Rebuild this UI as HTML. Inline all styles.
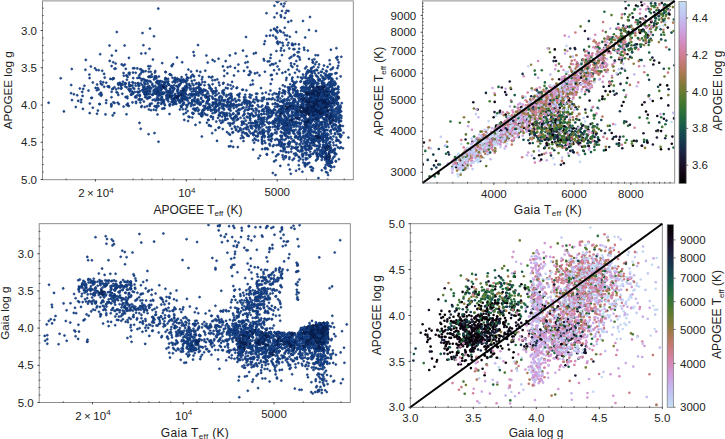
<!DOCTYPE html><html><head><meta charset="utf-8"><style>html,body{margin:0;padding:0;background:#fff;}svg{display:block;}text{font-family:"Liberation Sans", sans-serif;fill:#222;}</style></head><body>
<svg width="725" height="439" viewBox="0 0 725 439">
<defs>
<linearGradient id="cbTR" x1="0" y1="0" x2="0" y2="1"><stop offset="0.000" stop-color="#c5dff2"/><stop offset="0.025" stop-color="#c2d7f3"/><stop offset="0.050" stop-color="#c1cdf3"/><stop offset="0.075" stop-color="#c2c5f3"/><stop offset="0.100" stop-color="#c5baf0"/><stop offset="0.125" stop-color="#c8b1ec"/><stop offset="0.150" stop-color="#cca6e4"/><stop offset="0.175" stop-color="#cf9ddb"/><stop offset="0.200" stop-color="#d295d0"/><stop offset="0.225" stop-color="#d48dc1"/><stop offset="0.250" stop-color="#d487b2"/><stop offset="0.275" stop-color="#d381a0"/><stop offset="0.300" stop-color="#cf7e8f"/><stop offset="0.325" stop-color="#c87b7c"/><stop offset="0.350" stop-color="#bf796d"/><stop offset="0.375" stop-color="#b5795e"/><stop offset="0.400" stop-color="#a7794f"/><stop offset="0.425" stop-color="#997944"/><stop offset="0.450" stop-color="#877a3a"/><stop offset="0.475" stop-color="#787b34"/><stop offset="0.500" stop-color="#667a30"/><stop offset="0.525" stop-color="#577a2f"/><stop offset="0.550" stop-color="#467830"/><stop offset="0.575" stop-color="#3a7533"/><stop offset="0.600" stop-color="#2f7137"/><stop offset="0.625" stop-color="#256b3d"/><stop offset="0.650" stop-color="#1e6542"/><stop offset="0.675" stop-color="#195d48"/><stop offset="0.700" stop-color="#16554b"/><stop offset="0.725" stop-color="#154b4e"/><stop offset="0.750" stop-color="#15424e"/><stop offset="0.775" stop-color="#17374d"/><stop offset="0.800" stop-color="#182f49"/><stop offset="0.825" stop-color="#1a2744"/><stop offset="0.850" stop-color="#1b1e3b"/><stop offset="0.875" stop-color="#1a1733"/><stop offset="0.900" stop-color="#181027"/><stop offset="0.925" stop-color="#150b1d"/><stop offset="0.950" stop-color="#0f0611"/><stop offset="0.975" stop-color="#080308"/><stop offset="1.000" stop-color="#000000"/></linearGradient>
<linearGradient id="cbBR" x1="0" y1="0" x2="0" y2="1"><stop offset="0.000" stop-color="#000000"/><stop offset="0.025" stop-color="#080308"/><stop offset="0.050" stop-color="#0f0611"/><stop offset="0.075" stop-color="#150b1d"/><stop offset="0.100" stop-color="#181027"/><stop offset="0.125" stop-color="#1a1733"/><stop offset="0.150" stop-color="#1b1e3b"/><stop offset="0.175" stop-color="#1a2744"/><stop offset="0.200" stop-color="#182f49"/><stop offset="0.225" stop-color="#17374d"/><stop offset="0.250" stop-color="#15424e"/><stop offset="0.275" stop-color="#154b4e"/><stop offset="0.300" stop-color="#16554b"/><stop offset="0.325" stop-color="#195d48"/><stop offset="0.350" stop-color="#1e6542"/><stop offset="0.375" stop-color="#256b3d"/><stop offset="0.400" stop-color="#2f7137"/><stop offset="0.425" stop-color="#3a7533"/><stop offset="0.450" stop-color="#467830"/><stop offset="0.475" stop-color="#577a2f"/><stop offset="0.500" stop-color="#667a30"/><stop offset="0.525" stop-color="#787b34"/><stop offset="0.550" stop-color="#877a3a"/><stop offset="0.575" stop-color="#997944"/><stop offset="0.600" stop-color="#a7794f"/><stop offset="0.625" stop-color="#b5795e"/><stop offset="0.650" stop-color="#bf796d"/><stop offset="0.675" stop-color="#c87b7c"/><stop offset="0.700" stop-color="#cf7e8f"/><stop offset="0.725" stop-color="#d381a0"/><stop offset="0.750" stop-color="#d487b2"/><stop offset="0.775" stop-color="#d48dc1"/><stop offset="0.800" stop-color="#d295d0"/><stop offset="0.825" stop-color="#cf9ddb"/><stop offset="0.850" stop-color="#cca6e4"/><stop offset="0.875" stop-color="#c8b1ec"/><stop offset="0.900" stop-color="#c5baf0"/><stop offset="0.925" stop-color="#c2c5f3"/><stop offset="0.950" stop-color="#c1cdf3"/><stop offset="0.975" stop-color="#c2d7f3"/><stop offset="1.000" stop-color="#c5dff2"/></linearGradient>
<clipPath id="cTL"><rect x="42.5" y="0.9" width="310.8" height="178.79999999999998"/></clipPath>
<clipPath id="cBL"><rect x="39.2" y="223.7" width="311.1" height="178.8"/></clipPath>
<clipPath id="cTR"><rect x="422.5" y="0.9" width="252.20000000000005" height="182.1"/></clipPath>
<clipPath id="cBR"><rect x="410.3" y="223.7" width="251.99999999999994" height="183.60000000000002"/></clipPath>
<marker id="mB" markerWidth="4" markerHeight="4" refX="2" refY="2" markerUnits="userSpaceOnUse" overflow="visible"><circle cx="2" cy="2" r="1.05" fill="#1b4f98" stroke="#0d2c68" stroke-width="0.5"/></marker>
<marker id="mD" markerWidth="4" markerHeight="4" refX="2" refY="2" markerUnits="userSpaceOnUse" overflow="visible"><circle cx="2" cy="2" r="1.05" fill="#0d2f6e" stroke="#06163a" stroke-width="0.6"/></marker>
<marker id="k0" markerWidth="4" markerHeight="4" refX="2" refY="2" markerUnits="userSpaceOnUse" overflow="visible"><circle cx="2" cy="2" r="1.3" fill="#070206"/></marker><marker id="k1" markerWidth="4" markerHeight="4" refX="2" refY="2" markerUnits="userSpaceOnUse" overflow="visible"><circle cx="2" cy="2" r="1.3" fill="#120817"/></marker><marker id="k2" markerWidth="4" markerHeight="4" refX="2" refY="2" markerUnits="userSpaceOnUse" overflow="visible"><circle cx="2" cy="2" r="1.3" fill="#191129"/></marker><marker id="k3" markerWidth="4" markerHeight="4" refX="2" refY="2" markerUnits="userSpaceOnUse" overflow="visible"><circle cx="2" cy="2" r="1.3" fill="#1b1c3a"/></marker><marker id="k4" markerWidth="4" markerHeight="4" refX="2" refY="2" markerUnits="userSpaceOnUse" overflow="visible"><circle cx="2" cy="2" r="1.3" fill="#192a46"/></marker><marker id="k5" markerWidth="4" markerHeight="4" refX="2" refY="2" markerUnits="userSpaceOnUse" overflow="visible"><circle cx="2" cy="2" r="1.3" fill="#16394d"/></marker><marker id="k6" markerWidth="4" markerHeight="4" refX="2" refY="2" markerUnits="userSpaceOnUse" overflow="visible"><circle cx="2" cy="2" r="1.3" fill="#15494e"/></marker><marker id="k7" markerWidth="4" markerHeight="4" refX="2" refY="2" markerUnits="userSpaceOnUse" overflow="visible"><circle cx="2" cy="2" r="1.3" fill="#175a49"/></marker><marker id="k8" markerWidth="4" markerHeight="4" refX="2" refY="2" markerUnits="userSpaceOnUse" overflow="visible"><circle cx="2" cy="2" r="1.3" fill="#1f6741"/></marker><marker id="k9" markerWidth="4" markerHeight="4" refX="2" refY="2" markerUnits="userSpaceOnUse" overflow="visible"><circle cx="2" cy="2" r="1.3" fill="#2d7038"/></marker><marker id="k10" markerWidth="4" markerHeight="4" refX="2" refY="2" markerUnits="userSpaceOnUse" overflow="visible"><circle cx="2" cy="2" r="1.3" fill="#417731"/></marker><marker id="k11" markerWidth="4" markerHeight="4" refX="2" refY="2" markerUnits="userSpaceOnUse" overflow="visible"><circle cx="2" cy="2" r="1.3" fill="#5a7a2f"/></marker><marker id="k12" markerWidth="4" markerHeight="4" refX="2" refY="2" markerUnits="userSpaceOnUse" overflow="visible"><circle cx="2" cy="2" r="1.3" fill="#757b33"/></marker><marker id="k13" markerWidth="4" markerHeight="4" refX="2" refY="2" markerUnits="userSpaceOnUse" overflow="visible"><circle cx="2" cy="2" r="1.3" fill="#907a3e"/></marker><marker id="k14" markerWidth="4" markerHeight="4" refX="2" refY="2" markerUnits="userSpaceOnUse" overflow="visible"><circle cx="2" cy="2" r="1.3" fill="#a97951"/></marker><marker id="k15" markerWidth="4" markerHeight="4" refX="2" refY="2" markerUnits="userSpaceOnUse" overflow="visible"><circle cx="2" cy="2" r="1.3" fill="#be796a"/></marker><marker id="k16" markerWidth="4" markerHeight="4" refX="2" refY="2" markerUnits="userSpaceOnUse" overflow="visible"><circle cx="2" cy="2" r="1.3" fill="#cc7c86"/></marker><marker id="k17" markerWidth="4" markerHeight="4" refX="2" refY="2" markerUnits="userSpaceOnUse" overflow="visible"><circle cx="2" cy="2" r="1.3" fill="#d382a3"/></marker><marker id="k18" markerWidth="4" markerHeight="4" refX="2" refY="2" markerUnits="userSpaceOnUse" overflow="visible"><circle cx="2" cy="2" r="1.3" fill="#d48cbe"/></marker><marker id="k19" markerWidth="4" markerHeight="4" refX="2" refY="2" markerUnits="userSpaceOnUse" overflow="visible"><circle cx="2" cy="2" r="1.3" fill="#d198d4"/></marker><marker id="k20" markerWidth="4" markerHeight="4" refX="2" refY="2" markerUnits="userSpaceOnUse" overflow="visible"><circle cx="2" cy="2" r="1.3" fill="#cba8e5"/></marker><marker id="k21" markerWidth="4" markerHeight="4" refX="2" refY="2" markerUnits="userSpaceOnUse" overflow="visible"><circle cx="2" cy="2" r="1.3" fill="#c5b8ef"/></marker><marker id="k22" markerWidth="4" markerHeight="4" refX="2" refY="2" markerUnits="userSpaceOnUse" overflow="visible"><circle cx="2" cy="2" r="1.3" fill="#c1caf3"/></marker><marker id="k23" markerWidth="4" markerHeight="4" refX="2" refY="2" markerUnits="userSpaceOnUse" overflow="visible"><circle cx="2" cy="2" r="1.3" fill="#c3d9f3"/></marker>
</defs>
<g clip-path="url(#cTL)" fill="none" stroke-linecap="round">
<path stroke="none" marker-start="url(#mB)" marker-mid="url(#mB)" marker-end="url(#mB)" d="M223.9 104.6 331.0 147.6 204.4 109.6 312.2 92.4 301.0 90.9 156.2 82.2 275.1 129.7 266.8 110.9 249.9 118.6 230.7 110.6 156.2 94.1 230.0 116.1 282.6 109.0 169.2 85.1 157.8 89.1 329.5 158.4 313.2 109.6 185.1 80.9 320.0 94.6 216.4 91.3 301.1 146.4 340.6 137.2 298.2 139.0 185.9 87.3 296.5 148.0 215.5 130.1 328.6 158.2 309.6 132.5 241.8 104.6 343.5 132.8 138.9 77.6 185.9 94.4 328.0 100.8 172.3 95.8 331.5 115.5 326.7 71.5 234.6 105.5 138.5 84.1 226.8 113.1 308.8 98.6 316.8 100.4 130.8 89.1 129.5 74.5 304.2 83.5 333.2 102.3 193.4 105.3 278.4 94.1 301.2 139.1 177.5 81.7 144.7 83.8 181.6 77.1 264.0 113.9 333.1 67.6 177.0 57.5 258.3 117.0 156.7 105.8 298.8 160.8 296.7 116.2 268.0 137.0 276.2 115.4 287.1 35.6 232.3 123.5 319.7 103.1 259.0 125.7 302.0 104.9 330.5 96.4 262.2 98.1 236.8 116.6 288.4 97.5 283.6 6.3 198.6 93.0 278.3 126.0 192.1 100.7 329.0 152.8 298.7 112.3 179.2 85.7 277.5 66.5 288.3 117.9 306.0 85.7 300.4 158.9 269.6 109.7 239.3 97.0 318.3 106.1 227.4 105.1 289.5 157.3 321.8 156.3 192.3 100.1 289.1 90.1 232.5 132.6 298.7 101.4 289.8 102.8 322.2 89.4 125.5 83.4 333.3 98.3 200.0 90.2 250.7 133.4 261.0 88.1 330.5 170.4 220.3 102.6 340.8 126.0 297.8 104.0 137.8 83.4 309.1 77.9 245.2 94.7 281.8 123.8 277.3 112.3 277.0 119.8 215.9 102.9 295.2 113.0 284.9 94.0 278.5 128.8 323.9 119.5 296.5 125.2 78.2 100.9 313.9 92.9 194.2 101.4 119.4 84.2 262.4 110.8 215.8 99.6 292.1 122.2 253.4 133.0 305.6 83.1 320.2 116.8 326.6 145.6 179.6 101.1 317.9 145.7 212.3 105.3 284.6 130.7 287.0 131.2 191.6 102.8 167.1 94.7 284.5 3.5 310.1 130.2 312.4 99.3 197.5 102.9 316.2 104.8 179.6 94.9 311.9 86.1 258.9 115.8 194.3 108.8 279.3 109.7 323.6 142.1 234.7 116.9 100.2 54.2 113.4 102.3 275.0 125.7 275.7 37.0 161.7 89.3 325.8 150.4 295.6 95.3 193.7 89.8 287.3 119.8 118.9 104.1 250.3 115.4 334.7 153.5 305.3 98.6 231.3 103.6 269.0 136.6 288.0 108.0 286.3 152.3 302.3 120.5 247.7 117.4 300.4 128.8 332.7 85.2 77.2 95.3 162.3 102.8 336.5 118.9 158.9 76.5 271.8 111.7 296.4 110.2 327.9 103.4 89.4 74.6 230.3 66.5 266.6 121.6 174.0 103.5 242.9 89.7 316.7 128.2 133.0 72.6 301.0 81.3 174.6 98.2 282.1 93.1 331.8 122.5 268.7 107.8 279.1 120.5 322.6 147.6 307.7 98.7 170.4 93.1 318.6 102.0 302.2 94.4 276.3 30.2 306.8 135.1 338.7 106.7 337.5 68.1 290.8 173.8 317.5 107.7 294.1 99.8 330.3 110.1 325.0 147.1 132.0 91.6 292.3 118.2 315.8 125.9 333.9 93.2 295.0 72.8 144.2 82.4 314.2 71.3 303.0 99.7 244.4 113.7 230.4 101.8 171.8 65.5 262.4 105.6 291.8 146.8 278.5 154.2 306.2 119.8 270.6 139.8 274.3 109.3 329.3 142.9 282.5 128.6 322.0 92.1 293.2 131.0 298.8 156.9 283.3 100.4 332.2 68.8 290.7 136.8 314.8 102.6 264.0 132.4 263.7 59.0 256.5 115.0 254.7 131.7 243.8 121.7 332.1 162.4 287.7 104.6 301.9 150.1 156.4 89.9 271.3 99.3 253.0 140.3 250.4 125.7 274.8 99.7 164.5 93.1 164.5 82.6 323.9 105.3 253.0 101.6 106.1 103.0 242.2 132.8 85.8 59.9 318.9 116.4 280.5 135.8 314.8 91.2 258.2 119.5 279.5 111.2 301.2 142.1 336.2 121.4 209.8 106.3 313.7 131.6 277.7 104.4 319.7 91.8 325.1 152.3 116.8 32.0 208.4 107.2 145.1 92.3 194.9 104.5 267.6 117.6 285.6 120.8 284.2 122.0 297.1 69.6 321.8 170.3 256.4 110.5 255.9 52.9 310.7 95.5 296.4 112.3 156.5 77.6 309.6 88.6 228.7 102.3 157.9 80.9 300.6 129.1 302.1 89.4 175.0 77.8 301.1 116.8 111.5 105.0 335.2 111.7 274.1 70.2 139.3 75.4 282.8 124.2 138.7 88.8 171.7 96.1 212.7 102.5 274.4 5.7 267.0 154.7 329.3 74.2 211.0 110.1 340.2 115.1 232.7 119.1 156.7 107.7 248.0 113.5 334.8 109.6 293.7 55.5 312.7 93.8 261.7 117.7 293.7 140.2 315.1 127.2 318.6 73.1 224.1 90.0 124.6 45.5 295.9 109.6 126.5 114.3 336.8 94.8 309.2 95.3 114.3 113.1 220.6 96.1 198.0 45.1 273.3 110.6 277.7 105.2 338.1 134.1 225.0 116.6 303.0 74.6 174.5 103.2 208.9 76.9 341.0 147.4 296.3 144.5 302.9 115.1 334.7 156.2 322.3 97.7 219.8 120.6 111.5 97.3 304.6 130.4 302.4 115.0 293.2 101.4 133.2 93.6 226.4 96.4 314.5 145.8 231.2 117.9 331.5 107.2 248.8 123.0 293.1 45.1 278.9 120.9 180.3 83.8 180.5 102.4 292.6 160.0 328.1 125.5 253.8 99.6 331.2 133.5 214.7 107.6 205.0 90.4 234.0 75.5 141.6 80.6 339.5 130.7 263.7 99.2 311.5 96.9 252.5 109.2 103.2 82.2 319.5 116.4 165.0 105.2 246.7 124.7 325.0 124.0 209.0 99.4 318.3 104.5 233.2 146.9 298.0 147.1 217.7 105.5 135.4 83.4 287.9 112.5 310.5 111.6 321.9 88.7 214.7 112.8 297.3 132.5 253.6 111.0 310.9 138.1 338.8 128.4 298.8 165.3 150.7 81.9 166.1 89.7 177.4 78.9 297.2 93.5 303.9 98.6 201.8 136.5 309.7 138.4 328.4 89.6 230.5 107.8 269.3 116.0 307.2 106.0 302.7 127.2 222.7 91.8 299.9 132.5 271.6 111.0 272.0 138.7 270.0 145.4 322.5 82.5 323.3 107.8 185.0 96.4 280.7 146.2 212.7 105.8 149.1 91.1 245.4 97.4 170.4 90.5 242.8 107.8 313.7 115.6 261.4 100.6 224.3 70.6 243.6 107.6 204.5 85.2 320.6 114.0 328.3 159.8 233.4 105.2 183.6 94.0 327.7 179.7 294.7 109.7 171.8 66.2 242.9 137.4 312.8 95.3 296.1 170.7 287.8 87.4 118.4 84.7 308.3 142.0 149.8 81.0 276.6 1.2 271.3 136.8 330.5 131.2"/><path stroke="none" marker-start="url(#mD)" marker-mid="url(#mD)" marker-end="url(#mD)" d="M328.0 95.1 305.4 83.6 305.8 91.6 326.1 159.0 329.8 149.4 312.7 102.8 315.3 110.1 317.5 105.0 316.9 104.4 317.0 114.5 310.7 100.5 313.6 103.8 327.6 145.4 328.8 159.2 313.7 99.6 327.2 92.3 313.8 80.4 286.0 109.6 302.6 107.7 312.6 85.6 318.0 107.6 315.9 109.9 311.6 93.2 314.2 93.9 327.7 111.9 311.9 84.9 322.7 137.4 322.4 88.8 302.0 99.2 317.7 138.0 162.0 85.8 323.4 96.4 305.9 123.0 311.7 83.3 301.1 111.9 311.4 108.0 326.1 94.6 323.3 89.2 316.0 135.9 293.3 105.8 318.4 106.5 169.7 95.0 328.6 96.5 323.0 110.4 308.8 127.4 316.0 139.9 307.1 124.0 325.5 109.0 181.3 92.6 332.3 100.7 300.2 107.8"/><path stroke="none" marker-start="url(#mB)" marker-mid="url(#mB)" marker-end="url(#mB)" d="M314.1 80.5 280.0 42.3 236.4 105.1 215.0 80.1 114.5 87.3 303.2 115.0 199.8 122.5 330.5 78.4 306.2 143.2 275.2 103.2 326.1 142.6 276.5 145.2 302.8 143.8 284.2 145.1 178.5 100.4 221.0 112.9 267.7 61.5 224.0 93.0 143.7 92.5 333.4 98.8 302.5 154.2 218.6 58.7 258.5 158.3 123.4 65.6 152.9 59.5 301.8 151.5 296.3 107.3 325.4 78.7 265.9 92.6 310.7 121.0 258.0 136.1 160.3 86.2 206.3 103.3 168.0 83.9 324.2 130.4 301.1 123.1 90.8 66.5 330.3 141.9 193.4 113.3 270.7 83.9 310.9 106.8 321.5 87.4 275.0 106.8 216.3 90.4 222.9 103.8 158.9 93.0 326.8 114.7 274.9 132.9 306.9 136.4 323.2 114.7 297.4 92.5 297.9 115.3 172.0 86.9 304.3 121.8 332.6 90.0 324.3 132.1 144.3 88.2 138.0 92.4 193.7 94.1 82.6 95.9 310.4 129.5 323.8 146.1 335.0 148.8 200.5 88.6 293.3 102.6 212.4 76.7 101.1 95.8 309.0 58.9 277.8 128.5 196.4 102.0 288.1 143.6 329.9 156.0 281.7 142.2 262.2 149.1 332.9 112.6 315.6 88.1 322.2 95.8 287.4 120.0 223.6 112.9 298.7 96.7 288.3 109.4 209.2 107.9 309.3 98.8 311.3 143.0 242.3 89.8 227.2 105.7 323.9 145.6 236.6 120.0 295.4 155.6 263.3 122.3 316.3 113.0 336.2 115.5 237.5 94.9 244.3 102.0 339.4 112.3 209.6 104.4 338.3 87.2 328.4 112.7 249.7 114.4 155.2 85.9 272.9 146.2 314.4 88.9 306.5 143.0 198.8 86.8 158.5 106.1 314.7 139.3 158.2 98.5 336.3 118.6 152.8 94.6 321.7 72.0 285.0 116.5 296.9 106.7 327.9 161.1 315.2 125.3 335.1 128.0 303.1 106.8 291.3 103.5 303.9 117.9 218.2 105.3 232.7 105.4 147.3 98.8 291.9 106.1 178.7 96.2 321.4 90.8 299.5 97.4 313.1 112.9 306.4 108.2 340.7 120.9 268.4 129.3 231.9 100.4 320.5 106.7 299.9 133.6 328.0 75.8 238.2 131.5 158.4 99.7 311.4 130.4 255.0 122.7 162.0 92.8 285.3 91.7 149.8 76.7 238.2 71.2 318.3 67.2 289.3 141.6 336.6 130.2 145.9 93.2 281.5 144.4 313.9 93.7 293.1 89.9 277.4 123.5 181.0 105.8 287.0 109.1 189.5 97.9 279.4 109.5 244.3 99.5 292.0 112.0 195.2 93.9 145.6 80.3 292.7 115.8 258.6 100.6 205.9 97.1 301.9 101.2 200.4 93.7 92.8 82.5 319.1 64.4 179.7 84.7 335.9 98.0 128.8 89.5 266.4 114.1 322.6 154.3 246.8 116.7 318.5 80.7 231.4 141.2 296.8 108.3 315.7 112.4 228.7 133.6 321.4 116.5 178.3 99.5 252.6 105.7 197.2 99.7 330.9 81.5 284.4 148.3 311.2 129.6 323.0 151.3 73.9 94.2 281.6 121.5 319.3 88.4 276.2 93.9 308.1 72.4 242.5 102.7 159.7 94.1 318.3 107.6 319.7 89.8 157.1 87.5 308.1 146.1 275.5 175.0 256.6 123.4 322.2 81.3 328.2 103.9 309.5 132.9 145.2 97.3 320.7 105.4 337.5 93.2 340.2 129.0 261.9 139.8 270.1 130.0 300.5 94.0 209.6 86.1 289.4 100.3 207.5 102.6 303.7 101.8 269.9 35.6 254.6 138.6 295.2 136.9 318.1 110.4 325.4 112.4 294.4 49.2 178.0 89.7 276.4 38.5 201.2 97.8 296.2 121.8 294.4 64.1 318.1 136.4 322.6 96.4 132.5 102.4 332.4 79.6 322.1 126.9 312.2 106.2 289.5 131.9 305.8 149.8 305.2 163.1 144.9 92.2 146.6 97.3 123.6 106.6 203.2 109.8 319.8 92.5 311.0 122.4 279.1 119.3 177.8 93.5 243.0 50.6 314.6 116.9 147.0 94.1 269.0 123.6 186.5 99.7 231.3 93.9 290.6 126.3 297.5 106.7 337.4 103.4 150.4 76.8 311.4 148.5 276.9 13.3 155.0 90.3 307.9 70.4 298.3 118.9 131.2 94.6 294.6 86.4 324.5 129.7 265.3 142.9 139.7 98.7 284.5 140.1 337.4 113.7 334.0 89.9 292.6 121.5 207.0 101.2 209.0 125.2 302.1 148.3 161.5 87.0 231.5 88.7 211.7 89.3 231.6 98.5 277.7 41.6 222.1 112.4 303.4 77.3 305.6 92.1 158.7 84.8 172.5 101.4 322.8 152.4 303.5 128.0 144.6 91.4 321.2 88.2 343.0 148.3 208.1 119.9 229.9 105.3 192.6 94.8 315.0 89.3 298.0 94.5 286.2 129.4 82.9 108.9 289.3 130.5 279.5 0.1 309.9 145.1 286.5 77.9 157.9 103.4 304.2 128.8 319.7 153.3 334.4 115.5 206.0 95.7 323.0 136.9 272.7 152.3 276.3 114.8 319.9 124.0 109.1 87.3 312.7 79.1 229.4 113.5 303.2 87.6 206.4 55.5 260.1 155.7 271.7 135.1 208.7 84.8 292.3 106.1 126.6 75.6 244.3 111.6 279.4 141.5 321.5 111.9 310.7 134.5 233.0 114.1 321.8 83.2 330.6 137.0 323.2 84.1 319.7 100.9 333.3 115.7 292.5 119.2 319.2 129.2 138.5 86.0 286.3 109.8 326.9 120.6 156.1 110.2 235.9 115.2 327.9 84.1 321.0 75.4 228.7 108.9 309.9 99.7 327.0 145.2 282.8 102.5 191.7 104.0 181.7 107.0 191.5 76.1 315.5 108.9 268.1 110.1 299.8 136.1 321.8 149.9 194.7 97.4 48.6 102.7 300.4 81.7 305.6 128.4 308.5 89.9 212.5 80.3 316.6 104.2 334.8 102.4 332.2 84.1 302.5 96.6 318.5 83.5 320.1 117.4 260.8 119.1 322.4 97.2 289.4 116.0 289.1 88.4 331.7 167.3 292.0 124.9 318.3 133.2 194.8 98.7 112.7 115.4 219.3 97.0 198.9 109.8 324.0 65.6 196.1 88.5 205.6 114.6 312.4 108.0 327.4 138.1 268.0 117.9 257.7 122.1 277.2 27.4 306.9 94.7 322.5 86.6 222.6 90.9 324.7 150.6 191.4 103.5 199.5 104.6 266.9 109.2 222.4 120.6 225.4 118.7 326.7 136.9 324.8 92.7 327.1 99.7 131.8 94.4 216.3 121.6 199.0 82.8 216.1 106.9 225.9 87.9 271.9 64.1 283.0 147.8 161.2 99.9 326.5 135.9 332.1 127.1 299.3 134.0 321.4 88.2 187.0 107.0 158.8 83.3 333.5 136.4 291.5 138.7 284.7 129.9 235.8 101.5 245.4 128.0 283.0 101.5 208.5 104.3 333.9 103.6 330.3 161.5 182.9 104.5 311.4 170.1"/><path stroke="none" marker-start="url(#mD)" marker-mid="url(#mD)" marker-end="url(#mD)" d="M285.0 116.4 309.0 131.0 319.3 90.0 312.7 98.3 315.1 118.6 327.3 149.4 315.1 95.5 175.2 96.0 312.2 119.7 176.7 97.6 184.3 99.3 324.3 105.1 289.9 123.5 312.6 98.4 324.0 112.3 316.4 105.9 332.5 103.1 313.0 107.2 307.3 101.4 313.7 102.8 326.4 105.2 306.1 101.3 326.0 104.7 176.0 96.4 328.1 100.5 320.7 88.1 317.6 96.6 282.2 111.9 301.9 113.0 305.3 111.6 324.5 152.0 323.1 91.3 332.0 110.4 319.2 101.6 314.2 107.8 318.4 118.4 316.1 98.9 313.2 93.8 302.5 104.5 308.0 102.5 306.7 93.8 304.7 109.6 315.9 99.8 318.6 107.5 306.6 94.5 322.9 111.9 315.8 91.1 182.9 95.5 303.2 111.4 309.9 81.0 318.9 111.5 286.8 108.7 168.7 92.0 163.1 85.4 311.9 108.4 325.5 113.4 340.0 125.3 313.4 89.5 321.4 87.3"/><path stroke="none" marker-start="url(#mB)" marker-mid="url(#mB)" marker-end="url(#mB)" d="M160.9 85.7 320.3 80.5 214.3 108.7 220.0 115.8 222.1 116.8 327.1 148.5 286.1 0.6 140.3 102.5 290.2 84.2 171.7 93.7 147.1 91.4 193.2 113.9 185.8 109.1 239.0 109.2 278.5 96.0 165.0 88.4 315.4 91.2 284.9 128.8 336.9 139.6 317.9 156.9 271.8 74.9 150.0 28.6 296.6 122.9 199.4 88.8 185.1 92.7 190.0 94.0 212.9 119.1 288.1 103.4 295.9 87.6 313.9 142.6 185.9 112.9 236.4 111.2 303.4 86.7 305.0 116.4 282.6 124.3 207.5 107.9 199.8 91.8 315.5 106.3 308.4 122.1 316.7 86.8 245.4 100.8 292.8 115.1 337.0 109.2 199.8 84.9 155.3 71.0 165.8 78.9 296.2 96.4 326.6 117.5 190.2 89.6 250.9 102.7 218.5 127.8 176.3 86.0 260.0 131.8 159.4 95.6 310.3 119.6 273.1 123.9 254.9 73.4 310.0 106.7 163.0 94.0 333.3 117.0 324.5 101.9 316.0 95.8 254.6 102.5 319.7 141.0 307.2 135.4 154.6 106.2 311.7 102.0 140.0 91.2 288.4 126.1 331.7 74.3 312.3 106.3 281.5 110.0 187.2 87.5 143.9 101.5 182.5 98.4 326.0 87.9 265.1 149.1 297.6 52.3 306.9 127.3 198.5 101.0 302.2 104.1 319.1 95.5 158.1 90.5 277.4 154.8 312.5 100.3 201.6 112.7 302.1 78.7 183.6 103.9 316.3 98.6 318.4 178.1 250.7 122.6 296.7 118.7 177.3 78.6 132.5 82.2 330.6 166.4 191.4 94.3 102.2 70.8 303.1 91.1 283.6 120.6 292.0 44.9 289.0 110.6 147.8 92.4 233.1 132.2 323.8 137.3 304.0 117.0 158.6 94.0 309.1 148.4 114.5 103.0 310.6 75.6 169.5 114.0 319.5 110.6 323.0 108.2 188.4 95.0 127.8 103.6 328.7 105.3 274.1 161.4 312.6 153.8 285.9 156.4 215.2 95.7 328.6 153.9 248.0 135.6 317.9 109.8 306.5 66.7 281.4 121.2 247.4 103.2 313.5 124.6 326.5 106.9 310.3 95.9 212.6 84.2 287.7 136.9 198.4 92.2 317.5 98.7 272.2 113.7 322.4 99.3 329.8 75.6 322.5 83.7 323.7 86.6 238.9 105.3 150.2 90.0 309.7 118.1 300.2 140.0 322.2 124.3 119.9 82.7 325.3 111.3 318.5 95.4 290.1 107.1 306.5 152.9 335.8 161.0 284.5 99.3 323.1 142.1 195.4 94.4 330.7 138.3 339.0 109.4 234.7 126.5 283.1 106.0 320.1 103.5 275.7 126.8 145.6 71.1 305.3 115.3 174.0 88.5 217.0 140.9 336.7 98.8 299.9 144.2 340.3 105.5 287.0 119.0 256.4 127.9 309.2 102.2 233.2 86.6 240.5 117.8 324.6 106.3 294.4 115.5 328.5 77.9 313.8 96.4 295.2 100.4 312.8 99.7 308.7 114.1 330.3 165.5 333.7 145.2 187.1 77.2 238.6 95.3 175.0 102.0 329.2 142.7 202.7 95.1 325.4 102.9 89.6 78.1 326.8 92.9 303.3 133.3 255.7 125.6 325.4 140.3 324.6 118.8 255.8 126.7 265.6 107.9 264.7 135.9 175.3 82.6 311.2 140.3 304.6 153.0 169.9 88.9 150.7 71.8 91.9 97.8 253.8 53.6 297.9 123.1 112.2 89.1 118.5 88.2 141.9 99.4 163.1 93.9 250.5 97.7 325.4 110.9 285.0 122.4 289.3 48.4 331.1 85.0 272.8 98.2 313.0 113.0 262.3 126.2 290.1 116.2 189.1 85.3 315.3 128.2 322.8 76.9 318.4 131.1 195.9 91.3 307.0 149.2 256.0 139.9 312.9 111.4 269.3 136.0 205.3 70.7 220.3 103.6 238.5 114.1 281.2 4.1 313.2 153.8 318.8 109.7 200.0 102.6 329.3 104.9 284.4 127.9 121.1 85.9 319.7 94.4 287.6 45.2 290.0 96.2 284.4 147.3 308.8 99.9 152.3 83.7 337.6 59.8 339.9 134.1 307.1 99.9 173.2 100.4 281.3 48.1 335.9 125.1 106.3 100.3 289.5 109.4 292.3 43.6 338.0 103.0 180.3 92.9 332.3 139.5 308.7 131.0 216.7 94.7 306.9 87.6 313.0 119.9 215.9 105.5 320.1 124.3 310.9 115.9 186.6 85.6 316.2 146.0 169.8 105.8 313.5 93.2 291.3 56.9 177.9 98.0 279.8 101.7 330.3 145.0 206.9 108.2 192.2 100.9 316.0 99.8 227.0 132.1 314.8 110.7 302.6 115.4 164.1 102.0 268.3 111.3 157.3 99.1 158.3 8.6 333.3 142.6 282.5 42.9 309.7 131.0 301.2 138.7 222.1 106.2 263.3 135.5 323.1 134.6 315.5 109.3 334.6 83.4 329.9 64.2 334.3 85.3 320.7 156.3 189.6 117.1 326.0 137.7 89.7 113.1 275.7 63.3 210.0 87.9 339.7 148.2 302.2 96.4 140.7 128.8 270.2 65.2 232.1 81.9 271.1 116.3 240.2 128.7 330.0 109.3 270.3 113.2 156.1 76.3 299.1 95.5 209.5 95.9 325.1 107.8 308.0 94.0 284.9 144.1 270.4 90.6 276.0 156.2 327.3 161.0 242.5 121.9 341.2 111.4 282.8 85.3 213.0 117.1 329.5 161.0 331.8 101.9 79.8 88.5 312.2 75.6 296.2 32.1 155.9 91.5 219.6 113.0 207.1 93.5 326.5 146.3 227.8 99.5 283.7 159.3 224.2 114.7 338.4 112.5 155.6 93.3 314.3 99.6 340.1 107.9 326.1 143.9 320.8 128.4 182.4 101.3 277.7 111.5 313.7 139.1 156.6 90.3 155.6 106.5 326.1 126.5 294.5 112.5 320.8 97.8 194.2 55.6 325.1 123.8 126.6 75.5 205.9 97.7 310.6 76.5 174.7 103.9 324.6 167.8 300.8 94.8 201.0 84.5 161.9 96.7 280.3 165.9 264.9 71.7 259.1 111.6 202.1 113.0 337.5 102.8 262.8 123.5 153.8 109.7 201.5 116.3 322.6 77.9 148.7 98.0 318.7 102.9 246.1 133.2 133.1 87.7 309.5 83.0 135.6 96.3 299.3 100.0 249.8 94.6 277.5 100.8 280.7 15.3 316.3 96.6 284.8 134.9 283.1 90.4 275.7 121.1 330.2 86.6 238.4 64.6 227.3 73.4 327.2 101.5 264.2 60.5 167.6 96.2 330.5 97.4 312.4 60.0 288.4 90.2 284.7 17.9 212.6 113.3 309.2 88.2 293.9 119.0 331.6 98.7 325.4 75.7 330.7 82.1 278.3 124.3 132.8 92.2 309.3 102.1 325.9 97.4 135.1 97.3 289.4 87.2 218.6 104.9 97.1 84.5 258.8 111.2 180.2 80.9 274.4 17.3 302.4 171.7 192.9 95.2 258.7 133.3 316.5 62.0 204.2 109.8 261.6 120.6 253.7 134.9 276.6 131.7 159.1 92.5 288.0 133.1 297.3 90.7 171.3 75.2 276.9 97.2 316.0 123.3 320.7 140.6 329.7 85.3 209.2 125.4 229.4 107.0 263.2 134.0 230.3 123.6 322.7 153.2 255.6 121.3 244.4 123.8 195.4 110.7 337.7 104.2 294.9 90.4 277.0 42.6"/><path stroke="none" marker-start="url(#mD)" marker-mid="url(#mD)" marker-end="url(#mD)" d="M312.8 113.6 311.0 107.7 182.5 91.0 183.5 90.5 312.4 98.8 317.5 114.2 327.8 110.2 325.3 109.4 321.1 103.2 207.6 97.0 325.1 93.5 306.2 123.6 319.4 103.7 319.7 100.6 327.0 146.8 313.3 119.0 320.0 92.4 308.5 109.6 306.2 93.6 307.6 113.7 305.1 109.8 327.3 115.8 315.1 104.4 169.4 91.3 318.0 102.0 321.8 105.3 307.3 122.4 313.5 101.6 329.1 154.3 316.7 107.4 302.3 105.3 309.7 86.9 311.1 111.3 317.4 107.2 318.8 126.6 295.7 117.8 316.6 108.0 308.9 107.8 314.2 107.8"/><path stroke="none" marker-start="url(#mB)" marker-mid="url(#mB)" marker-end="url(#mB)" d="M222.1 97.2 159.9 99.6 227.9 84.6 314.7 113.6 289.6 58.2 97.9 110.6 266.8 119.4 291.5 98.7 221.6 99.1 147.9 93.8 97.8 88.0 324.3 83.0 282.6 127.3 296.2 113.0 329.7 86.6 96.8 90.3 133.2 78.1 283.4 124.3 188.4 78.1 166.4 79.0 233.8 108.1 196.9 94.0 243.9 97.2 334.4 102.7 318.5 120.4 280.6 121.1 283.1 45.5 258.2 140.6 306.7 89.4 258.0 125.6 322.4 89.6 228.8 98.8 304.6 124.2 252.6 80.5 201.1 114.7 229.6 110.0 233.5 123.3 214.1 91.3 311.5 90.7 189.2 84.0 304.1 128.8 336.3 57.9 320.1 113.7 277.6 127.6 320.4 101.2 300.1 129.0 284.4 91.6 179.9 109.5 144.5 88.9 183.4 79.4 252.6 115.1 88.5 90.6 296.6 107.1 249.9 114.5 163.8 84.5 256.6 109.3 305.2 128.2 318.0 119.1 214.9 99.2 278.3 145.0 316.1 75.3 168.9 96.2 249.3 101.4 271.7 133.7 147.7 83.7 322.5 122.1 252.6 123.0 207.6 91.6 323.0 93.8 143.3 87.5 303.3 116.5 317.8 99.2 252.9 84.3 264.4 141.0 283.6 32.7 318.1 112.1 258.8 129.4 327.6 139.7 297.5 95.9 118.2 83.4 318.3 149.2 293.3 85.4 319.2 134.5 163.4 92.2 325.3 130.5 271.6 122.8 155.9 78.0 264.9 41.2 291.4 148.9 292.0 130.7 327.5 88.9 268.7 139.7 285.7 119.9 319.9 95.2 348.4 137.5 143.1 89.7 276.9 73.7 305.2 37.5 154.6 77.7 338.9 159.2 249.6 74.6 169.7 74.4 317.8 158.7 269.4 143.9 326.6 129.9 327.9 124.4 312.2 139.3 224.2 76.0 315.9 89.2 255.7 112.8 215.1 107.7 295.9 136.2 338.8 126.8 128.7 89.4 187.5 98.3 156.8 98.3 175.4 101.1 218.8 103.1 187.6 105.1 308.2 119.9 330.5 121.3 330.7 98.9 251.7 113.4 333.5 123.9 313.4 141.0 153.6 90.4 304.7 109.7 297.9 94.3 256.1 127.1 323.6 132.8 268.6 131.7 302.5 150.7 279.2 93.5 205.7 90.3 313.6 114.8 267.3 104.0 299.9 59.6 326.7 161.8 292.1 97.0 244.3 118.3 250.0 104.9 315.6 115.8 249.4 102.7 331.0 130.1 149.7 87.8 222.5 93.1 258.1 133.7 141.2 69.5 163.9 100.4 248.8 103.1 312.1 116.6 174.2 81.1 276.4 30.9 321.2 109.9 310.5 70.7 272.9 112.1 324.2 129.3 316.4 69.7 259.9 124.0 286.0 130.2 149.8 105.9 164.3 103.9 207.3 101.6 299.4 136.9 174.4 88.5 321.2 111.0 202.7 110.9 194.5 80.2 217.2 104.3 281.8 132.5 301.5 104.5 313.1 84.1 316.9 156.0 284.8 27.8 297.8 150.5 311.8 96.5 160.2 81.0 289.4 107.6 182.1 100.3 321.2 137.9 282.0 11.0 293.6 130.2 285.6 157.6 264.4 137.3 285.8 120.2 130.9 85.8 306.7 123.1 283.7 144.3 321.5 151.9 168.7 84.6 294.4 133.9 283.7 108.6 213.8 103.7 139.8 95.7 304.0 47.7 339.3 127.2 277.6 32.4 294.7 115.3 322.0 124.4 218.8 93.3 178.2 99.7 330.3 162.8 332.9 150.1 307.5 83.0 330.0 103.3 312.5 145.2 275.4 103.8 264.0 111.6 272.6 134.4 116.1 89.3 193.5 52.1 260.5 127.8 279.5 141.9 300.3 126.6 305.0 146.8 317.7 156.5 295.2 137.4 321.7 98.1 250.3 118.5 326.4 112.7 264.5 124.9 293.4 49.2 305.2 68.4 311.1 97.6 174.2 97.8 246.1 101.9 310.6 124.2 116.0 50.7 262.4 93.4 202.9 101.0 149.6 97.3 332.1 78.7 312.5 107.3 300.8 94.9 262.1 110.4 296.3 147.6 295.3 147.8 91.3 98.0 231.4 96.4 259.5 75.4 195.8 108.7 229.8 97.9 284.0 92.7 322.3 102.0 326.5 140.9 243.5 137.8 329.7 121.0 245.3 109.7 336.9 97.1 160.3 86.7 307.8 50.6 288.4 143.6 298.4 134.1 335.8 94.0 318.0 120.9 198.7 95.6 171.3 86.0 166.1 79.2 126.6 104.8 100.8 92.7 312.2 104.5 305.1 104.8 318.8 130.0 310.2 151.7 176.8 79.7 270.8 75.2 266.5 13.2 324.9 86.2 305.7 147.0 297.4 91.0 290.0 89.2 259.0 127.4 172.3 98.9 306.7 133.9 312.0 121.4 334.1 89.4 147.8 94.4 238.5 112.6 144.5 94.3 335.1 153.5 314.9 109.3 181.5 95.1 179.7 79.8 228.1 102.4 296.2 148.7 270.8 30.3 135.7 85.7 334.9 124.6 312.9 139.1 147.0 90.5 210.5 110.1 281.1 16.9 323.7 89.7 109.0 86.3 315.6 55.2 336.5 73.1 211.4 110.8 336.3 154.1 310.5 154.5 319.6 113.7 292.5 77.5 301.5 139.8 216.2 111.7 319.5 87.3 289.9 120.9 277.9 139.8 275.8 160.3 316.0 31.0 257.7 105.1 285.4 71.9 192.3 83.5 317.0 148.7 181.6 93.9 329.0 138.2 226.4 115.0 319.5 124.9 282.6 155.2 286.7 111.2 192.3 112.9 175.1 80.5 299.5 96.2 306.1 87.4 141.3 53.5 330.3 106.3 308.1 108.2 140.5 73.8 294.8 123.5 216.6 110.2 223.1 83.7 222.9 66.4 197.7 87.8 315.5 145.5 321.0 109.8 160.6 89.6 310.4 156.2 336.3 145.3 233.5 100.0 223.3 114.5 271.2 141.3 323.0 109.6 326.8 135.0 328.7 165.6 329.3 95.4 336.4 96.8 311.5 140.4 238.8 94.9 186.5 97.2 321.1 136.5 298.5 110.0 313.9 141.4 297.8 56.3 179.3 93.9 85.4 69.7 219.1 100.5 164.4 108.4 292.0 79.0 309.8 134.8 307.9 104.3 243.5 141.1 333.4 92.9 273.9 113.1 320.8 98.6 309.7 102.1 285.1 133.4 262.0 141.3 148.8 76.8 270.5 58.0 310.3 167.0 288.5 152.4 319.7 123.8 220.5 101.0 325.5 153.4 297.0 155.0 277.8 129.2 330.7 121.0 307.1 122.9 330.3 77.6 122.8 84.6 284.3 90.9 247.5 109.9 316.7 96.5 307.5 80.2 303.2 103.2 289.9 95.1 299.4 57.4 200.5 103.9 332.6 106.4 304.5 142.5 178.9 94.2 212.9 109.9 310.4 131.1 75.8 107.0 282.7 119.2 282.9 108.0 202.5 114.9 291.5 119.1 294.3 104.5 300.9 77.5 137.3 95.3 149.4 86.4 249.5 97.0 286.8 99.5 199.2 75.7 296.2 114.4 331.4 120.7 324.6 112.5 313.7 132.4 323.0 134.5 310.5 85.5 148.5 76.8 164.2 84.0 289.4 144.9 293.8 125.1 316.4 153.1 331.7 89.9 340.0 136.3 338.7 92.3 205.8 95.5 295.8 94.9 319.0 133.0 129.6 72.7 309.8 71.5 292.2 81.0"/><path stroke="none" marker-start="url(#mD)" marker-mid="url(#mD)" marker-end="url(#mD)" d="M311.5 107.5 321.7 103.8 320.1 100.2 309.1 94.1 285.5 106.1 329.6 151.2 316.9 102.4 313.6 106.9 327.6 96.9 331.4 103.6 310.6 102.0 307.3 109.3 301.9 114.6 327.6 91.4 318.4 114.2 302.0 99.0 309.3 115.0 315.3 97.8 181.8 99.6 326.2 156.8 301.8 95.2 284.6 126.2 325.5 158.7 332.5 100.2 317.9 86.9 329.5 91.9 317.8 111.3 317.6 136.1 321.8 96.6 307.9 109.7 309.6 100.3 325.3 157.4 325.7 119.4 325.4 99.9 324.2 119.2 290.8 105.8 321.9 100.9 319.1 86.8 306.2 93.6 280.4 113.4 307.9 110.2 307.1 101.9 327.4 116.2 305.4 115.0"/><path stroke="none" marker-start="url(#mB)" marker-mid="url(#mB)" marker-end="url(#mB)" d="M279.8 88.7 303.1 137.0 326.6 105.6 335.6 125.4 310.8 114.4 228.7 94.8 279.1 69.5 289.8 36.7 81.2 99.7 305.8 130.5 305.8 109.2 144.4 86.6 230.9 114.9 246.9 133.9 316.8 102.0 161.2 104.0 236.4 101.1 309.5 104.3 282.3 96.2 311.1 134.7 128.0 105.5 305.2 117.3 262.2 130.2 225.4 113.8 285.6 13.0 143.4 45.2 291.2 151.8 187.0 99.4 339.2 117.7 336.5 94.6 310.2 94.4 295.3 83.1 298.5 126.4 99.4 94.3 210.4 107.7 288.0 122.7 298.8 114.4 325.0 152.6 251.8 126.0 162.0 93.1 215.4 111.2 151.0 110.2 128.7 73.1 320.5 101.1 310.4 75.7 147.6 86.7 324.2 103.5 204.7 106.9 281.1 117.0 110.3 78.9 313.4 86.9 231.8 128.8 288.8 137.9 123.0 81.7 199.3 84.9 121.6 88.1 320.0 151.1 312.9 81.9 313.5 86.6 328.4 76.0 324.2 79.0 159.0 87.2 111.3 106.4 327.2 85.4 295.7 101.9 252.6 133.4 157.5 82.8 137.4 78.0 305.0 145.3 293.2 102.1 336.4 108.0 285.2 119.4 148.3 66.2 322.5 156.8 283.2 110.8 298.2 108.0 138.9 92.1 328.1 101.7 302.5 120.9 306.5 97.0 312.6 85.8 334.5 149.5 243.3 132.0 261.3 106.8 273.3 121.5 275.1 121.5 299.3 106.7 221.1 104.5 313.9 115.0 236.1 130.1 330.7 69.6 111.6 91.8 111.6 66.1 305.2 166.4 288.2 143.6 326.1 117.8 309.1 129.7 303.3 162.6 166.9 92.0 169.5 104.6 342.9 126.0 328.3 105.6 269.0 99.1 178.8 79.6 279.9 30.6 278.0 99.8 184.3 88.6 202.7 91.9 317.6 117.2 322.0 117.4 337.3 104.3 312.8 101.7 263.4 109.4 330.2 113.5 218.8 109.1 104.2 86.8 272.0 79.4 136.4 97.5 267.0 148.4 325.6 104.7 199.5 90.0 230.0 134.7 259.6 117.4 316.7 107.2 159.9 81.5 309.3 106.7 198.3 99.5 143.6 86.6 186.7 78.9 248.5 129.5 297.1 137.8 218.7 110.7 183.2 92.2 283.7 128.4 233.8 103.8 295.7 93.8 303.1 106.4 216.2 101.4 113.0 88.6 329.2 90.9 334.1 116.1 173.4 90.3 208.6 98.0 266.0 108.0 309.1 89.3 306.8 87.9 222.8 129.0 191.8 80.9 146.2 81.4 308.6 183.0 318.4 105.5 172.8 104.7 294.7 122.9 224.7 120.1 248.8 136.0 325.3 91.7 273.4 64.4 278.0 126.3 299.6 144.3 337.9 106.6 332.6 81.3 262.3 123.4 258.5 126.0 321.9 96.9 307.1 71.8 271.8 115.4 310.9 110.4 246.4 90.4 223.2 100.2 230.2 105.8 288.5 164.8 315.1 115.6 113.7 78.5 314.4 128.5 311.9 101.5 334.7 152.9 297.6 104.0 317.0 83.0 304.3 49.8 83.2 88.9 150.3 66.2 325.3 107.7 292.8 85.5 307.2 140.5 314.0 144.5 335.1 102.3 118.3 94.9 95.0 68.3 209.5 88.2 247.9 126.9 340.2 111.1 308.0 128.0 182.6 88.6 324.4 105.6 309.6 88.2 152.2 94.6 96.4 70.0 315.1 101.1 180.6 91.1 315.2 64.3 166.5 97.9 164.4 81.7 278.9 122.0 171.5 102.0 310.9 147.3 272.8 173.0 316.3 107.9 308.9 136.7 248.6 109.5 327.6 66.9 211.2 77.5 283.1 122.7 312.5 118.8 188.4 69.6 168.3 81.4 285.5 134.5 334.2 166.8 322.1 157.4 233.6 118.7 263.0 118.1 239.7 110.1 335.7 83.5 326.9 94.8 332.9 110.2 161.6 102.3 226.9 106.7 321.3 156.0 149.5 48.8 140.9 83.5 330.0 106.1 324.3 73.3 308.0 126.3 139.5 122.9 330.7 149.3 304.1 91.6 261.5 114.4 321.2 107.4 150.2 97.3 250.9 127.7 279.0 116.6 192.7 74.7 240.9 104.7 330.2 124.0 309.5 155.7 157.2 81.0 254.2 142.7 287.9 113.2 267.9 104.2 294.9 121.7 275.3 110.3 207.9 109.7 327.3 133.6 289.6 74.6 312.0 126.8 309.1 80.2 255.9 135.9 312.4 110.2 313.7 106.0 330.0 110.2 291.0 63.3 212.6 59.9 287.9 129.6 340.7 107.0 282.4 72.9 99.8 104.2 276.6 133.5 332.3 151.9 285.6 117.3 308.2 82.7 336.8 99.0 162.2 63.1 294.0 122.5 285.5 104.3 277.5 118.1 233.8 118.1 321.3 128.3 244.0 70.9 263.7 132.9 316.5 127.6 134.9 92.0 89.8 103.5 284.2 104.0 331.4 81.0 214.6 61.3 329.1 94.0 71.1 93.2 327.5 130.1 129.2 82.6 325.4 122.6 244.7 103.6 262.5 119.8 312.7 62.4 338.7 119.0 326.7 75.5 307.5 125.9 315.3 117.5 335.3 84.6 329.1 163.2 286.0 138.8 333.0 91.1 168.3 98.6 269.5 127.3 293.0 108.9 319.6 108.8 299.0 130.3 316.0 125.0 306.5 107.6 299.2 122.9 213.0 103.6 154.9 72.5 135.7 72.8 200.3 103.9 302.8 136.4 262.6 132.1 167.5 82.3 235.5 53.4 319.7 146.4 192.3 117.5 227.5 118.9 112.4 79.1 156.0 90.3 186.1 86.8 336.0 88.8 115.6 68.6 138.3 83.0 310.7 122.6 120.9 84.6 331.7 151.9 104.7 77.6 305.9 107.6 265.2 148.4 303.4 102.5 183.0 104.5 321.5 103.9 277.7 119.1 317.2 70.3 219.7 107.8 237.8 118.9 309.7 111.4 298.5 117.9 144.2 88.3 328.1 158.5 229.8 55.4 322.0 154.2 303.0 21.0 313.3 84.3 168.1 78.9 316.4 154.0 283.6 107.7 286.9 103.0 166.4 81.6 182.1 95.5 240.8 138.3 317.5 109.8 279.4 91.9 151.3 88.1 309.7 126.4 274.1 122.4 319.3 80.0 327.8 163.8 181.6 99.2 227.1 102.6 212.2 133.2 305.2 114.2 202.3 90.7 289.1 107.9 224.2 113.3 256.3 97.1 137.3 68.4 84.4 85.7 296.5 81.8 160.6 94.6 145.4 84.2 321.2 122.5 272.6 94.6 263.4 129.5 338.0 103.4 205.1 95.4 314.4 136.9 107.7 86.4 308.5 139.6 224.1 105.1 269.5 122.7 223.8 108.6 267.4 103.0 306.1 122.2 321.7 103.1 146.6 88.0 320.9 131.8 334.0 82.8 241.8 135.5 298.9 44.4 319.3 101.2 188.1 121.0 134.2 88.9 190.5 85.9 292.5 111.8 227.2 115.4 212.7 92.3 294.6 99.3 183.9 102.6 288.3 21.9 287.7 124.4 121.7 64.4 326.4 148.9 183.2 96.7 175.5 98.2"/><path stroke="none" marker-start="url(#mD)" marker-mid="url(#mD)" marker-end="url(#mD)" d="M281.2 108.5 333.1 118.0 312.5 112.1 301.5 106.2 282.1 112.4 145.4 94.3 311.5 98.1 315.1 104.8 308.3 112.1 316.9 88.0 326.4 90.0 315.8 111.6 304.1 98.6 317.3 99.1 328.5 95.2 333.8 100.2 325.9 115.4 287.0 107.2 320.9 107.2 328.8 101.3 310.7 109.4 305.9 121.7 326.4 98.0 282.5 113.0 319.7 105.5 319.5 90.2 325.1 108.2 314.5 107.0 328.4 147.1 313.7 90.6 317.1 104.0 318.0 136.5 312.5 87.2 313.3 106.4 302.5 95.9 280.7 112.5 309.1 146.3 326.7 107.5 307.2 110.7 323.3 87.4 301.2 112.6 326.5 90.1 310.2 112.5 313.9 92.5 285.6 123.0 316.1 101.2 281.7 106.2 317.3 92.1 330.6 102.1 306.7 100.2 315.6 139.6 311.4 91.7 314.5 112.0 293.5 107.6 158.0 92.3 305.5 111.8 317.4 117.9 311.0 111.8 312.6 107.2 317.8 93.6"/><path stroke="none" marker-start="url(#mB)" marker-mid="url(#mB)" marker-end="url(#mB)" d="M246.3 100.2 172.6 86.7 322.9 147.6 152.6 94.8 314.0 143.2 267.1 131.3 338.9 122.8 302.2 147.3 296.6 111.9 235.0 67.9 167.6 91.8 261.4 114.1 287.0 127.1 247.1 135.4 337.2 131.8 169.7 93.9 298.8 52.1 315.2 109.8 181.3 81.6 331.9 118.4 336.8 78.5 311.6 91.8 303.0 154.7 338.8 140.6 309.0 30.0 328.3 97.9 264.0 97.5 237.8 147.1 97.0 113.7 308.1 140.2 311.1 68.3 162.5 81.8 262.4 143.7 324.8 121.9 149.7 104.8 339.2 121.3 285.2 156.4 141.8 106.1 330.6 166.6 289.0 92.0 335.5 114.4 281.9 111.4 327.4 172.7 172.5 88.0 203.3 101.2 196.9 70.9 158.1 95.0 326.4 101.6 249.5 131.6 323.3 146.8 269.3 139.8 293.2 123.9 228.4 123.3 157.6 96.3 324.8 78.5 162.2 108.7 299.9 134.4 250.8 72.5 316.7 95.9 301.0 88.0 324.4 113.4 223.9 94.7 250.2 120.2 307.9 122.2 336.1 140.9 218.7 115.4 313.8 99.6 320.1 90.5 315.1 118.3 339.0 109.6 280.3 98.5 257.3 72.8 155.5 100.8 299.3 123.2 304.1 82.0 318.9 147.8 302.7 126.9 246.5 56.2 264.5 117.5 188.5 116.6 257.2 136.5 283.9 133.6 207.7 62.6 341.8 103.1 328.5 134.7 316.1 107.1 337.8 126.7 133.1 68.3 283.1 107.0 287.1 113.5 304.8 90.1 336.9 111.9 63.9 111.4 298.3 104.7 312.6 170.8 215.3 111.5 298.0 137.2 336.1 128.7 167.6 100.0 181.4 97.4 268.9 98.8 212.7 97.9 315.0 150.6 338.2 86.5 301.2 112.5 155.8 78.4 284.1 126.6 315.1 108.1 227.7 88.4 120.9 88.7 177.8 92.1 302.3 112.0 60.7 78.3 324.0 99.5 327.2 76.9 324.0 153.1 323.8 94.9 281.5 128.1 331.3 116.7 326.2 109.9 306.7 136.6 290.0 104.2 169.9 93.1 184.1 80.5 251.6 95.3 331.9 111.6 185.5 81.5 338.0 147.4 241.7 121.7 111.3 104.1 283.8 149.6 324.0 145.5 138.6 99.7 215.4 110.1 297.8 150.5 128.9 57.9 255.8 122.6 333.3 94.5 154.0 36.3 293.6 81.9 268.4 131.8 316.9 92.0 268.5 113.0 295.9 135.8 313.3 97.5 207.3 115.0 182.9 109.3 176.3 103.9 289.7 142.7 284.2 125.2 329.2 93.0 283.1 101.7 296.8 143.4 165.4 71.8 253.5 135.1 306.3 154.8 289.9 115.5 318.1 114.0 262.3 101.0 195.3 95.5 329.9 151.6 125.8 68.9 304.8 87.9 71.8 69.0 329.4 116.8 272.2 112.6 274.4 93.2 124.7 64.6 285.6 123.5 294.4 107.1 180.3 99.9 305.4 124.6 332.9 125.8 186.2 74.8 149.7 76.8 311.8 136.1 331.0 113.6 125.5 83.6 297.1 115.1 202.4 110.6 270.9 135.5 214.3 103.2 340.1 109.0 323.8 84.7 194.0 76.4 279.2 112.4 177.2 91.1 266.7 154.1 127.4 98.3 305.9 81.3 154.8 76.4 177.8 86.9 280.8 150.9 109.5 45.5 304.8 131.9 154.5 133.1 325.3 98.5 326.4 99.1 195.5 124.9 208.2 93.5 333.9 150.7 282.4 144.1 311.5 167.0 279.8 122.9 331.0 101.9 330.9 98.1 334.1 129.8 247.7 62.0 111.8 55.5 170.1 90.3 267.9 107.2 302.4 106.3 226.6 95.0 294.3 95.5 156.8 83.0 329.6 60.3 331.0 106.7 326.1 97.6 322.0 134.1 210.9 116.7 276.3 113.3 302.7 96.1 163.0 100.9 309.6 90.2 231.2 95.2 281.5 137.4 332.0 151.8 208.7 107.2 279.8 141.6 298.3 96.1 318.3 108.4 308.4 133.3 293.2 132.9 228.0 100.4 284.3 115.1 307.1 78.3 279.7 140.2 312.1 132.0 333.2 89.9 284.8 101.1 145.6 89.3 256.4 99.8 283.2 108.8 147.4 80.6 161.5 81.6 307.2 94.0 306.7 118.7 309.4 100.0 334.9 124.8 263.4 109.4 268.7 127.5 330.0 77.2 186.1 90.6 335.9 161.5 321.7 97.4 317.6 154.2 306.5 73.4 304.1 146.8 316.7 111.9 139.6 95.9 326.1 126.8 305.1 82.4 193.2 108.8 318.1 134.6 317.0 83.4 310.1 110.3 195.6 93.8 227.2 102.1 236.2 129.3 310.5 85.9 314.4 59.2 333.4 111.5 322.8 69.2 281.3 106.5 247.4 67.3 122.3 93.8 203.7 89.5 165.4 78.0 321.0 87.7 312.8 101.4 145.4 93.5 315.1 89.5 318.1 93.2 313.0 135.9 338.7 120.8 234.3 121.5 306.2 128.3 173.0 102.4 305.3 135.4 170.3 93.3 237.6 105.3 282.0 55.1 324.3 103.6 148.7 71.8 339.0 113.4 285.6 151.8 196.0 101.3 130.1 90.6 116.5 92.2 203.5 106.0 264.6 131.0 286.9 131.8 216.1 104.7 289.1 146.4 322.2 139.6 323.1 97.1 317.3 97.1 340.4 142.3 336.5 100.6 274.8 126.3 295.1 95.7 314.5 97.1 181.0 107.0 293.2 124.2 274.1 109.7 215.7 88.0 101.7 94.7 175.7 101.5 281.2 106.6 175.2 94.1 314.8 121.3 279.6 115.2 170.1 104.2 253.4 116.4 312.8 138.1 334.4 150.8 325.8 98.7 289.8 94.2 307.0 144.3 211.1 116.4 295.9 105.9 314.8 73.2 340.3 142.7 165.7 72.3 309.5 124.1 127.7 77.0 251.7 108.9 261.7 124.1 273.0 121.4 304.5 117.7 162.0 98.1 328.5 118.9 114.5 68.7 284.8 149.3 258.8 114.5 264.2 119.5 149.7 88.2 289.8 169.5 193.5 85.2 323.5 127.5 183.4 82.0 332.7 90.6 321.3 122.5 331.6 160.5 132.4 85.4 256.1 93.7 106.2 82.7 291.2 20.8 319.0 142.7 318.6 105.7 158.5 102.7 298.3 123.2 144.6 80.0 270.9 54.7 334.5 105.1 268.9 113.3 245.8 120.6 318.0 103.4 208.5 100.2 246.0 37.0 200.3 71.9 305.3 78.1 225.2 100.0 292.7 103.6 102.2 84.7 339.1 128.0 262.0 136.9 202.5 82.1 187.7 100.5 324.9 159.7 318.5 142.1 335.2 134.1 295.5 90.8 258.7 106.8 295.8 153.4 327.0 103.2 323.7 152.0 303.8 136.3 153.3 86.8 325.8 137.4 296.5 108.0 293.6 102.6 275.4 118.5 316.7 76.3 237.9 110.3 286.2 80.0 309.4 77.7 340.8 130.4 304.9 120.1 336.1 99.9 288.2 128.3 245.4 62.7 320.5 150.2 255.3 130.3 140.2 78.2 308.6 130.2 251.3 123.3 328.4 146.7 320.6 98.9 173.1 64.1 329.1 82.5 338.3 65.7 313.6 126.2 161.4 87.8 310.6 148.6 246.5 107.3 268.2 115.5"/><path stroke="none" marker-start="url(#mD)" marker-mid="url(#mD)" marker-end="url(#mD)" d="M285.8 124.3 313.1 140.7 316.2 93.3 317.1 104.9 320.3 93.0 176.2 98.1 310.4 105.6 328.2 115.2 309.4 121.4 292.1 120.4 338.8 98.3 319.2 111.9 334.4 120.6 301.0 111.3 322.8 105.6 306.0 101.8 312.6 142.2 325.8 107.8 312.5 93.7 320.1 114.3 316.4 110.6 319.2 111.0 316.1 110.7 289.7 106.3 163.4 87.5 321.6 113.2 314.9 92.2 316.7 113.4 301.2 99.1 318.9 90.5 311.5 119.3 327.6 100.0 313.2 113.0 309.1 103.3 304.6 112.0 318.1 105.7 323.3 95.1 304.1 111.8 315.1 92.9 289.8 120.3 331.1 114.3 317.2 111.7 320.7 101.1 318.6 100.7 327.7 105.0 322.9 139.3 317.4 89.2 324.3 91.8 312.4 107.3 303.8 109.4"/><path stroke="none" marker-start="url(#mB)" marker-mid="url(#mB)" marker-end="url(#mB)" d="M323.6 140.9 290.6 128.3 323.2 129.2 326.4 124.0 144.8 107.0 125.2 86.4 319.6 122.2 314.4 125.9 316.1 132.7 298.5 131.6 101.1 93.3 208.6 99.4 192.0 96.3 193.7 99.9 330.7 74.4 299.2 169.1 313.1 110.1 177.4 89.6 186.6 88.9 332.0 121.6 305.0 148.4 260.6 133.7 290.1 122.8 330.1 83.1 329.3 98.0 317.4 118.5 329.0 96.4 208.3 99.3 225.9 105.9 168.4 101.4 165.2 79.2 275.5 121.5 230.5 85.2 133.2 82.8 285.6 124.6 317.3 150.6 321.3 86.2 338.1 131.2 337.4 56.9 334.4 92.9 206.9 122.7 204.8 90.2 309.8 110.0 299.0 157.1 244.2 114.6 247.0 105.1 326.1 135.1 175.5 96.9 299.7 119.8 141.3 107.0 321.7 137.6 307.9 135.8 332.1 101.5 239.6 100.5 284.5 126.4 238.4 113.5 150.3 91.8 288.5 92.6 154.0 79.4 288.4 69.7 239.0 104.5 331.3 106.5 311.3 111.6 168.7 84.2 341.3 118.1 225.9 119.6 310.2 123.1 310.0 17.0 337.3 89.0 333.1 128.9 321.0 90.7 279.2 143.8 212.9 98.7 332.7 158.6 179.4 102.5 154.5 92.6 277.2 106.9 325.7 152.8 197.7 95.1 319.8 154.9 222.3 108.3 127.3 96.6 142.5 33.0 175.0 79.9 112.6 79.1 316.2 136.6 293.8 141.3 317.2 139.3 148.6 134.2 341.4 116.0 317.2 125.2 287.5 100.0 300.7 115.6 211.3 90.8 306.8 140.5 330.8 162.9 149.1 68.8 299.7 151.6 72.0 100.1 321.5 90.9 279.8 61.0 143.9 89.0 324.7 125.5 153.7 93.8 315.4 107.6 191.5 88.6 294.6 88.6 330.0 105.5 197.4 107.9 223.1 106.7 329.2 87.8 269.1 94.2 205.3 105.7 321.0 108.7 319.4 116.9 330.1 131.4 308.6 155.0 312.0 67.9 305.0 164.7 241.5 108.7 92.8 107.7 300.9 150.0 166.6 95.6 171.5 96.9 160.4 90.9 328.3 87.9 315.8 140.9 113.2 62.2 261.1 132.2 292.5 67.0 218.2 104.8 341.3 56.8 168.6 96.5 291.0 95.5 289.0 133.4 294.0 153.7 205.0 82.1 306.5 104.0 304.5 138.5 241.3 130.2 182.0 80.3 191.0 94.6 340.6 76.4 336.3 137.5 228.9 146.4 174.7 79.1 341.5 135.5 242.4 123.4 334.6 81.6 319.3 146.5 200.3 90.4 332.8 94.8 236.5 107.2 292.9 88.8 281.0 136.1 336.4 48.2 332.5 88.1 243.5 129.0 297.3 66.0 160.5 94.6 242.8 123.5 305.5 164.1 332.0 97.7 151.7 103.5 334.6 114.4 182.9 91.8 167.8 91.2 281.3 139.2 294.5 54.7 194.2 109.6 296.6 93.7 325.9 107.5 223.5 82.8 169.8 91.7 142.1 79.2 166.4 86.4 282.5 139.4 283.3 110.0 310.1 147.5 162.6 93.6 98.6 89.6 236.4 105.8 315.1 139.2 275.1 139.8 166.4 91.9 269.4 61.2 204.2 113.3 324.6 135.9 219.4 114.8 253.0 123.3 310.4 95.2 293.6 104.2 330.3 152.3 313.1 168.4 311.4 71.0 303.7 102.3 250.6 84.9 160.8 89.3 288.8 110.6 297.8 113.5 136.1 103.1 304.3 95.3 303.1 131.4 321.8 106.0 284.1 50.6 293.5 123.8 172.9 92.1 287.3 102.6 143.5 79.0 95.6 87.9 340.3 135.0 191.8 91.7 271.3 134.2 286.6 39.5 230.6 146.2 183.6 114.1 303.1 195.5 331.8 97.2 336.9 99.8 311.6 73.0 143.5 91.8 126.7 87.4 331.9 125.9 314.4 152.0 244.9 133.4 323.2 95.6 261.5 123.0 305.5 107.4 308.8 137.9 238.4 99.7 291.5 127.4 322.7 129.9 317.2 115.0 198.8 84.7 323.8 110.9 161.5 92.7 304.0 141.1 216.9 100.0 281.0 31.7 295.3 44.1 221.1 122.9 291.1 107.8 326.4 136.9 335.6 117.1 309.7 118.1 196.4 91.8 317.1 124.9 335.5 120.9 291.6 116.7 235.6 116.9 316.6 89.2 104.1 73.9 218.0 118.0 279.6 106.1 188.9 103.5 174.4 95.2 278.2 120.8 268.3 134.0 196.7 83.3 311.0 148.2 281.6 119.4 232.9 119.7 198.9 113.8 294.0 158.6 285.5 135.7 202.4 77.1 305.0 138.6 246.6 129.2 81.1 102.2 182.2 62.3 335.1 120.9 321.7 138.4 318.2 79.2 312.4 103.8 165.0 83.5 155.4 88.5 224.3 101.3 140.2 69.3 302.6 105.2 140.4 100.0 178.1 87.8 189.4 87.7 335.3 73.4 213.2 91.4 322.9 157.3 71.2 85.0 289.3 159.0 332.4 93.1 282.2 135.9 325.3 101.6 328.8 127.3 339.2 116.0 305.6 82.7 317.9 77.0 267.9 149.3 327.7 106.0 311.0 71.3 331.5 99.7 307.9 146.1 296.3 126.6 311.6 77.2 158.3 82.3 150.4 76.7 287.2 124.9 280.8 131.7 213.0 93.7 163.6 108.3 227.7 67.2 139.3 85.6 230.1 125.7 310.1 108.8 129.1 84.4 291.6 86.8 337.1 117.1 316.7 120.8 159.4 86.1 252.1 106.0 205.1 96.4 317.8 93.5 302.2 114.6 137.3 91.8 181.2 79.5 307.9 163.4 306.2 150.3 304.8 108.2 325.3 133.4 180.8 94.1 321.2 135.9 184.4 98.5 228.1 105.1 302.6 156.8 323.3 118.3 324.3 134.5 312.3 72.7 296.5 115.9 231.6 97.0 325.5 168.6 201.1 92.1 328.4 115.7 311.3 121.0 339.4 129.4 153.6 92.1 210.9 126.1 315.4 91.3 284.0 126.7 297.7 102.6 259.3 119.1 321.4 101.6 145.5 53.3 129.9 91.5 239.3 130.8 197.8 103.5 249.4 108.9 303.2 155.2 272.7 104.0 314.5 70.7 315.2 81.5 294.0 131.3 308.0 100.0 98.7 70.2 184.3 119.9 236.6 88.1 309.8 156.9 303.8 111.3 329.6 118.7 311.7 126.9 328.8 79.0 293.4 147.6 276.4 51.0 338.7 62.4 190.7 77.6 290.9 129.8 281.2 101.4 313.1 99.1 313.7 66.7 293.0 92.6 309.3 162.8 200.5 104.5 305.7 158.0 219.3 127.4 289.6 133.6 282.3 100.7 327.9 161.3 264.2 44.1 290.0 142.9 330.0 161.2 190.7 94.7 287.8 136.7 323.1 144.8 175.0 81.0 222.4 100.5 257.9 101.3 269.9 109.7 234.7 118.1 202.8 91.5 186.1 105.0 323.6 79.9 315.4 114.8 118.5 83.9 256.5 99.1 255.6 108.6 301.3 101.7 284.9 86.4 247.6 101.2 261.9 142.9 303.6 98.8 283.8 112.1 304.6 110.7 293.3 89.8 230.8 104.0 202.2 116.1 274.7 122.7"/><path stroke="none" marker-start="url(#mD)" marker-mid="url(#mD)" marker-end="url(#mD)" d="M316.1 136.4 318.8 112.0 308.7 120.1 311.9 94.0 286.6 124.9 317.9 92.8 325.7 108.9 308.0 108.8 307.2 93.8 301.9 100.0 318.9 138.5 170.1 96.7 313.1 114.9 319.8 90.7 325.8 109.7 307.3 92.3 315.1 114.1 288.7 107.1 324.6 101.8 304.8 110.9 319.5 137.5 315.2 91.1 319.6 137.9 157.3 93.4 309.3 113.3 331.1 91.9 324.9 106.8 338.4 96.8 315.4 95.7 318.0 97.2 325.3 148.4 308.9 102.2 319.1 93.7 326.5 155.6 329.2 146.6 318.4 94.5 178.3 96.3 322.9 88.9 309.1 92.2 164.3 87.1 177.1 97.5 318.1 104.6 308.4 107.4 326.6 101.9 315.4 110.3 304.0 109.8 322.2 103.8 307.6 92.8 307.4 105.2 164.7 87.6 314.4 105.4 314.9 108.9 302.7 108.2 173.8 99.6 320.1 107.8"/><path stroke="none" marker-start="url(#mB)" marker-mid="url(#mB)" marker-end="url(#mB)" d="M252.2 128.4 249.8 71.3 163.3 99.9 286.1 110.9 239.7 93.6 292.3 141.5 331.8 94.0 321.9 126.1 148.9 109.5 186.8 83.9 202.3 101.9 181.2 82.7 204.8 108.2 310.4 117.1 225.4 116.0 316.7 106.3 325.9 154.4 327.8 100.5 320.0 108.1 307.9 131.9 171.6 98.9 316.0 116.2 288.5 42.8 319.0 91.2 238.7 113.5 336.9 99.8 100.6 81.6 195.9 83.9 160.7 84.3 286.7 10.7 255.4 120.9 170.2 74.3 267.9 122.7 196.0 109.6 306.7 136.5 304.5 89.1 134.4 68.2 157.5 114.5 285.5 124.5 284.8 129.3 326.2 70.7 305.8 142.7 214.6 102.5 130.2 85.5 249.8 116.4 318.6 108.4 149.0 86.4 278.5 126.6 311.4 70.4 302.2 148.9 331.8 86.8 320.5 95.3 338.4 89.4 312.1 76.6 142.3 85.1 172.1 91.6 302.0 154.7 266.8 99.3 244.3 100.4 230.2 93.9 237.2 87.6 232.2 106.1 166.6 99.2 315.7 93.1 113.4 78.2 185.4 90.2 301.5 100.4 288.5 11.0 254.8 116.0 198.0 111.1 293.9 99.1 321.7 159.9 178.6 85.0 300.3 94.2 126.9 79.7 248.6 74.9 200.6 114.4 326.7 144.0 316.0 160.5 251.2 126.1 285.0 35.2 139.7 94.7 238.1 119.3 321.0 71.7 337.4 140.1 306.3 125.7 321.7 154.6 173.5 88.9 311.0 135.2 319.7 79.0 310.0 70.9 280.4 118.8 263.0 134.2 288.3 115.3 216.8 105.5 224.0 109.6 310.6 127.6 282.8 157.2 142.8 70.8 322.7 149.7 330.2 150.1 305.7 76.4 174.1 85.2 336.1 118.1 185.6 93.9 225.7 61.1 283.6 114.6 325.9 74.4 241.7 125.0 269.8 127.3 278.0 43.9 291.4 109.5 325.9 93.6 235.1 127.5 237.9 113.6 295.4 147.9 246.9 127.2 314.4 83.5 279.5 125.3 301.3 94.8 299.5 96.3 327.6 139.5 230.0 123.8 155.4 92.7 319.9 104.9 100.8 83.8 274.9 126.3 306.0 159.5 222.8 122.1 334.4 95.6 319.2 131.1 105.5 114.4 322.1 115.2 306.3 96.8 298.5 98.4 219.5 85.2 316.9 85.0 174.3 100.6 286.0 117.8 288.7 116.4 312.9 140.7 318.0 55.3 183.5 97.4 279.8 117.6 270.0 117.2 296.3 61.0 326.9 101.5 256.7 131.5 129.2 86.4 327.0 162.9 186.0 82.1 249.2 106.9 303.1 159.8 325.6 155.9 328.3 165.2 117.7 102.7 326.0 172.0 310.3 86.4 335.1 102.4 185.2 91.9 296.0 92.0 274.5 29.1 272.2 113.6 123.8 75.7 338.1 110.7 147.8 89.1 310.9 82.3 319.2 98.1 142.0 90.3 321.6 115.4 165.8 88.7 147.1 89.5 260.2 121.6 315.9 139.3 331.7 92.5 124.9 83.5 269.6 122.7 308.7 149.9 269.0 117.2 322.6 122.3 335.6 120.3 338.7 120.2 196.8 101.3 141.7 72.1 266.8 111.7 307.6 84.1 151.8 74.4 265.9 106.5 333.9 116.9 186.1 99.4 302.0 87.1 325.7 165.0 334.9 133.3 274.1 28.9 160.1 89.2 309.8 121.3 183.0 92.1 325.0 114.8 284.6 121.3 123.6 73.0 292.1 113.7 323.0 105.4 331.8 84.2 188.8 102.6 151.9 76.7 322.4 87.3 332.5 89.8 331.9 162.2 294.0 126.6 300.2 128.6 309.6 111.7 337.5 92.4 312.2 141.9 191.1 71.6 325.4 126.8 158.3 89.0 329.5 96.5 266.6 127.4 332.5 108.5 266.7 107.7 297.8 77.0 315.8 132.9 333.2 93.5 302.1 94.9 152.7 100.0 272.2 98.9 287.6 99.5 152.4 85.1 273.1 35.5 270.3 110.7 212.0 96.6 294.0 83.9 307.2 145.5 158.0 93.4 131.0 94.5 289.8 125.1 172.5 77.8 278.1 116.6 311.7 79.9 136.0 101.8 242.9 115.7 325.3 167.3 201.3 99.0 280.8 50.6 237.7 126.8 109.7 60.9 171.2 87.5 312.6 126.0 276.7 139.0 224.6 105.0 218.9 82.6 208.7 120.0 196.7 87.8 284.3 133.0 211.2 88.7 199.7 88.4 282.0 146.2 306.2 142.3 275.7 104.0 215.3 92.9 280.1 144.6 191.0 106.1 278.4 106.0 282.7 109.5 147.8 81.5 246.0 102.4 277.5 2.0 336.1 98.0 274.3 123.5 304.7 165.1 149.9 94.1 187.6 111.1 158.5 141.7 257.3 93.7 337.9 140.5 318.5 129.0 331.7 115.1 172.6 82.2 318.3 141.1 161.2 97.8 320.0 102.8 299.2 71.2 240.2 128.2 333.6 157.2 283.0 151.3 311.0 99.4 261.9 138.1 157.5 100.1 335.2 88.7 319.3 98.8 319.9 144.5 317.0 123.0 193.7 88.3 166.3 95.7 193.6 91.2 327.6 89.4 99.4 104.0 194.3 89.8 325.8 85.2 317.5 156.4 314.9 131.5 295.7 129.7 289.0 129.5 315.3 113.2 299.2 48.7 287.5 121.6 254.3 125.9 147.1 106.2 287.3 146.7 272.6 127.1 311.0 77.5 330.4 149.3 321.4 94.0 309.9 143.2 327.1 155.9 158.4 82.8 170.3 90.2 154.6 90.4 273.8 145.1 286.0 134.0 317.6 153.6 306.7 81.3 295.1 124.6 115.6 63.5 325.4 109.0 274.8 119.7 219.2 98.5 117.6 92.7 322.3 82.3 299.5 118.3 201.9 79.4 278.0 127.2 171.9 86.4 169.8 94.2 307.5 158.5 289.0 128.4 316.1 97.6 330.6 104.8 323.6 112.8 277.9 1.2 251.0 105.8 143.4 71.8 185.2 86.4 315.8 124.5 166.1 85.9 330.1 120.8 328.1 175.0 336.4 109.2 154.4 99.5 304.8 118.8 82.2 91.9 255.7 123.4 318.6 103.0 190.0 97.6 167.8 92.8 150.1 103.8 291.1 65.6 121.4 84.0 128.7 105.9 183.2 95.0 202.7 94.2 330.9 49.7 306.3 136.8 341.0 121.0 325.7 109.7 327.3 121.8 313.1 62.4 181.9 91.6 306.2 74.6 283.1 100.6 327.9 106.2 172.0 99.2 256.7 123.8 307.2 164.6 325.5 119.0 315.8 129.3 290.0 94.4 233.4 113.4 217.3 79.4 300.3 124.2 184.4 87.7 328.6 83.5 300.7 137.4 320.4 115.2 286.4 136.2 149.1 97.1 311.7 119.1 263.8 121.5 310.4 80.4 313.4 112.9 284.6 112.5 125.6 97.1 185.6 98.3 321.8 102.9 201.3 89.7 315.5 128.3 316.7 159.6 332.4 114.2 187.3 80.5 235.0 98.7 278.2 97.5 295.0 142.3 266.4 35.9 284.9 117.3 145.5 95.8 314.9 82.7 253.1 149.6"/><path stroke="none" marker-start="url(#mD)" marker-mid="url(#mD)" marker-end="url(#mD)" d="M181.4 95.1 307.9 121.7 327.6 103.8 315.9 102.4 318.4 101.2 310.4 98.1 324.8 100.2 312.8 111.9 321.8 99.8 309.6 94.2 322.5 102.5 317.7 104.8 300.6 106.9 313.0 108.3 327.9 110.8 183.4 90.1 332.9 120.0 329.6 118.1 318.3 136.1 325.6 103.2 306.0 108.8 318.8 94.9 280.6 114.8 323.0 101.5 329.5 157.0 316.5 91.0 324.1 100.8 310.6 110.6 305.4 125.9 325.0 107.0 298.4 117.9 321.6 109.0 316.3 119.1 312.6 92.0 327.7 156.5 321.9 87.2 325.4 103.1 308.9 100.6 176.7 96.4 330.7 116.0 330.3 122.8 304.1 99.6 307.9 112.5 305.4 122.7 321.1 114.0 308.0 121.0 327.4 107.5 316.2 100.5 297.4 111.4 325.1 95.5 308.0 110.0 306.6 113.0 303.3 112.2 300.1 110.2 317.9 92.6 322.9 112.4 324.1 86.6 314.8 104.9 312.7 102.4"/>
</g>
<g clip-path="url(#cBL)" fill="none" stroke-linecap="round">
<path stroke="none" marker-start="url(#mB)" marker-mid="url(#mB)" marker-end="url(#mB)" d="M209.9 340.8 305.8 339.6 163.2 302.0 304.9 346.9 249.9 297.7 265.7 283.3 257.9 330.4 247.7 250.3 289.4 351.9 258.6 321.4 92.8 289.6 130.3 308.4 292.4 360.4 273.1 335.4 294.3 353.3 256.0 293.2 126.7 285.7 314.4 364.3 211.1 341.3 311.2 330.2 235.3 241.3 206.3 349.3 130.6 285.4 299.0 336.8 287.5 350.2 192.5 341.4 228.2 350.8 275.0 345.4 326.1 328.9 143.5 307.5 291.8 334.9 258.1 335.3 316.3 348.4 305.3 333.7 248.2 341.4 258.8 290.1 270.3 342.4 320.0 327.6 314.1 330.4 252.3 336.7 264.9 343.8 246.1 308.3 259.1 363.2 265.9 350.9 277.6 356.1 283.9 344.8 265.3 348.9 250.5 301.5 322.0 335.6 286.1 350.6 272.7 359.2 164.9 325.4 321.4 329.3 320.5 353.8 232.4 323.7 174.2 317.8 125.0 264.3 296.8 341.4 275.0 344.0 231.8 355.2 102.6 287.6 159.8 321.1 293.0 334.2 249.1 303.3 257.1 281.2 308.7 331.3 263.4 272.0 292.6 336.4 211.0 340.3 306.6 336.9 274.6 341.0 323.4 333.3 191.4 331.1 142.4 300.3 238.3 348.1 269.2 340.6 149.5 307.3 314.1 348.3 320.0 347.2 274.8 341.7 246.6 302.5 243.0 332.9 186.2 334.2 127.6 304.5 285.0 342.3 46.7 324.4 302.4 355.4 148.0 291.6 241.3 332.5 136.0 280.8 325.2 355.9 78.4 324.7 319.6 374.2 279.9 292.5 181.8 332.0 263.3 277.7 274.4 332.1 311.5 340.5 127.0 302.7 239.4 345.1 127.7 281.0 313.9 356.2 271.9 273.4 318.2 329.4 318.4 351.2 114.7 289.6 166.2 301.0 264.1 293.1 248.5 352.7 175.6 309.1 121.7 300.8 258.8 357.7 247.7 333.4 265.7 359.2 185.2 328.0 249.0 226.2 236.8 318.1 320.1 378.4 323.7 324.8 292.8 333.8 327.1 361.7 217.3 331.5 275.5 333.5 176.5 290.5 258.4 356.0 311.4 328.5 180.9 332.2 322.3 326.1 95.6 288.5 277.5 281.3 124.2 286.2 237.2 326.8 293.0 354.9 302.8 338.6 326.7 326.0 287.8 338.3 322.3 326.1 239.4 324.7 233.0 320.7 254.4 305.0 146.1 300.5 324.0 362.1 299.2 346.2 209.3 351.3 233.5 315.3 246.5 313.6 327.7 336.9 90.1 279.6 275.5 281.5 111.6 285.8 299.5 339.8 244.8 324.7 284.0 336.1 234.3 323.8 295.6 339.2 170.5 293.4 248.5 364.6 93.8 295.1 179.7 323.0 141.4 318.3 272.4 244.9 118.9 286.2 317.5 342.2 254.4 357.8 316.5 328.6 138.3 308.2 172.5 310.6 140.9 309.6 116.9 309.6 271.8 319.3 174.7 326.1 310.1 333.0 313.4 326.5 247.9 328.5 250.2 345.0 194.8 353.1 233.5 349.7 204.0 331.2 261.1 370.4 266.3 279.9 323.9 331.7 321.5 349.4 256.8 282.8 95.9 302.6 259.9 324.5 259.1 351.0 238.0 346.9 95.5 303.6 153.0 320.5 238.7 352.9 265.4 288.8 191.5 336.3 188.2 349.0 325.1 336.5 215.5 269.4 88.5 282.5 255.1 322.2 104.6 274.9 256.5 334.0 209.8 327.8 300.8 339.8 131.7 304.2 116.9 287.6 275.6 355.8 93.7 281.7 285.0 347.9 249.1 295.0 308.0 377.3 315.2 328.7 259.6 314.5 295.4 364.3 250.4 291.0 100.2 293.3 320.2 332.4 191.0 343.4 167.3 336.5 106.8 284.7 239.7 313.3 322.2 330.1 219.7 345.7 83.5 320.4 306.7 331.3 314.4 327.3 342.8 379.3 268.4 313.0 251.7 351.6 260.6 296.1 243.5 320.8 317.3 335.9 228.3 326.2 188.3 329.1 174.3 328.1 273.8 325.5 286.7 241.8 118.4 292.0 255.4 353.0 303.8 332.2 281.7 287.3 149.3 335.9 186.1 362.6 310.1 345.4 307.8 345.6 191.9 344.9 246.3 345.4 265.3 334.8 269.4 338.0 247.2 300.3 275.9 268.7 307.9 342.7 255.5 311.1 114.1 280.4 251.8 305.0 127.4 338.0 305.2 342.3 94.7 302.3 178.0 318.7 230.7 307.6 233.9 296.4 212.1 321.3 259.4 284.8 111.1 321.9 267.5 261.5 253.1 329.7 264.5 339.5 223.8 329.1 198.8 352.0 244.5 300.5 277.4 348.4 265.2 291.0 312.2 330.1 254.0 311.3 321.9 374.8 293.3 341.8 282.4 362.2 121.6 307.4 231.2 258.8 316.0 351.4 327.6 353.1 292.8 346.3 242.1 307.9 268.6 357.4 279.0 278.1 98.8 273.5 215.5 325.3 301.9 349.0 156.4 325.5 281.2 277.4 287.8 333.7 266.1 337.4 318.0 334.4 311.1 341.1 126.0 308.9 318.4 345.2 124.8 252.1 257.2 332.6 266.1 228.0 101.8 281.1 131.4 285.9 311.6 340.9 313.9 347.7 115.3 310.8 311.4 382.2 247.9 355.9 246.5 327.9 186.6 337.8 297.3 271.4 319.8 329.0 126.8 308.0 237.2 245.2 108.4 283.0 277.3 360.9 321.3 335.9 309.5 350.6 195.5 343.5 143.2 308.9 264.4 318.8 319.0 326.8 295.7 351.7 147.4 271.0 260.7 339.6 102.1 268.6 313.7 337.4 257.0 300.6 86.2 284.8 316.1 325.5 308.7 331.9 265.5 355.6 231.5 358.2 140.1 306.1 117.6 309.7 154.0 322.6 247.0 308.6 189.1 323.6 208.6 351.5 137.0 309.1 327.2 329.3 318.1 334.4 255.1 342.7 262.0 301.3 246.7 294.1 45.2 340.7 258.7 329.4 174.1 349.2 221.5 319.2 116.7 314.1 215.0 327.1 229.4 329.3 326.4 339.1 172.8 345.0 209.3 341.2 257.4 291.9 258.3 293.2 317.8 329.6 123.5 287.8 271.3 337.8 309.3 350.8 264.0 343.1 216.5 330.5 257.7 296.6 118.1 300.3 219.2 340.1 223.6 331.5 331.7 339.0 319.2 350.9 249.4 345.5 269.7 275.1 323.7 327.0 274.2 339.4 166.0 308.9 258.3 304.7 158.7 332.5 106.8 280.8 268.9 346.4 217.9 332.0"/><path stroke="none" marker-start="url(#mD)" marker-mid="url(#mD)" marker-end="url(#mD)" d="M311.6 328.0 313.2 331.3 323.4 348.7 322.6 337.9 319.2 342.5 302.1 336.1 249.9 343.7 246.3 334.2 246.9 344.6 317.1 328.3 316.2 349.4 320.4 333.6 307.9 342.9 259.6 340.1 283.6 341.3 310.9 331.8 319.8 329.8 314.5 332.4 307.0 333.7 288.8 339.3 291.3 342.2 317.0 338.3 275.9 333.4 301.9 336.2 245.4 343.8 311.8 344.5 327.4 335.4 265.0 336.9 318.7 341.5 276.6 341.6 242.3 352.5 317.0 336.9 257.7 342.6 240.5 343.0 311.6 330.6 316.2 338.1 323.1 325.5 246.6 342.5 316.1 329.6 236.5 338.2 243.9 333.1 313.0 332.4 102.8 294.6 324.9 325.2 314.5 340.6 319.5 340.9 319.5 334.5 323.4 325.7 317.9 328.7 301.6 339.3 317.5 348.9 294.3 345.9 309.5 332.2 293.5 349.0"/><path stroke="none" marker-start="url(#mB)" marker-mid="url(#mB)" marker-end="url(#mB)" d="M269.8 299.2 297.1 292.0 252.9 321.7 304.1 349.1 323.6 347.7 322.7 349.3 64.5 335.5 282.4 358.1 49.0 284.8 253.6 359.3 257.2 356.9 113.2 241.1 270.5 350.5 297.2 265.5 322.9 357.1 323.5 326.7 281.3 380.6 282.0 369.7 290.0 345.5 193.5 355.6 269.7 248.0 239.4 339.0 188.5 268.0 241.0 237.1 130.9 309.7 201.7 340.1 239.0 337.8 263.5 288.1 213.6 320.6 204.4 339.5 216.5 320.1 281.7 347.7 238.5 331.4 299.8 333.8 316.6 340.6 264.7 312.6 182.8 309.4 270.0 337.3 270.9 279.0 255.6 297.2 91.3 289.2 329.5 363.4 312.0 359.2 244.2 322.0 296.2 271.9 197.1 242.0 268.4 342.5 240.8 302.5 322.9 327.5 221.9 333.4 246.8 313.8 290.0 340.9 221.3 290.8 120.0 310.2 280.0 359.0 257.5 332.9 300.9 346.2 334.7 252.5 256.1 327.5 317.6 330.9 115.9 288.8 297.1 357.4 326.6 358.2 247.7 304.9 258.9 339.8 269.8 284.3 332.3 315.8 87.5 339.7 321.3 344.2 126.9 308.7 267.7 311.2 154.6 319.6 216.6 320.8 319.8 325.8 294.5 228.9 290.2 365.1 328.5 358.0 152.6 326.0 323.7 356.4 173.2 348.1 293.7 334.9 88.0 289.6 233.9 319.7 242.8 355.3 310.7 334.0 280.9 344.0 236.7 324.7 284.8 338.1 103.0 300.8 271.8 305.9 184.0 343.2 108.0 280.8 321.6 363.8 241.1 328.8 142.1 303.3 193.4 328.7 286.6 343.0 93.8 293.0 280.5 336.9 264.6 356.0 314.2 332.2 182.9 344.2 324.3 378.9 309.5 327.3 103.2 295.7 177.3 343.2 187.0 343.1 234.3 257.8 323.0 334.7 257.4 299.5 244.8 335.4 234.3 328.5 241.8 346.8 242.2 304.6 264.5 278.2 258.7 296.8 254.5 331.6 222.9 321.6 264.8 279.4 255.5 227.3 251.7 328.4 315.6 330.5 180.0 309.2 192.6 345.4 267.1 270.0 171.4 327.0 325.5 327.3 320.2 325.8 321.3 324.5 259.5 354.3 232.7 265.0 321.9 344.0 244.9 334.4 92.2 297.5 280.1 302.6 296.0 284.0 193.3 324.1 326.3 361.9 120.0 295.5 253.1 337.7 65.8 321.0 241.8 230.6 268.2 295.7 321.0 368.7 91.9 260.3 327.3 349.3 273.4 289.2 210.8 344.8 259.2 335.4 303.1 338.3 128.1 298.5 135.0 287.8 317.6 349.2 246.4 250.3 145.3 327.7 256.6 354.5 94.2 293.5 144.2 310.3 127.6 320.0 297.3 285.2 128.0 322.2 320.9 359.4 75.6 298.3 142.4 322.6 90.9 286.2 323.3 340.9 126.8 309.2 331.0 326.6 270.2 293.7 171.5 342.7 257.6 304.7 149.5 304.8 236.8 326.7 186.6 239.2 324.4 339.9 256.5 317.4 161.0 316.7 130.8 282.1 237.6 312.3 323.9 328.4 325.1 323.6 302.2 358.7 271.2 334.6 115.3 288.0 312.4 331.1 96.1 301.5 300.6 333.1 321.2 358.4 294.7 339.8 301.1 330.2 267.3 306.2 256.4 321.8 215.4 268.0 194.8 325.9 299.2 334.1 333.3 381.5 262.6 353.7 169.5 298.0 309.7 346.5 322.7 350.7 248.1 314.7 106.3 315.1 78.6 289.6 223.0 350.3 257.7 311.7 81.6 286.2 163.3 310.5 259.8 304.3 248.7 304.9 193.2 347.0 100.5 314.1 114.6 302.6 277.8 332.7 187.1 346.5 321.6 333.1 112.0 293.1 305.7 343.4 91.1 302.0 232.2 329.6 247.6 263.5 250.7 361.8 290.7 334.5 327.9 341.9 320.7 356.2 228.1 327.8 282.2 278.3 319.8 332.5 244.2 326.3 162.8 318.9 239.9 300.9 253.3 366.4 104.2 285.7 243.8 329.6 252.0 346.2 143.1 305.4 256.9 347.6 257.3 315.2 174.3 315.6 308.4 326.3 289.4 356.7 309.9 352.6 242.6 343.8 238.7 353.7 306.7 332.5 252.0 307.5 236.7 246.9 297.0 344.5 184.3 325.9 264.4 357.8 315.7 381.0 217.6 325.7 112.5 245.4 252.3 381.8 259.4 324.0 254.5 303.6 327.5 332.9 162.8 313.0 264.0 308.1 242.9 347.2 264.4 340.1 329.6 288.2 235.5 299.9 119.6 312.2 257.3 343.5 287.1 334.7 103.3 309.9 301.2 336.6 264.7 369.0 332.5 323.2 196.0 335.3 150.3 325.0 310.6 341.8 272.1 355.3 145.6 321.0 271.3 333.4 275.8 371.3 327.2 322.4 301.4 337.3 237.2 357.8 256.8 365.0 311.6 326.4 260.1 298.6 245.7 334.5 260.2 345.1 269.4 348.4 323.8 322.9 214.4 339.1 237.2 343.8 263.8 356.7 137.3 298.7 260.8 350.4 258.0 292.8 85.0 299.2 267.8 288.6 234.7 336.0 226.0 320.9 311.3 331.6 277.6 334.4 130.6 327.3 246.9 300.4 138.7 309.6 237.2 325.5 211.2 343.2 164.5 304.4 133.6 314.9 177.5 342.2 257.1 306.7 323.0 336.7 254.0 293.1 116.9 287.5 169.3 297.0 284.3 347.7 304.9 352.1 260.4 333.2 316.9 332.7 238.8 338.7 218.3 341.2 323.4 342.0 312.2 336.1 139.6 307.7 278.2 309.6 236.0 324.5 279.8 268.5 264.7 335.0 272.4 344.0 261.1 333.7 293.5 225.8 306.8 341.8 262.8 352.1 273.3 272.1 322.5 344.9 191.3 349.4 242.0 352.3 245.1 326.5 311.5 348.1 270.8 332.0 188.2 335.2 172.9 353.2 288.7 365.6 263.7 300.5 315.0 353.3 208.4 328.7 314.3 341.5 326.8 392.0 318.4 329.4 310.2 331.5 183.5 340.4 261.7 291.7 266.9 291.3 322.1 335.7 265.0 296.6 190.6 334.2 296.6 294.4 228.8 339.6 317.9 330.6 110.8 303.2 108.7 326.1 181.8 322.4"/><path stroke="none" marker-start="url(#mD)" marker-mid="url(#mD)" marker-end="url(#mD)" d="M245.8 334.5 321.1 334.9 306.0 328.3 324.9 336.4 319.0 341.4 288.1 340.5 266.4 330.1 304.2 330.7 312.3 327.9 318.1 327.1 322.3 335.2 321.5 343.3 281.1 340.2 243.0 331.9 326.0 332.0 309.5 327.8 308.9 329.1 319.6 339.3 322.6 342.9 267.2 337.2 320.8 328.0 286.6 341.7 288.1 340.0 326.4 330.2 257.1 343.2 321.0 337.6 323.0 324.9 320.9 329.3 277.4 332.2 311.9 333.3 265.2 348.0 324.6 342.5 103.0 292.9 296.7 337.0 301.0 332.5 321.3 328.8 318.7 331.5 264.4 341.1 326.3 335.5 322.8 328.7 277.7 334.3 312.7 343.1 199.1 341.0 307.9 347.4 309.9 334.2 289.3 342.8 243.2 351.0 274.7 350.1 249.2 335.9 311.6 331.8 247.2 340.8 296.9 344.6 319.8 328.2 326.0 329.7 326.4 332.3 319.2 335.2 301.0 338.0 262.8 343.4 286.1 344.3 294.2 345.6 317.2 329.9 304.0 332.5 312.3 336.3 245.4 333.8 287.3 344.4 291.6 346.0 318.8 332.1 273.3 351.7 310.2 330.0 320.2 328.4"/><path stroke="none" marker-start="url(#mB)" marker-mid="url(#mB)" marker-end="url(#mB)" d="M111.4 288.6 47.3 339.2 210.5 342.2 310.7 328.3 184.2 341.2 102.6 300.5 167.3 330.0 317.1 325.6 267.4 369.0 318.0 360.3 248.7 226.1 306.2 344.5 310.6 338.2 232.2 237.1 87.9 303.7 86.1 287.2 176.1 320.5 298.3 363.1 322.8 369.3 235.0 289.7 215.3 350.0 283.1 340.9 152.2 317.2 279.5 300.8 168.9 315.8 251.7 329.8 210.6 341.8 109.3 292.1 266.0 334.7 288.8 349.1 187.6 332.8 303.1 339.8 242.1 323.8 135.3 288.8 50.7 319.3 323.3 376.8 275.1 307.4 309.0 349.3 207.5 339.1 256.6 283.9 247.4 365.3 273.4 349.1 303.7 329.4 268.9 332.3 256.5 375.7 312.0 320.9 271.2 278.2 76.2 313.2 239.0 321.8 323.6 333.9 177.6 334.3 246.1 343.7 265.2 346.7 119.5 292.7 278.7 345.8 107.9 292.2 238.8 340.6 277.0 378.5 130.8 319.0 164.4 321.3 310.9 328.5 115.2 304.7 324.0 351.1 265.9 362.7 320.9 332.1 163.5 326.6 234.8 326.1 111.2 289.7 335.5 336.3 312.3 328.9 241.6 341.6 78.1 338.9 269.2 336.0 303.6 357.8 63.6 303.4 243.3 339.4 199.4 339.1 321.5 350.6 239.6 289.4 240.9 342.3 335.9 354.8 253.1 379.5 261.6 294.0 266.6 293.1 315.3 341.1 320.6 348.1 139.2 297.2 239.2 342.8 265.1 278.0 308.1 340.3 257.5 284.0 250.1 287.3 181.8 351.6 263.9 301.8 297.3 344.5 275.0 341.9 96.7 290.9 308.7 358.3 243.2 292.8 160.4 297.7 308.4 365.9 270.9 283.9 261.2 269.7 114.0 299.0 286.1 351.4 287.7 346.4 213.6 330.9 242.9 347.8 112.8 286.0 278.6 358.3 101.0 293.1 191.1 351.3 321.3 360.5 275.0 340.2 318.6 336.2 104.7 292.1 263.8 321.4 178.7 349.6 242.3 366.4 78.1 301.2 308.6 326.9 327.6 351.5 266.5 294.1 258.4 348.3 196.4 340.0 309.1 326.5 240.3 354.8 179.7 332.6 289.7 368.9 291.8 341.7 260.4 309.2 79.2 302.1 257.6 324.7 226.1 234.2 317.1 356.2 318.3 332.5 277.9 335.7 152.4 310.0 66.7 340.8 251.3 293.9 309.5 323.0 303.2 340.6 322.8 324.6 110.8 287.5 304.6 330.9 220.9 327.0 204.1 352.3 258.7 348.3 234.7 327.0 313.2 334.1 188.9 327.7 247.4 319.7 166.5 348.6 264.9 348.6 313.3 341.2 181.1 320.2 110.9 298.6 269.8 298.0 240.3 294.2 304.0 347.2 246.3 324.1 92.0 303.8 74.4 330.5 229.1 357.2 195.3 349.7 280.7 340.3 269.7 249.3 275.6 374.4 248.0 347.6 320.9 327.9 264.8 293.3 323.1 325.3 320.6 327.5 245.2 327.7 253.6 351.2 240.1 340.8 301.8 363.8 216.3 328.6 232.2 276.1 285.6 347.3 306.1 341.4 195.8 324.6 321.1 356.1 264.1 322.7 83.9 289.6 145.2 343.9 124.6 306.9 249.3 331.4 114.5 294.6 285.7 245.3 261.8 288.6 274.5 234.7 259.4 284.9 284.8 357.4 190.3 345.7 308.6 330.4 263.7 361.9 320.8 329.4 117.0 298.7 326.3 381.0 320.0 333.9 299.8 337.8 90.2 282.4 248.7 289.2 252.1 332.4 115.5 284.3 74.1 294.0 321.7 330.8 161.4 337.3 231.2 302.2 243.3 350.3 281.8 228.3 316.6 330.4 245.9 343.7 321.6 329.5 186.5 318.4 257.2 286.1 267.4 350.7 169.3 333.1 153.0 322.2 246.0 359.5 252.2 347.7 273.7 278.9 317.6 336.5 95.7 292.9 130.8 281.6 86.2 287.5 279.1 333.1 318.2 335.4 264.0 347.0 110.7 313.3 253.4 323.3 82.7 302.1 200.8 356.8 147.6 313.2 94.3 283.8 178.2 330.6 218.8 331.3 84.8 285.4 198.8 328.1 326.8 328.0 235.3 329.8 253.9 332.1 195.7 334.9 300.2 352.7 313.4 332.8 255.4 346.6 323.6 363.9 314.9 351.4 263.7 352.0 273.5 310.6 299.6 225.2 219.7 224.9 248.9 332.4 233.6 327.2 86.0 301.5 245.8 336.1 278.6 340.3 255.4 293.4 288.0 349.5 325.6 331.0 278.6 352.8 312.9 333.5 166.6 297.0 148.2 327.9 279.3 351.2 54.4 319.9 232.9 341.7 47.3 343.7 155.6 293.5 323.5 325.0 270.4 337.2 185.3 317.0 207.2 349.1 291.0 338.6 54.0 292.9 326.9 347.7 225.6 340.0 303.5 349.7 192.4 337.5 198.9 347.6 318.9 342.5 84.6 292.7 259.8 348.2 242.3 351.3 70.5 303.3 249.4 312.7 247.2 333.4 250.3 325.3 163.7 323.7 324.5 328.6 247.9 335.7 257.0 326.2 162.6 299.7 222.2 333.8 265.5 277.3 111.9 298.6 267.8 319.3 303.2 343.0 304.1 345.2 129.2 293.1 250.5 348.6 277.7 277.9 313.9 326.7 93.9 281.6 295.7 343.5 105.7 236.2 126.9 310.9 100.0 281.3 180.8 351.5 271.4 361.1 275.1 307.8 267.8 282.0 198.6 340.0 254.3 366.3 317.7 329.3 285.8 343.6 93.6 300.2 268.7 333.2 255.2 317.8 82.0 293.8 169.6 311.2 280.0 341.1 305.5 336.5 176.9 322.7 276.0 296.1 278.0 299.3 106.0 304.4 121.3 297.9 98.3 292.8 184.8 336.8 110.2 294.9 261.9 304.6 267.7 356.5 283.8 241.3 249.2 334.6 243.9 295.5 130.6 336.6 238.1 355.8 257.5 313.9 265.0 269.8 227.1 324.1 115.1 300.6 261.6 340.0 282.1 273.5 202.4 324.1 239.3 397.3 120.5 287.5 276.9 377.6 174.0 299.2 226.9 332.9 99.0 311.8 317.8 358.9 271.1 345.6 211.8 333.0 322.2 334.7 132.7 291.5 331.2 340.3 131.2 288.7 278.2 359.0 273.3 340.9 159.0 323.9 316.3 387.3 256.2 333.8 321.6 334.3 230.5 331.6 233.6 338.0 170.9 329.5 266.9 335.7 120.3 282.9 117.0 285.2 87.7 294.4 295.0 333.5 297.4 297.3 239.6 335.4 310.4 347.6 238.6 352.8 256.8 301.1 252.9 311.0 316.2 323.5 188.2 356.4 260.5 340.8 319.8 382.0"/><path stroke="none" marker-start="url(#mD)" marker-mid="url(#mD)" marker-end="url(#mD)" d="M323.7 327.9 322.7 327.4 328.0 326.5 278.4 343.4 243.3 346.9 274.4 351.1 293.0 345.9 291.7 347.3 322.5 328.9 322.6 330.8 323.8 333.5 101.5 290.4 311.1 328.3 291.1 345.8 305.6 340.2 317.5 337.3 320.4 324.5 321.6 326.3 312.9 336.4 278.6 336.1 242.6 344.3 263.4 335.8 328.8 339.3 242.9 346.0 316.7 346.9 320.8 331.2 317.9 345.9 318.3 328.2 322.9 341.0 310.2 338.9 320.6 331.2 321.6 330.5 278.9 339.1 301.0 338.6 262.6 342.4 245.5 332.5 306.0 332.4 309.2 329.4 247.0 334.0 327.7 332.2 272.3 350.3 324.7 343.0 280.0 340.0 319.5 333.8 323.7 322.9"/><path stroke="none" marker-start="url(#mB)" marker-mid="url(#mB)" marker-end="url(#mB)" d="M314.4 335.7 141.6 305.9 327.3 363.9 204.7 325.7 85.8 290.8 301.9 333.2 130.4 288.2 85.5 283.7 322.7 342.8 248.9 346.7 122.2 314.2 297.6 239.1 242.9 351.0 253.8 294.7 319.2 391.1 257.4 299.5 285.6 344.2 194.2 340.3 302.2 337.0 280.8 340.6 228.2 347.5 320.5 326.9 290.5 341.2 274.8 332.8 299.0 348.9 249.9 327.1 110.2 292.0 251.8 326.1 91.2 311.4 264.3 304.2 258.0 374.1 169.2 316.8 296.7 340.8 260.6 341.4 182.7 348.4 86.6 314.4 319.2 340.9 240.9 352.9 265.6 332.8 251.4 364.8 266.6 298.5 129.1 317.9 246.3 290.4 147.1 310.4 122.7 310.6 277.5 361.8 87.3 256.9 247.4 317.1 278.1 344.2 320.0 332.5 269.1 352.9 183.3 324.0 327.1 333.5 262.7 335.1 299.5 389.8 227.1 351.8 317.8 325.2 116.0 281.2 298.9 345.8 263.0 297.3 325.2 329.7 106.3 313.4 241.5 348.6 197.9 323.2 316.8 327.5 292.2 346.8 301.7 343.5 214.0 340.5 208.5 225.0 307.4 346.0 243.0 326.1 250.8 315.0 153.3 300.6 265.5 357.4 313.5 369.9 304.8 342.3 315.9 351.3 48.8 321.0 319.8 348.1 180.9 334.1 251.9 335.0 292.0 342.9 316.6 346.7 290.6 343.8 262.2 347.8 311.2 392.1 318.7 348.9 255.7 329.8 316.8 326.7 279.2 337.8 321.2 328.9 262.9 276.7 208.9 333.2 285.6 337.1 232.2 339.8 189.5 344.4 305.9 344.5 251.2 305.2 311.2 336.6 319.9 323.0 284.7 352.8 295.1 341.9 115.0 290.6 149.1 324.5 273.6 278.4 281.7 336.3 276.8 336.3 177.8 335.8 303.2 337.5 169.0 315.8 318.9 349.4 140.0 322.2 319.3 257.4 258.1 388.1 261.8 332.2 252.4 329.9 122.0 285.6 92.9 281.5 87.1 341.7 238.1 325.9 299.9 348.3 320.7 362.4 227.7 331.5 325.6 329.7 261.5 350.1 223.0 311.6 251.6 334.7 274.3 366.0 245.5 334.8 322.3 330.6 274.2 275.5 211.7 315.8 254.6 293.0 253.2 358.1 307.3 374.7 169.0 303.6 145.5 308.7 188.0 339.1 319.5 340.2 311.3 334.5 136.1 310.1 235.1 332.7 261.4 304.4 173.1 311.1 320.6 331.5 279.3 291.9 321.6 355.3 182.1 331.6 307.9 354.4 310.4 340.0 240.5 355.8 261.2 292.4 114.5 285.8 317.3 362.3 238.6 242.6 155.3 314.9 232.9 333.4 199.4 334.8 321.7 389.9 222.5 325.0 266.5 257.4 255.5 331.9 287.8 339.6 319.0 327.0 137.4 329.1 210.3 333.8 321.4 325.2 300.9 358.0 275.8 352.3 314.4 339.5 301.3 333.1 242.5 321.1 251.9 349.4 82.1 284.1 316.9 362.6 327.0 333.5 137.2 318.2 262.4 378.5 216.7 326.5 117.4 296.3 324.1 323.4 271.4 309.6 313.6 367.2 133.6 317.0 248.1 301.9 252.6 332.8 301.5 330.4 101.0 314.8 262.0 365.1 187.9 344.0 199.1 326.5 250.7 258.5 314.5 349.6 291.3 227.7 160.2 323.3 274.8 369.6 256.4 348.4 313.9 345.6 240.1 344.9 100.2 283.1 315.6 327.0 270.3 347.9 314.4 363.4 318.5 327.8 290.7 339.8 299.2 344.3 87.4 341.7 213.6 334.1 311.6 356.6 322.9 333.1 240.9 311.4 273.6 339.8 316.8 326.6 244.3 247.8 211.3 315.8 326.4 346.5 100.3 284.1 114.2 294.5 279.5 347.2 269.0 277.1 260.1 339.0 260.3 227.1 211.9 342.9 210.2 330.8 189.1 320.6 234.4 329.3 288.6 258.1 254.7 331.9 264.5 333.6 246.7 332.3 152.3 331.0 319.1 327.1 324.7 331.9 282.7 269.4 311.9 345.1 266.0 353.7 238.5 336.7 200.5 335.8 315.9 335.5 287.5 358.9 245.2 328.5 277.8 345.9 297.5 264.0 79.3 287.5 212.3 258.0 242.6 322.9 324.8 327.2 169.1 343.6 261.3 318.4 216.8 337.2 187.8 344.8 116.2 284.0 332.1 286.4 317.4 374.8 168.9 321.4 133.4 305.8 265.7 299.0 195.7 330.7 313.8 326.3 317.8 341.6 217.3 325.2 297.5 348.4 318.3 332.9 318.2 326.8 94.5 295.3 120.1 290.9 326.2 329.5 307.3 362.4 274.9 290.6 248.8 309.1 253.2 324.7 66.6 310.3 293.6 340.8 151.6 294.8 237.2 329.3 289.3 332.6 317.6 337.6 241.7 227.9 123.0 303.3 247.2 300.4 92.8 294.4 258.6 344.1 75.3 331.5 171.6 335.1 266.5 281.0 262.7 294.1 285.0 334.2 314.7 332.5 308.7 345.3 302.5 327.9 258.7 331.6 279.7 333.1 307.8 330.8 225.6 325.7 266.4 320.2 249.0 294.0 287.3 362.0 258.0 317.6 238.6 317.0 255.9 346.4 224.6 236.9 306.7 334.5 81.6 296.2 267.4 360.9 272.9 284.0 256.7 338.3 292.7 351.7 300.4 349.6 318.3 324.6 145.8 306.8 227.6 345.5 235.4 332.9 211.4 354.7 174.0 309.4 303.7 332.8 298.8 292.8 104.1 297.4 274.0 281.4 344.4 362.8 113.3 297.1 176.1 331.9 326.0 341.6 322.1 346.3 312.3 330.0 70.3 322.6 214.2 345.5 227.7 240.9 265.7 338.7 260.6 341.3 259.5 289.6 125.3 305.3 156.9 307.5 281.4 274.2 311.7 341.2 241.7 345.9 311.3 332.5 261.3 337.5 256.5 326.5 171.5 319.4 121.0 316.3 251.4 272.5 238.8 358.8 237.9 328.2 190.8 333.5 252.8 290.3 134.7 309.1 318.7 342.0 196.7 342.4 250.9 363.4 306.0 342.8 244.3 306.3 73.8 312.9 194.8 312.2 265.6 333.7 84.8 319.4 176.1 350.6 278.0 347.6 262.4 289.1 258.1 344.2 129.7 282.3 98.0 291.5 204.8 332.6 257.6 304.3 116.9 319.9 257.9 350.2 276.6 336.1 272.5 248.4 262.0 284.6 111.6 293.0 181.1 333.1 309.7 341.6"/><path stroke="none" marker-start="url(#mD)" marker-mid="url(#mD)" marker-end="url(#mD)" d="M323.3 329.7 320.7 329.2 270.0 354.0 243.3 341.0 257.6 342.9 323.2 340.4 324.0 324.7 318.7 336.4 288.6 337.2 307.9 328.9 244.1 341.8 278.6 332.0 306.5 331.1 198.6 340.8 240.3 346.6 311.6 326.9 306.9 339.7 304.8 333.8 260.8 339.3 318.5 327.5 258.1 340.8 322.2 344.7 326.4 336.4 320.3 336.2 286.8 337.5 304.7 331.1 191.6 345.7 196.1 341.1 306.6 328.1 278.9 344.8 314.1 333.8 312.5 326.2 305.8 328.2 320.4 324.7 244.9 335.6 303.8 330.0 318.1 331.6 291.3 343.9 308.4 330.8 321.2 327.4 319.1 335.0 316.7 347.5 313.1 325.6 310.0 328.0 294.2 348.1 316.3 336.7 246.5 332.3 306.3 344.4 314.1 337.7 293.8 333.3 300.0 339.6 257.7 344.0 320.4 339.7 313.4 325.8 245.7 335.7 311.0 330.1 288.6 343.9"/><path stroke="none" marker-start="url(#mB)" marker-mid="url(#mB)" marker-end="url(#mB)" d="M251.7 332.8 184.9 342.8 277.5 336.4 178.9 330.3 262.2 340.4 318.6 328.0 226.5 311.3 228.9 311.1 310.0 325.0 282.7 333.1 300.2 357.0 313.0 346.9 300.4 340.4 258.2 297.6 126.3 284.8 135.4 278.5 329.2 325.8 155.9 312.0 296.2 347.7 325.6 324.4 286.1 341.4 262.4 342.3 167.5 323.6 186.9 331.1 161.3 304.6 123.0 303.7 283.6 357.3 255.1 305.4 153.6 318.7 307.2 369.0 139.4 234.0 141.7 307.4 252.0 278.8 320.3 338.2 261.9 348.7 292.5 337.7 319.6 340.9 269.9 370.8 135.4 306.8 242.9 342.4 298.1 334.8 327.7 336.7 182.5 260.1 170.5 332.1 329.7 346.4 278.1 342.8 84.7 281.9 304.6 326.8 320.7 332.6 316.7 336.9 315.3 368.3 294.9 334.9 234.2 296.5 90.2 290.2 276.6 365.4 209.4 310.7 298.1 299.7 112.3 309.3 297.8 265.3 125.9 297.5 165.2 325.5 134.3 308.1 78.3 280.3 325.1 358.6 240.2 360.0 319.3 339.2 317.6 361.9 261.3 294.6 81.0 306.9 314.3 337.7 288.0 333.5 314.0 328.3 168.2 338.8 194.2 350.1 327.8 326.8 322.1 349.9 192.6 351.2 300.2 345.8 161.7 299.0 189.4 354.7 326.0 325.3 240.8 338.3 317.9 390.5 142.4 331.8 275.8 351.9 191.8 348.5 320.9 332.3 262.0 281.1 243.8 342.5 305.4 337.5 236.6 316.0 306.3 345.4 189.4 327.8 307.4 333.7 226.0 310.2 325.2 329.3 113.1 307.9 255.7 317.7 244.0 345.1 248.0 327.9 220.7 311.3 325.1 361.9 82.8 284.1 324.6 355.4 247.1 306.9 300.1 353.8 263.3 322.1 318.0 363.0 228.7 331.6 275.6 296.6 141.2 293.9 55.5 316.0 215.4 305.8 128.1 310.5 249.9 347.3 312.9 343.0 279.7 370.1 187.1 337.8 206.6 326.3 260.9 362.1 258.4 300.8 256.5 352.1 168.6 347.4 86.7 291.0 122.7 290.0 219.5 226.1 97.5 281.7 260.7 284.3 300.7 329.3 262.2 348.5 196.8 320.8 195.6 341.9 165.6 331.8 322.2 342.9 243.2 343.0 185.9 325.1 252.4 304.6 277.9 351.1 218.2 350.0 187.0 341.0 256.2 292.7 227.7 344.0 247.7 284.1 134.1 324.8 199.4 339.4 250.0 325.5 233.8 334.1 327.6 323.4 241.7 353.4 331.0 357.0 186.8 347.8 278.0 342.3 281.7 344.6 149.0 290.5 334.1 327.3 228.9 333.2 321.5 325.2 88.1 260.2 204.3 322.0 245.7 356.6 263.2 340.5 226.7 341.0 125.2 292.8 287.6 270.1 230.6 329.6 110.6 286.3 229.9 335.7 188.4 355.5 319.0 323.2 266.2 352.4 198.5 349.2 108.7 299.3 296.6 262.7 292.6 351.0 298.9 334.0 298.3 271.1 130.0 310.3 135.3 300.6 267.0 344.9 144.5 305.2 222.2 350.1 190.0 347.3 93.7 278.7 272.0 348.9 245.8 353.5 288.4 342.5 243.0 314.9 321.7 335.9 262.8 327.9 112.6 300.9 190.4 344.4 242.4 321.3 266.0 345.5 238.9 321.4 189.3 339.2 179.9 328.0 237.7 331.7 308.3 347.8 280.9 307.3 82.5 287.6 122.3 286.0 313.1 363.5 251.1 354.3 246.4 334.4 130.8 283.7 239.2 360.1 311.8 340.4 230.8 329.9 272.7 337.7 126.8 286.6 318.0 329.3 251.3 326.0 249.9 325.5 303.0 340.6 324.7 342.3 168.7 316.3 235.9 326.3 242.2 342.0 286.5 334.7 103.9 292.6 326.9 357.6 298.2 334.6 299.7 343.4 251.9 328.9 265.8 344.9 219.7 330.2 126.9 289.6 108.6 302.6 299.9 338.4 130.5 289.4 186.8 348.3 252.5 357.5 317.7 347.4 321.3 342.9 245.2 278.0 270.7 350.3 92.2 301.2 195.3 323.7 134.5 284.5 321.8 326.0 112.7 296.0 259.3 295.3 318.4 324.8 146.5 310.1 220.8 311.0 235.3 336.2 322.7 341.6 287.0 344.6 248.6 335.1 313.3 333.5 283.3 356.4 241.2 346.7 295.8 342.6 89.4 301.1 195.1 341.6 111.5 310.0 280.6 285.2 105.0 286.8 186.4 322.8 303.9 337.3 141.3 242.6 199.9 335.8 184.2 330.7 320.9 328.7 279.2 339.7 310.8 327.6 206.5 323.9 316.5 337.2 312.1 354.6 281.8 336.3 250.1 287.5 52.1 323.4 92.7 283.3 116.2 286.9 306.7 353.6 178.8 323.3 142.8 321.1 240.4 321.8 127.7 304.0 196.2 349.8 233.7 330.5 180.7 359.8 315.9 338.5 296.6 340.0 144.0 312.1 81.3 287.3 251.9 346.9 75.0 307.8 316.5 328.9 245.1 367.7 319.1 359.8 243.1 338.1 241.8 330.0 176.5 334.1 205.3 334.6 321.6 325.0 305.6 331.1 235.1 251.7 177.0 319.7 311.2 330.8 154.1 241.6 322.1 326.1 342.0 331.2 304.3 339.0 205.4 346.5 324.8 323.4 223.5 310.3 260.6 331.7 202.0 327.5 220.0 339.2 110.3 273.8 319.2 389.7 230.9 350.2 279.6 337.9 258.4 307.9 261.2 372.9 319.2 326.6 290.8 337.0 256.6 311.1 106.4 243.7 248.4 321.3 107.3 302.2 324.4 367.6 244.1 326.5 246.3 298.1 178.1 332.7 102.3 283.4 300.9 354.9 244.3 334.6 243.7 351.1 156.0 314.6 292.1 332.9 313.4 329.2 318.0 330.7 131.9 306.9 265.3 329.0 239.1 376.7 44.7 335.9 237.4 302.6 311.9 342.2 114.3 290.0 242.0 320.9 181.5 348.5 244.0 333.2 266.7 346.4 95.0 290.8 256.2 363.3 265.7 351.2 269.6 381.5 159.2 319.2 302.5 353.3 63.2 288.4 221.0 346.9 124.0 299.2 246.1 324.6 194.5 337.3 257.7 288.1 321.8 392.9 294.0 360.7 283.6 234.7 182.9 349.2 193.1 324.3 320.1 332.2 189.7 329.2 169.9 320.3 272.3 345.9 253.9 306.8 115.1 295.8 261.7 304.1 318.5 341.9 188.2 320.3 246.6 340.9 334.2 380.8"/><path stroke="none" marker-start="url(#mD)" marker-mid="url(#mD)" marker-end="url(#mD)" d="M323.5 325.6 270.7 351.5 308.8 328.4 291.1 333.0 294.1 347.1 244.3 349.0 324.3 330.2 277.9 339.0 265.2 337.3 237.1 333.6 319.5 337.5 240.1 342.2 262.8 342.3 252.6 334.1 246.9 332.1 319.4 326.5 262.1 336.9 323.6 323.4 244.1 336.0 245.3 332.1 304.2 332.9 244.2 343.3 323.1 331.2 316.5 331.6 319.1 347.0 307.6 327.6 301.5 338.4 319.1 334.5 320.5 324.3 243.6 344.4 310.9 343.1 276.9 342.6 271.7 352.8 323.8 329.1 240.4 342.7 308.4 343.3 325.4 327.9 241.3 331.7 309.8 329.7 292.8 344.2 260.4 335.4 259.4 343.7 317.7 331.3 319.1 338.4 240.0 347.3 325.1 326.9 251.6 334.4 317.8 335.2 317.0 343.2 323.5 328.5 246.9 338.2 315.3 327.6 302.5 345.7 323.7 343.1"/><path stroke="none" marker-start="url(#mB)" marker-mid="url(#mB)" marker-end="url(#mB)" d="M328.6 349.7 190.8 347.8 222.5 340.8 311.5 329.7 280.2 320.7 278.1 334.7 189.5 330.5 299.5 331.4 325.3 343.4 225.3 328.4 270.6 332.2 321.1 348.4 246.4 351.6 248.7 337.6 250.4 358.9 281.0 275.5 314.2 342.1 236.9 344.4 207.0 327.5 318.3 354.4 260.2 305.3 283.9 341.5 276.5 362.1 242.4 332.4 316.8 386.1 325.6 326.8 307.7 337.8 305.1 340.9 319.4 334.8 188.2 341.9 124.5 281.7 111.7 239.5 120.4 285.5 257.9 350.8 259.8 301.7 324.6 372.6 315.0 327.3 301.9 346.8 130.3 288.0 229.2 350.6 191.2 347.5 335.8 364.5 324.8 350.4 299.8 334.7 114.4 301.4 179.6 330.4 316.8 363.0 193.0 359.6 285.4 339.2 272.9 282.7 237.4 272.3 58.6 344.2 299.6 335.4 317.3 336.3 206.0 342.2 121.0 282.1 260.4 295.2 263.9 290.6 217.9 225.9 268.7 333.4 270.5 348.3 220.5 338.1 273.9 289.6 324.0 332.0 113.4 283.8 241.4 331.9 199.9 351.0 284.9 336.7 167.2 337.4 186.9 343.0 278.3 280.0 324.6 360.1 299.8 337.4 278.2 345.8 194.0 349.0 193.8 340.0 264.4 344.1 118.9 316.6 218.1 359.4 272.7 293.3 221.6 320.6 293.5 339.8 268.4 275.5 305.4 366.2 242.7 333.0 252.6 353.8 326.4 327.9 281.5 355.5 261.5 354.1 143.0 323.7 110.8 289.6 229.2 352.6 311.8 367.6 125.7 321.8 323.0 337.8 188.4 352.3 128.0 289.6 229.4 335.1 340.6 352.4 243.5 309.9 195.5 344.1 327.0 375.0 212.1 346.9 303.0 349.3 265.3 378.5 233.0 313.5 218.9 319.5 304.5 347.7 151.3 304.9 239.8 326.1 226.8 340.3 321.8 346.4 174.4 322.1 325.2 338.2 233.7 246.0 186.0 342.3 79.3 288.2 190.6 336.1 236.5 332.8 118.4 320.1 229.9 319.8 121.5 298.6 239.6 354.7 226.2 360.3 247.3 319.9 256.5 300.5 234.6 337.4 255.6 353.9 88.5 279.1 161.5 298.1 271.4 350.1 234.3 348.7 277.8 347.5 260.4 337.1 265.5 311.7 264.4 338.1 255.3 298.4 277.6 332.6 140.9 285.2 310.9 327.8 208.1 326.7 264.2 324.8 96.7 307.5 250.3 352.6 219.4 368.7 260.9 291.2 290.4 337.5 271.7 347.0 299.4 279.5 283.6 335.8 143.2 282.0 250.4 352.1 302.2 340.1 327.6 350.6 328.4 329.2 117.8 287.1 308.4 342.2 219.0 326.5 320.4 329.1 317.4 330.8 244.0 367.8 120.7 256.8 297.2 299.1 152.6 330.5 268.9 341.2 173.0 343.2 256.4 335.4 88.7 315.7 236.7 334.7 266.9 226.3 238.5 352.4 327.7 323.3 270.4 356.5 189.0 344.3 210.4 324.3 119.9 287.3 254.6 236.5 106.5 306.6 238.6 380.5 334.1 334.1 249.8 310.3 307.9 336.1 258.0 344.6 333.1 353.2 327.5 343.2 243.2 326.7 244.9 358.4 264.7 352.9 322.2 323.7 232.5 338.4 322.0 332.1 313.3 357.8 171.1 332.7 199.3 335.5 311.4 359.0 223.9 341.5 100.0 306.9 228.7 330.0 270.3 288.8 298.8 338.1 318.1 368.8 260.9 360.5 217.1 334.3 248.8 347.6 289.1 350.4 221.1 342.9 319.2 333.6 315.1 331.3 319.4 335.6 274.5 336.1 293.2 342.3 244.9 333.1 265.0 332.6 267.5 289.0 331.0 358.6 282.8 246.3 97.3 306.2 241.2 357.4 182.0 340.1 260.5 308.6 115.6 296.1 220.8 235.6 291.3 354.0 260.9 331.8 238.9 339.0 152.1 322.3 316.9 359.1 183.3 307.3 193.6 346.0 78.9 286.5 185.5 321.9 251.3 334.8 269.7 348.8 265.0 298.8 176.2 336.1 258.4 352.2 200.6 346.8 205.6 313.5 233.3 225.9 123.0 298.5 249.2 372.1 111.3 303.3 191.9 343.1 196.5 308.4 258.8 280.5 81.7 285.8 309.3 342.7 311.9 356.3 124.5 307.0 320.1 365.5 327.5 334.1 267.1 349.8 283.2 341.7 181.6 333.7 301.0 328.0 219.3 340.5 290.6 333.8 263.9 307.6 181.6 341.3 269.5 281.3 238.2 316.4 269.9 337.0 183.1 351.4 243.2 302.7 232.5 325.5 238.3 359.6 303.7 361.1 125.4 281.9 256.7 324.2 260.1 331.8 318.3 373.5 125.9 292.8 251.5 335.9 198.3 313.2 324.1 331.1 251.3 240.5 240.1 339.5 163.4 233.5 52.1 307.1 235.1 320.0 248.1 359.1 280.7 286.2 250.4 348.0 321.7 325.2 279.9 341.3 181.8 325.5 186.9 298.9 225.0 346.7 123.6 313.0 78.7 289.1 109.0 280.5 172.2 320.6 260.9 277.3 176.3 340.4 106.0 283.4 255.8 343.8 288.0 241.3 217.6 316.0 282.1 334.4 288.8 337.5 85.8 285.1 256.8 308.1 131.1 284.3 330.8 376.1 141.4 314.9 278.8 362.0 82.4 283.4 115.2 289.7 130.6 281.7 174.8 321.6 280.4 304.0 291.5 342.7 323.1 364.9 259.4 319.8 279.5 315.5 265.2 347.9 250.4 340.1 227.2 341.2 149.1 308.0 146.8 280.4 332.8 350.5 248.6 340.9 250.8 341.4 122.3 290.0 273.4 335.8 260.9 336.2 322.8 355.4 193.2 348.8 252.7 337.0 239.8 352.4 276.0 348.9 263.8 340.7 204.4 341.3 293.2 340.6 239.7 341.5 317.1 329.7 243.9 335.5 296.8 289.8 258.0 267.4 256.6 333.5 272.3 350.1 221.3 322.2 117.4 286.5 292.1 374.3 320.5 386.9 326.8 332.3 297.1 359.1 242.6 346.5 136.1 312.7 319.5 341.6 127.3 282.2 313.7 355.2 305.7 350.0 234.3 264.7 323.7 353.2 150.7 300.8 101.4 294.1 246.9 376.1 250.3 357.9"/><path stroke="none" marker-start="url(#mD)" marker-mid="url(#mD)" marker-end="url(#mD)" d="M314.0 329.9 326.8 325.1 320.2 339.3 315.2 336.7 318.8 329.9 313.7 330.7 240.5 334.7 317.9 328.1 249.8 343.5 289.3 344.4 318.1 331.9 320.2 329.0 319.8 348.2 314.5 332.1 243.2 341.9 262.6 338.7 268.3 344.8 236.3 340.3 311.3 332.2 247.8 337.9 314.1 337.9 313.7 337.1 302.0 333.7 304.3 347.4 320.5 333.7 327.2 332.7 258.4 340.5 196.7 341.5 239.0 344.0 246.4 339.1 310.4 332.3 104.5 293.8 248.0 336.9 317.3 330.5 320.4 328.7 279.4 338.4 266.9 336.7 315.5 325.2 276.6 344.9 289.5 336.8 304.2 346.8 318.7 347.8 328.0 337.7 308.1 330.4 315.1 334.7 255.0 330.3 305.2 333.8 324.2 342.3 319.5 344.6 314.5 344.4 324.1 329.2 264.1 334.4 316.9 326.8 323.8 330.1 324.4 337.8 257.2 343.6 245.8 343.2 102.8 294.1 319.3 332.1 320.0 326.9 257.0 340.7 320.9 337.5 102.7 294.0 308.6 339.7 318.8 325.3 264.9 336.8 324.8 328.3 313.2 331.2"/><path stroke="none" marker-start="url(#mB)" marker-mid="url(#mB)" marker-end="url(#mB)" d="M264.9 318.9 175.4 344.4 91.6 281.0 139.6 328.2 241.3 353.4 280.0 346.8 263.4 349.4 281.6 278.1 125.4 285.9 312.3 358.2 252.1 362.1 257.6 292.4 326.6 335.7 285.8 360.1 242.7 359.8 275.7 343.2 245.7 320.2 137.4 292.8 79.2 291.6 256.1 296.9 268.4 297.1 115.3 316.5 286.6 338.6 279.4 351.0 254.7 300.2 340.9 383.2 266.3 333.4 269.2 252.0 211.2 327.0 282.5 349.0 314.3 332.8 189.0 332.2 232.2 335.0 309.0 363.2 261.9 327.5 239.2 342.8 115.2 325.2 264.2 344.1 326.1 339.8 246.9 341.7 106.5 304.1 309.9 328.7 247.0 316.2 290.9 339.2 254.3 323.3 267.0 328.5 131.2 295.4 297.4 335.3 288.4 335.7 285.3 339.6 248.7 302.6 189.8 306.5 134.0 308.2 267.4 356.6 322.8 366.9 277.0 354.0 283.5 339.0 242.3 333.8 324.4 330.1 265.3 310.6 186.8 330.5 244.9 331.3 269.0 302.8 103.5 301.8 313.3 331.8 219.3 321.1 315.8 328.8 255.1 300.4 272.3 290.4 321.9 379.0 159.1 317.8 241.6 322.3 254.6 364.5 301.4 333.5 309.6 336.1 275.6 270.5 252.9 349.5 128.9 293.4 284.1 341.8 250.9 345.7 263.2 323.1 289.4 254.2 271.2 274.8 263.7 273.9 82.7 283.8 265.4 339.2 180.3 335.5 270.6 337.1 276.8 290.2 100.9 292.8 126.2 302.5 261.2 323.7 267.5 299.8 293.0 346.7 321.0 327.3 230.0 333.3 170.0 357.6 112.2 280.8 320.2 325.6 195.4 333.2 250.9 308.2 286.4 346.7 323.6 362.8 268.3 333.5 312.6 327.4 108.7 301.8 242.9 348.6 198.2 342.7 275.4 340.1 114.0 244.1 125.0 313.4 234.3 290.6 323.4 324.6 316.1 367.9 95.5 237.2 242.9 339.5 310.7 340.3 256.2 328.1 212.5 343.1 192.4 341.8 272.2 362.4 319.9 335.3 128.8 297.1 105.8 310.3 264.1 337.2 323.4 347.7 126.7 302.0 296.9 343.9 198.2 328.3 318.8 361.8 252.6 340.6 238.8 344.7 257.7 276.7 309.4 337.2 253.3 345.4 193.6 330.8 257.5 312.6 253.9 356.9 280.9 238.2 122.3 250.7 279.3 332.4 91.3 282.3 139.3 313.2 121.3 320.8 229.1 226.2 238.7 333.1 195.2 320.9 210.0 325.8 217.7 335.0 104.9 308.9 326.0 370.8 242.7 333.0 88.3 301.9 233.3 332.3 175.1 343.9 264.6 362.2 264.8 283.1 132.5 252.5 93.0 284.7 317.6 391.9 189.4 335.3 228.1 344.2 251.3 348.4 302.1 329.1 267.1 339.8 300.0 351.4 280.4 231.6 249.8 292.2 249.1 269.7 315.4 354.2 121.1 285.3 264.5 333.3 274.2 347.2 307.5 358.7 315.2 392.1 280.1 339.3 172.0 337.4 250.8 266.0 248.8 307.7 267.2 319.6 288.4 363.7 129.7 305.0 124.0 306.7 325.5 331.9 236.8 330.2 305.4 354.6 229.8 331.1 290.7 367.7 246.4 362.5 255.9 350.3 307.6 330.5 295.6 367.4 173.0 324.2 115.1 297.3 281.9 227.4 133.5 274.3 298.5 347.1 298.0 337.6 176.7 300.5 269.3 355.4 312.7 393.5 322.4 331.4 260.7 320.4 284.8 353.8 228.7 330.1 302.5 335.2 176.7 342.1 320.6 325.6 218.2 317.2 199.6 297.1 324.2 385.6 85.5 288.2 247.2 338.6 320.3 365.5 248.5 236.2 88.2 279.9 231.3 267.7 122.9 319.2 174.5 307.5 234.2 317.6 118.2 309.7 251.7 330.4 279.7 272.1 272.4 328.3 103.1 323.5 183.0 346.1 148.6 305.7 320.5 337.0 95.1 310.0 145.7 288.4 99.7 294.1 298.6 246.4 133.1 316.7 106.2 294.7 187.4 335.0 268.1 340.4 322.4 340.1 279.5 351.0 322.4 359.2 279.0 270.1 95.6 287.6 275.9 315.8 215.9 336.1 233.3 286.1 194.3 331.7 128.6 294.8 189.3 331.8 279.7 267.7 198.5 345.6 129.9 310.3 314.9 345.0 317.9 330.7 198.1 344.3 277.6 332.6 325.4 336.8 325.2 329.2 261.8 367.3 105.3 280.4 271.4 351.2 284.2 332.7 247.9 336.8 265.6 345.2 248.2 239.1 183.5 318.0 237.8 341.4 304.6 348.7 90.6 290.8 125.8 299.8 258.0 308.2 261.3 326.4 344.0 347.7 294.3 343.3 105.8 285.7 229.3 351.0 277.0 361.3 226.9 334.4 247.5 361.0 323.8 335.8 295.0 358.3 192.2 341.5 249.3 328.6 235.3 352.8 273.0 363.7 103.5 283.8 167.0 310.5 277.5 358.6 257.5 359.9 184.7 336.0 310.2 352.9 260.6 297.2 269.8 308.6 319.2 369.2 327.7 335.1 300.8 337.0 283.1 339.6 234.9 254.1 184.4 341.2 253.0 326.4 265.7 351.5 284.1 336.4 168.5 307.8 281.1 347.4 175.3 325.8 256.5 348.2 145.4 319.1 238.1 336.5 273.1 314.6 340.2 240.2 165.4 288.8 79.8 279.5 107.9 321.6 197.8 329.8 287.1 336.7 188.3 339.6 240.0 341.4 323.5 380.7 241.8 300.1 108.5 260.2 130.0 297.0 243.6 332.1 307.1 334.0 315.9 362.1 320.6 324.3 289.5 333.2 323.2 374.7 132.7 310.8 273.0 364.6 282.0 229.8 322.5 331.4 330.1 354.6 202.1 354.8 323.8 384.6 267.4 312.9 189.8 346.2 312.9 328.4 312.2 352.8 278.9 363.4 267.5 335.7 165.0 318.0 325.3 344.9 328.6 349.0 119.6 304.2 83.2 284.5 195.5 348.3 161.0 316.4 129.2 306.5 287.2 358.7 228.9 326.6 102.9 305.8 266.0 350.9 131.0 296.5 195.2 348.0 106.5 285.3 243.6 331.8 251.9 302.8 257.7 311.3 51.8 304.7 251.6 331.7 226.9 324.2 300.3 356.0 245.5 309.8 97.7 285.8 261.6 297.2 115.6 273.7 234.5 358.8 101.9 302.0"/><path stroke="none" marker-start="url(#mD)" marker-mid="url(#mD)" marker-end="url(#mD)" d="M314.4 337.0 292.0 334.8 327.2 332.6 100.1 292.8 315.1 333.1 315.5 330.6 103.5 292.0 240.2 349.4 318.4 329.1 301.1 339.3 311.4 330.1 245.5 343.3 315.7 327.5 258.9 342.5 253.6 331.8 315.8 325.8 241.1 343.0 272.3 354.3 303.1 333.4 250.1 331.1 303.6 330.1 262.4 343.7 256.3 341.9 235.2 330.7 323.3 331.8 321.4 338.3 285.1 342.4 239.5 338.9 312.5 329.8 311.1 334.7 290.6 346.5 305.9 332.0 318.3 330.0 307.5 327.1 244.8 347.2 314.6 333.2 318.6 337.5 244.1 335.3 315.3 332.7 243.5 335.7 316.1 341.9 318.8 325.9 289.3 342.4 255.5 340.4 325.4 327.7 268.4 336.3 326.4 334.5 264.4 339.8 318.5 330.2 244.3 336.0 316.8 346.5 309.3 341.1 308.6 328.3 323.1 349.5 306.4 342.1 293.6 349.9 243.0 338.6 324.9 336.4 325.8 327.7 259.0 343.2 322.8 336.6"/><path stroke="none" marker-start="url(#mB)" marker-mid="url(#mB)" marker-end="url(#mB)" d="M90.5 288.2 319.1 328.3 234.9 331.8 165.0 315.3 136.8 319.6 236.1 323.4 255.8 324.0 187.2 337.6 293.1 343.7 238.5 308.9 243.3 349.1 324.1 337.6 319.4 364.5 218.7 230.4 260.3 292.6 306.9 344.6 124.6 287.3 309.3 342.3 264.8 289.8 140.6 294.5 231.4 266.8 238.2 312.2 111.3 295.8 94.9 295.3 125.5 302.8 250.1 291.6 299.0 341.3 269.1 340.2 241.8 332.7 104.2 293.2 307.8 358.8 235.1 307.7 311.5 336.2 83.3 280.9 191.0 350.3 327.6 330.9 134.1 275.8 153.4 317.5 307.9 346.5 256.1 340.8 247.3 347.4 326.9 329.5 322.2 379.9 304.8 330.2 318.1 355.2 302.4 365.5 194.0 330.9 136.5 300.1 311.3 356.9 321.2 365.0 319.4 331.1 324.6 333.0 258.3 305.2 75.6 336.3 237.4 361.9 257.2 274.3 235.4 350.2 280.6 333.1 238.8 315.3 263.0 280.7 240.4 350.4 146.4 325.4 59.6 333.8 315.8 379.3 193.5 337.4 251.6 367.3 252.5 309.7 267.6 226.3 154.5 308.9 310.6 330.7 315.6 328.5 164.3 309.8 131.4 330.4 237.6 311.3 252.8 331.6 264.9 357.1 317.6 335.3 95.2 282.0 302.5 342.8 245.5 338.1 327.6 384.1 101.1 289.0 297.9 333.0 183.2 337.6 183.0 324.9 318.0 329.2 280.9 333.9 252.8 330.4 244.1 338.8 320.2 327.7 291.3 350.4 127.1 300.2 276.0 349.6 273.3 342.8 100.5 297.3 308.1 347.9 216.6 260.7 327.3 338.4 269.6 340.5 316.9 345.7 181.3 312.1 237.7 310.0 244.9 334.0 190.2 339.8 230.5 328.7 312.3 335.0 308.2 328.1 255.1 290.9 316.5 346.6 130.8 325.1 261.2 347.8 251.3 358.3 287.2 338.5 316.0 330.9 111.2 281.2 263.7 306.4 110.3 295.3 110.0 295.6 275.1 367.6 235.2 329.2 270.7 332.4 309.1 331.7 325.4 341.0 174.2 314.3 281.8 333.0 333.2 362.9 257.4 297.6 95.1 288.5 318.8 326.6 174.2 318.4 273.3 227.1 189.8 348.8 319.1 339.6 93.1 309.6 247.8 390.8 244.3 365.2 252.7 317.9 236.8 308.3 268.3 356.9 159.3 285.3 115.4 284.9 262.5 339.9 140.4 300.6 248.2 331.6 282.0 334.6 256.8 249.8 264.6 287.9 265.6 365.1 301.6 389.8 124.2 307.5 47.3 335.2 301.1 340.1 272.0 319.1 323.7 352.3 231.8 299.9 253.7 305.3 314.6 331.4 131.6 341.8 227.1 339.6 222.5 336.3 296.6 358.7 291.3 354.5 182.9 334.1 235.6 335.0 206.2 326.4 305.3 337.9 261.9 235.5 274.5 346.5 114.4 310.8 200.2 359.1 319.2 324.3 124.5 311.1 195.5 349.4 251.1 335.8 250.3 299.1 257.4 332.5 257.3 366.2 275.5 351.1 247.3 307.3 194.4 323.6 175.4 328.1 252.2 300.5 270.0 328.4 326.0 324.5 299.8 336.0 195.0 350.1 161.9 336.0 240.1 337.5 315.9 322.4 296.4 337.3 288.4 353.2 248.0 343.6 271.4 228.0 257.2 345.3 236.9 334.0 325.7 329.4 240.1 326.0 290.8 359.2 297.4 343.4 327.5 347.6 281.0 333.1 219.2 333.9 100.4 285.3 320.7 326.4 122.5 298.6 319.0 336.3 248.4 304.5 105.2 285.1 158.2 317.8 291.8 354.8 116.8 299.3 184.3 362.8 325.2 390.3 186.6 354.0 269.2 318.7 303.7 350.1 134.0 292.1 317.3 350.8 298.8 346.9 157.7 325.6 294.8 388.6 195.3 339.7 297.8 282.0 152.8 299.9 189.4 350.8 237.6 349.9 240.5 296.0 122.1 304.9 257.3 305.4 105.5 295.8 294.7 343.9 240.7 328.8 242.4 330.7 237.5 326.9 281.8 271.2 202.8 347.4 188.6 326.6 99.5 280.1 304.0 329.0 256.4 313.5 250.6 323.0 314.8 332.9 319.9 342.4 306.0 364.8 190.7 342.3 325.6 328.2 100.3 316.4 196.4 344.9 221.9 242.2 108.8 302.1 267.5 340.9 321.4 323.5 126.6 257.2 123.1 280.0 244.7 341.3 276.1 279.8 305.2 357.5 317.7 333.4 331.8 354.4 189.2 339.7 263.5 304.2 268.9 349.3 266.8 360.9 266.4 360.2 257.3 286.2 246.4 328.9 258.0 332.8 282.2 339.2 268.1 298.7 242.6 335.8 320.7 350.5 227.4 252.7 268.3 364.1 246.5 307.1 292.5 348.6 305.0 328.0 107.0 239.0 262.5 236.7 271.1 284.8 248.5 338.5 189.5 346.1 318.5 356.9 260.7 349.7 326.9 362.4 314.8 327.3 194.1 334.8 104.1 306.6 85.9 286.2 232.0 332.0 346.7 324.4 272.9 345.9 318.0 355.5 114.0 296.7 325.7 336.2 244.5 327.7 101.1 303.1 146.0 330.7 259.5 338.1 308.9 329.9 142.9 293.6 180.6 332.4 268.9 308.3 98.7 295.0 210.9 326.0 322.7 328.9 268.8 356.8 262.0 353.7 246.5 359.8 119.1 297.4 86.5 291.8 105.1 284.3 274.4 346.9 183.3 332.9 318.9 376.6 294.6 334.9 177.0 327.0 87.2 298.1 297.0 349.9 258.4 321.5 189.7 338.1 89.9 289.2 241.0 348.9 177.8 348.6 119.4 296.8 229.9 338.3 152.6 316.9 293.0 361.3 254.0 332.1 234.3 227.9 325.5 324.4 188.8 338.7 254.7 267.3 201.9 347.0 326.4 341.1 215.4 319.2 191.0 330.5 327.7 352.9 283.3 355.9 244.8 313.7 223.1 322.6 263.0 357.6 249.8 306.9 326.7 332.3 285.1 342.9 305.2 335.7 321.5 340.8 84.0 290.4 311.6 338.8 252.4 359.1 169.3 352.8 301.2 328.5 298.6 353.9 128.5 284.6 90.7 294.0 122.7 314.7 238.5 339.7 151.8 289.7 318.8 342.8 256.7 347.0 322.9 382.8 219.8 333.6 219.4 326.7 284.1 261.4 244.9 376.5 79.0 331.6 219.6 322.7"/><path stroke="none" marker-start="url(#mD)" marker-mid="url(#mD)" marker-end="url(#mD)" d="M252.9 333.2 313.5 333.5 313.3 332.8 311.3 330.4 318.3 330.4 321.7 332.3 307.3 344.0 322.6 328.3 308.4 341.7 266.3 334.7 316.6 336.8 266.0 344.8 324.4 328.6 242.7 335.4 283.7 344.2 321.1 342.0 321.7 333.4 311.4 338.7 262.3 332.7 281.7 340.9 310.4 331.7 312.1 336.3 286.9 341.9 320.9 324.4 318.1 329.4 322.7 330.0 309.0 333.5 327.2 329.0 295.0 342.2 314.0 335.7 312.7 327.2 244.3 348.8 317.1 343.1 319.1 339.3 312.1 335.2 291.2 333.6 197.3 343.5 101.8 291.0 248.8 337.7 290.1 346.9 321.0 331.4 316.3 339.7 240.0 341.4 325.4 327.9 310.9 332.7 314.8 329.6 322.9 333.8 319.8 347.5 323.7 335.9 319.0 342.2 273.5 354.7 240.1 347.3 277.5 340.8 244.6 342.8 323.2 334.0 259.3 343.6 312.6 331.9 317.5 332.5 311.6 336.4 318.1 327.7 325.1 331.7"/>
</g>
<g clip-path="url(#cTR)" fill="none" stroke-linecap="round">
<path stroke="none" marker-start="url(#k0)" marker-mid="url(#k0)" marker-end="url(#k0)" d="M593.2 132.7 500.1 110.8 488.2 141.4 573.4 144.0 610.1 91.6 560.2 139.4 661.2 98.3 563.9 115.1 558.2 136.8"/><path stroke="none" marker-start="url(#k1)" marker-mid="url(#k1)" marker-end="url(#k1)" d="M667.8 27.6 576.9 141.3 564.2 130.9 588.1 140.6 659.2 62.8 546.9 115.7 541.0 109.6 617.6 74.2 580.2 143.1 577.1 142.3 621.8 105.8 569.4 126.9 573.0 142.5 627.4 78.0 560.8 100.9 643.0 29.5"/><path stroke="none" marker-start="url(#k2)" marker-mid="url(#k2)" marker-end="url(#k2)" d="M554.5 57.4 548.9 91.0 651.1 22.3 518.7 124.0 536.4 123.8 506.3 94.7 644.5 102.3 596.6 133.2 562.9 114.8 574.5 77.5 619.1 59.3 473.3 102.2 503.2 132.3 541.8 154.5 584.9 31.0"/><path stroke="none" marker-start="url(#k3)" marker-mid="url(#k3)" marker-end="url(#k3)" d="M577.3 63.4 547.7 139.0 557.1 109.4 596.2 142.2 546.8 123.3 507.2 140.0 570.3 150.9 588.3 38.9 558.5 132.8 582.8 59.4 578.7 143.7 625.2 31.1 536.5 125.2 568.9 135.1 619.0 143.4 557.8 125.4"/><path stroke="none" marker-start="url(#k4)" marker-mid="url(#k4)" marker-end="url(#k4)" d="M646.0 26.5 656.3 131.0 560.6 127.3 544.0 117.2 650.4 28.9 586.5 137.7 553.5 133.7 568.8 135.7 565.6 145.2 515.2 124.6 553.6 61.1 449.0 154.5 448.2 152.2 524.5 113.0"/><path stroke="none" marker-start="url(#k5)" marker-mid="url(#k5)" marker-end="url(#k5)" d="M622.3 44.2 492.8 139.8 650.7 38.8 653.2 26.6 551.0 155.4 556.5 123.6 569.9 143.5 532.9 113.3 560.8 141.0 588.7 52.9 666.4 120.6 572.6 150.3 509.9 123.5"/><path stroke="none" marker-start="url(#k6)" marker-mid="url(#k6)" marker-end="url(#k6)" d="M551.6 117.3 532.2 108.4 657.4 14.9 658.1 86.7 564.7 122.6 556.0 86.6 551.9 114.4 563.0 142.2 635.6 44.4 559.1 104.7 640.7 46.8 585.2 146.4"/><path stroke="none" marker-start="url(#k7)" marker-mid="url(#k7)" marker-end="url(#k7)" d="M581.5 136.7 571.3 127.7 655.4 5.3 553.7 124.9 546.4 88.4 551.1 111.4 467.5 150.1 557.1 101.9 604.0 63.2 554.8 137.4 512.3 127.1 652.9 35.0 532.8 143.0 535.2 74.5 603.2 60.6 563.7 128.8 622.0 48.0 623.1 36.8 526.4 129.2 649.2 52.5 661.2 34.7 538.1 139.1 560.0 142.5 545.4 131.9 562.4 131.6 534.5 134.2"/><path stroke="none" marker-start="url(#k8)" marker-mid="url(#k8)" marker-end="url(#k8)" d="M570.2 101.5 634.8 48.1 554.4 117.4 555.8 131.1 542.1 124.0 541.9 129.4 669.6 10.0 613.5 49.9 622.1 58.2 569.6 134.1 569.5 131.1 513.4 140.3 522.7 97.6 620.8 36.3 641.4 31.0 570.6 146.4 586.8 136.8 555.5 88.7 589.2 142.1 434.7 176.4 558.1 139.0 585.0 94.2"/><path stroke="none" marker-start="url(#k9)" marker-mid="url(#k9)" marker-end="url(#k9)" d="M570.1 119.9 571.1 108.8 475.4 148.4 543.7 138.4 669.6 -2.6 612.1 81.2 634.3 32.9 582.1 60.1 656.5 10.3 629.1 50.2 514.6 106.8 622.6 36.4 629.7 26.2 588.6 81.6 583.5 72.3 641.5 44.6 534.7 70.6 631.9 37.8 550.6 95.4 562.0 115.6 520.7 131.4 665.8 11.8 650.9 13.1 659.0 15.9 493.4 146.6 459.2 155.4"/><path stroke="none" marker-start="url(#k10)" marker-mid="url(#k10)" marker-end="url(#k10)" d="M549.4 129.0 545.7 122.9 543.3 113.0 564.3 86.1 599.7 52.5 481.4 148.2 500.5 138.0 559.0 63.8 566.7 112.4 556.0 106.4 581.2 139.2 651.5 6.1 567.7 109.5 552.3 148.5 546.6 136.8 588.2 89.8 636.5 141.2 551.2 137.0 549.2 110.7 628.2 17.1 664.2 34.8 558.5 71.0 467.3 157.9 631.8 57.7"/><path stroke="none" marker-start="url(#k11)" marker-mid="url(#k11)" marker-end="url(#k11)" d="M613.0 66.2 551.7 126.1 645.1 -20.8 587.8 128.5 558.6 89.5 555.8 121.2 651.1 32.0 560.2 119.6 649.0 95.4 538.9 109.6 564.7 86.2 578.0 132.7 558.5 153.1 506.3 134.9 528.3 113.3 530.6 110.7 570.3 87.4 555.7 107.7 673.6 31.0 555.5 131.8 586.9 60.1 486.7 149.9 660.6 146.9 580.6 26.4 613.9 85.6"/><path stroke="none" marker-start="url(#k12)" marker-mid="url(#k12)" marker-end="url(#k12)" d="M605.1 51.5 557.5 146.4 610.8 84.6 613.4 66.5 547.8 121.3 573.3 119.9 544.2 120.0 555.0 118.8 652.9 27.1 548.0 103.9 554.0 108.9 505.8 125.1 465.8 156.4 658.0 131.1 577.6 66.7 560.4 136.1 543.3 113.8 646.4 27.5 519.1 133.1 612.4 39.2"/><path stroke="none" marker-start="url(#k13)" marker-mid="url(#k13)" marker-end="url(#k13)" d="M645.0 147.9 648.8 35.7 578.7 106.8 585.5 70.7 504.3 136.6 654.8 16.7 497.9 141.6 555.9 85.8 535.0 103.4 619.1 28.5 524.6 122.3 555.4 103.6 547.4 141.8 578.6 76.4 543.3 100.0 516.1 129.1 488.6 137.5 539.3 116.8 521.7 113.4 603.9 61.3 466.4 160.4"/><path stroke="none" marker-start="url(#k14)" marker-mid="url(#k14)" marker-end="url(#k14)" d="M612.1 77.5 628.6 59.1 552.3 137.2 518.1 113.2 552.1 99.5 536.7 124.3 558.9 113.5 608.3 46.0 579.0 83.8 580.9 135.5 494.1 139.1 552.9 130.2 673.9 -7.2 570.3 89.5 477.8 147.3 532.2 117.3 500.1 134.8 472.4 147.2 564.8 82.5 484.8 150.0 538.1 101.3 541.6 95.8 615.4 43.3 648.6 96.4"/><path stroke="none" marker-start="url(#k15)" marker-mid="url(#k15)" marker-end="url(#k15)" d="M464.5 166.3 557.0 88.6 550.1 86.9 557.7 145.4 624.3 29.3 587.1 71.3 597.6 67.5 541.8 111.2 600.4 65.9 550.5 108.1 539.0 92.9 567.5 137.3 516.8 115.1 571.9 77.6 630.4 49.3 550.9 101.1 619.8 53.8 503.9 125.9 510.0 124.0 464.9 169.5 526.9 116.8 583.2 87.0 577.4 152.7 471.9 157.5 542.1 104.6 569.0 91.3 515.5 122.9 533.6 126.2 544.7 100.3 597.4 62.5 594.2 70.0 646.5 -15.1 554.3 98.5 544.3 153.7"/><path stroke="none" marker-start="url(#k16)" marker-mid="url(#k16)" marker-end="url(#k16)" d="M623.3 51.4 568.5 87.7 501.1 134.8 498.8 141.8 525.0 111.5 607.0 138.8 523.4 120.9 518.2 111.9 532.1 104.8 583.1 71.3 504.4 127.5 588.8 74.4 604.8 41.5 617.9 44.1 599.4 73.1 552.5 97.2 609.9 43.7 510.4 122.2 546.0 104.3 505.7 131.0 598.4 71.4 551.8 94.4 571.3 76.3 588.6 85.3 533.1 106.3 635.6 22.3 579.0 144.9 533.9 106.3"/><path stroke="none" marker-start="url(#k17)" marker-mid="url(#k17)" marker-end="url(#k17)" d="M591.8 87.3 582.4 77.9 524.9 118.6 588.3 62.7 468.8 152.6 573.0 89.4 597.7 53.3 540.2 110.9 507.4 128.6 502.9 112.2 534.4 117.4 567.8 144.4 579.7 77.5 663.9 -0.7 589.0 68.0 499.9 136.3 576.4 64.5 605.4 44.9 574.7 60.1 602.8 30.7 581.7 69.7 497.8 143.6 510.9 126.4 598.3 45.8 525.7 105.2 488.1 127.5 647.7 26.4 493.4 145.0 588.3 134.2 610.9 37.4 571.2 138.0 465.8 163.8 514.5 137.7 509.2 117.7"/><path stroke="none" marker-start="url(#k18)" marker-mid="url(#k18)" marker-end="url(#k18)" d="M568.2 92.0 565.2 88.1 557.3 94.0 606.0 66.9 534.9 162.6 580.7 72.3 572.1 90.5 467.7 151.6 608.2 38.7 478.7 151.0 525.9 112.8 588.4 85.1 570.7 68.7 596.0 46.9 556.6 99.0 516.7 117.3 465.4 153.6 549.5 85.9 607.6 53.1 601.9 60.2 503.0 123.9 477.4 154.1 568.1 87.0 552.2 115.5"/><path stroke="none" marker-start="url(#k19)" marker-mid="url(#k19)" marker-end="url(#k19)" d="M544.3 109.8 565.4 85.0 557.6 116.2 511.6 140.2 452.4 161.1 575.4 140.7 475.0 154.9 545.4 103.3 578.8 64.7 501.2 113.7 552.9 131.7 481.1 146.6 573.3 80.5 499.2 141.1 519.9 126.0 635.2 31.9 508.4 128.0 526.9 119.9 577.9 89.5 556.3 84.9 554.3 132.2 546.2 152.9 632.1 45.5 626.2 95.0 555.1 69.3 585.4 67.7 659.4 5.0 600.3 51.6 473.2 148.4"/><path stroke="none" marker-start="url(#k20)" marker-mid="url(#k20)" marker-end="url(#k20)" d="M576.8 141.1 459.7 160.9 526.9 118.3 556.2 107.4 487.1 145.8 508.0 118.3 496.0 142.3 520.0 129.7 520.0 103.4 552.4 97.8 550.9 107.7 503.0 129.4 510.0 135.4 517.6 125.6 511.5 136.3 481.7 135.2 554.3 139.4 514.2 133.9 498.0 127.3 459.4 157.9 581.6 77.3 554.2 85.8 511.6 133.3 462.6 154.3"/><path stroke="none" marker-start="url(#k21)" marker-mid="url(#k21)" marker-end="url(#k21)" d="M480.8 147.9 617.1 38.0 532.5 104.7 479.2 155.9 510.0 106.4 458.6 168.2 469.8 153.5 481.1 155.6 588.8 149.8 516.4 120.9 589.4 131.6 540.3 105.8 552.8 86.9 502.1 136.9 488.7 140.9 527.0 122.2 478.5 117.3 569.0 36.8 550.0 147.2 573.7 90.5 570.4 104.8 548.1 119.2 560.9 90.6 598.7 108.7 481.9 136.7 554.3 89.4 531.9 155.6 476.6 145.6"/><path stroke="none" marker-start="url(#k22)" marker-mid="url(#k22)" marker-end="url(#k22)" d="M537.4 94.4 517.1 107.2 545.2 115.3 564.3 81.4 583.6 80.1 509.1 134.4 495.9 128.2 529.7 101.7 584.5 67.2 470.2 156.0 576.7 84.0 502.6 132.4 485.5 131.6 492.7 141.2 510.7 125.5 567.4 82.3 473.6 152.7 566.3 88.4 525.3 96.9 583.0 71.4 552.0 90.5 607.4 72.2 541.1 104.5 583.8 118.0 468.1 154.6 577.4 83.5 526.8 119.2 514.8 130.3 477.8 153.4 552.6 87.3"/><path stroke="none" marker-start="url(#k23)" marker-mid="url(#k23)" marker-end="url(#k23)" d="M575.1 87.3 500.3 124.6 518.8 130.9 502.0 135.9 508.1 116.0 580.0 161.9 495.9 115.9 483.8 158.0 478.8 151.5 566.5 45.9 466.1 167.7 488.5 138.6 528.3 66.3 464.5 156.8 480.8 149.3 494.6 144.7 506.4 132.7 556.4 89.1 581.5 84.6 470.3 164.4 458.1 154.3 508.5 137.4 577.1 74.3 490.7 146.8 490.1 151.8 464.5 162.0 503.3 130.8 472.4 153.0 570.7 91.2 468.4 149.2 562.2 90.3 494.0 146.8 484.5 145.6 507.7 121.9"/><path stroke="none" marker-start="url(#k0)" marker-mid="url(#k0)" marker-end="url(#k0)" d="M555.4 122.5 590.6 138.5 651.4 21.6 656.6 23.7 541.4 126.9 547.0 97.7"/><path stroke="none" marker-start="url(#k1)" marker-mid="url(#k1)" marker-end="url(#k1)" d="M547.9 115.3 557.7 116.2 633.9 140.7 563.8 163.3 466.9 162.7 639.3 30.1 542.0 97.8 553.2 104.7 587.9 67.7 494.7 101.9 559.2 79.2"/><path stroke="none" marker-start="url(#k2)" marker-mid="url(#k2)" marker-end="url(#k2)" d="M581.3 128.2 520.5 122.4 625.5 44.3 529.7 143.2 556.0 61.0 562.5 124.9 559.7 134.0 625.8 8.4"/><path stroke="none" marker-start="url(#k3)" marker-mid="url(#k3)" marker-end="url(#k3)" d="M554.8 117.4 558.8 141.1 576.4 128.7 616.6 93.5 646.0 42.8 654.1 25.3"/><path stroke="none" marker-start="url(#k4)" marker-mid="url(#k4)" marker-end="url(#k4)" d="M564.4 104.3 580.3 83.2 609.2 147.0 552.1 135.6 586.3 62.6 663.4 21.1 601.2 130.7 554.9 87.5 554.7 135.1 555.7 137.1 674.5 65.2 544.3 103.5 558.3 138.5 580.6 128.9 536.7 123.2 499.2 130.8 572.4 129.0"/><path stroke="none" marker-start="url(#k5)" marker-mid="url(#k5)" marker-end="url(#k5)" d="M573.0 151.9 613.9 137.0 436.3 167.5 561.1 104.5 630.2 56.9 636.2 47.6 615.6 50.6 574.9 131.2 655.6 18.2 655.2 3.2 546.5 107.9 536.9 132.3 666.7 -1.2 619.9 111.3 562.7 146.6 529.9 134.0 427.7 159.9 541.3 93.0"/><path stroke="none" marker-start="url(#k6)" marker-mid="url(#k6)" marker-end="url(#k6)" d="M563.9 137.8 577.3 141.4 550.2 98.0 618.2 24.0 556.1 101.7 651.0 3.4 579.4 130.0 599.3 53.7 549.4 113.9 515.2 123.1 661.2 39.4 612.7 37.3 575.3 122.5 593.4 59.3 630.7 48.5 553.4 135.4 566.4 139.2 574.8 139.7"/><path stroke="none" marker-start="url(#k7)" marker-mid="url(#k7)" marker-end="url(#k7)" d="M529.5 105.6 552.5 109.6 463.3 169.9 592.5 136.8 665.6 -1.3 540.6 99.5 588.3 59.2 559.6 140.0 514.7 95.1 567.2 148.5 602.9 99.0 539.3 127.8 617.7 52.7 594.5 79.1 624.9 49.9 528.2 110.0 553.2 100.8 632.1 52.5 563.2 111.3"/><path stroke="none" marker-start="url(#k8)" marker-mid="url(#k8)" marker-end="url(#k8)" d="M553.0 122.7 544.2 138.7 666.3 14.8 593.0 135.5 643.5 40.5 592.3 74.7 597.9 137.3 634.4 9.8 638.2 38.5 563.3 139.0 542.8 110.1 591.3 110.4 542.3 136.8 560.0 119.0 496.5 125.2 509.8 116.8 519.6 116.8 462.8 155.4 540.7 113.2 580.1 129.3 567.9 80.9 531.3 133.1 566.7 127.9 665.4 124.3 549.7 122.8 625.3 43.7"/><path stroke="none" marker-start="url(#k9)" marker-mid="url(#k9)" marker-end="url(#k9)" d="M578.9 114.1 573.5 132.3 566.2 73.7 578.3 138.2 483.2 145.0 533.4 128.8 496.4 137.9 586.3 126.9 539.6 115.1 623.4 136.5 560.2 122.1 568.2 112.4 541.8 70.3 557.0 121.6 587.9 68.1 550.1 124.8 647.3 118.3 544.2 108.7 569.7 128.4 628.1 125.8 589.1 46.6 556.1 128.7"/><path stroke="none" marker-start="url(#k10)" marker-mid="url(#k10)" marker-end="url(#k10)" d="M537.3 128.9 543.5 136.4 569.6 140.8 659.3 90.9 581.1 134.9 669.0 68.5 531.1 117.2 632.0 141.5 563.7 142.4 654.4 7.3 552.3 136.2 581.9 75.9 468.0 143.2 540.0 135.2 605.8 32.1 593.8 115.8 628.4 49.2 664.4 10.8 544.5 85.9"/><path stroke="none" marker-start="url(#k11)" marker-mid="url(#k11)" marker-end="url(#k11)" d="M625.3 142.7 586.6 72.9 574.2 77.0 554.0 115.5 540.4 106.9 533.7 138.0 624.1 31.0 555.0 130.1 554.4 106.9 497.2 141.0 561.9 106.1 585.7 112.8 541.2 134.8 541.8 129.7 559.6 125.8 558.1 131.9"/><path stroke="none" marker-start="url(#k12)" marker-mid="url(#k12)" marker-end="url(#k12)" d="M600.9 56.0 534.1 127.4 669.5 6.3 548.9 48.5 545.9 115.1 497.7 125.6 665.1 24.9 562.5 147.7 515.8 120.7 547.9 139.3 595.8 132.3 571.7 114.0 624.2 29.3 588.7 67.9 563.6 120.6 491.2 146.7 565.0 50.1 503.0 139.2"/><path stroke="none" marker-start="url(#k13)" marker-mid="url(#k13)" marker-end="url(#k13)" d="M512.7 135.5 599.0 74.0 464.0 117.2 605.8 146.8 561.3 132.3 544.9 127.2 633.7 63.8 604.3 55.3 560.6 141.2 501.5 135.6 532.0 111.9 530.2 138.4 650.8 9.3 661.6 18.4 589.4 72.4 488.9 127.3"/><path stroke="none" marker-start="url(#k14)" marker-mid="url(#k14)" marker-end="url(#k14)" d="M519.3 121.8 538.8 110.4 511.0 127.7 661.4 21.9 599.3 54.2 500.9 141.4 558.3 132.5 510.6 124.7 562.1 140.1 566.9 132.0 594.4 72.9 506.2 132.7 621.7 41.4 485.6 135.6 601.0 59.4 559.3 92.3 640.4 32.5 563.3 83.6 505.2 141.6 596.4 71.3 580.3 137.9 571.7 139.1 618.9 28.9 528.2 117.2 479.3 158.0 656.5 26.8 566.4 78.8 520.1 115.3 541.1 91.7 566.5 91.2 547.7 96.9 568.4 91.5 601.5 71.4 510.8 118.1 649.9 29.0 512.4 131.1 541.1 139.1 627.6 45.8"/><path stroke="none" marker-start="url(#k15)" marker-mid="url(#k15)" marker-end="url(#k15)" d="M555.7 107.4 541.8 101.0 575.3 78.8 465.5 162.5 528.3 104.9 505.0 121.0 618.4 44.5 542.1 95.1 615.2 40.1 592.0 61.8 592.4 76.4 554.3 116.8 558.8 95.3 536.0 104.8 506.2 125.4 598.5 61.8 510.2 130.3 644.0 23.8 503.7 142.3 607.9 70.0 568.1 124.5 536.4 109.2 618.8 50.4 541.9 99.0 512.1 141.1 504.9 139.2 559.4 125.8 609.8 37.3 663.4 29.8 560.2 133.3 527.0 101.7 523.1 131.2 511.2 128.3 509.9 121.8 536.5 115.0 575.2 91.9 495.3 134.4 574.9 86.2 572.9 117.2 510.2 121.4"/><path stroke="none" marker-start="url(#k16)" marker-mid="url(#k16)" marker-end="url(#k16)" d="M537.3 96.4 471.8 160.7 538.1 107.8 507.0 132.7 510.7 123.4 555.4 89.7 663.8 7.3 575.0 80.4 588.3 80.3 610.6 53.3 538.7 101.2 577.9 87.1 576.6 75.4 588.0 69.0 567.4 95.6 610.5 47.9 591.8 75.1 590.9 69.8 639.7 39.9 574.5 79.3 606.9 47.4 645.3 37.9 511.6 122.7 508.1 119.1 563.6 88.3 672.4 -12.5 476.1 150.6 571.3 107.5 520.5 116.3"/><path stroke="none" marker-start="url(#k17)" marker-mid="url(#k17)" marker-end="url(#k17)" d="M518.6 115.2 546.2 95.1 658.4 15.0 518.1 107.9 557.0 93.9 525.2 117.4 471.1 165.7 638.4 49.4 551.3 104.3 516.7 117.9 550.4 153.1 525.6 100.2 610.0 51.8 566.8 78.9 585.4 91.6 536.7 88.7 553.6 109.9 547.9 98.7 615.1 61.4 557.3 93.5 581.6 62.8 672.1 -1.5 540.4 100.2 533.7 115.3 576.4 93.1 494.7 152.8 502.9 132.9 535.2 129.4 473.1 152.8 625.3 41.6 504.0 122.8 638.3 82.4 469.9 150.4 585.5 55.3"/><path stroke="none" marker-start="url(#k18)" marker-mid="url(#k18)" marker-end="url(#k18)" d="M584.9 66.1 569.3 75.2 585.0 62.1 606.8 39.4 539.8 106.2 483.3 145.0 523.8 76.2 512.5 110.6 470.2 152.5 554.8 139.4 513.0 112.5 537.0 113.5 555.9 65.3 560.3 83.8 507.1 134.8 592.9 68.9 539.8 87.5 595.2 34.7 563.1 79.3 527.5 108.0 486.1 136.6 595.0 70.0 638.1 -17.8 610.1 37.2 515.0 122.5 545.5 112.8 501.4 130.6 494.5 93.4 563.5 92.3 489.5 143.6 508.0 130.9 487.0 150.3"/><path stroke="none" marker-start="url(#k19)" marker-mid="url(#k19)" marker-end="url(#k19)" d="M566.5 88.9 513.2 121.7 509.0 121.8 507.5 137.2 523.9 113.2 539.7 92.9 522.7 104.6 561.9 88.4 542.8 98.8 516.0 118.2 572.8 73.9 458.5 159.5 509.5 121.7 469.2 152.3 599.0 62.3 589.5 147.7 580.5 74.8"/><path stroke="none" marker-start="url(#k20)" marker-mid="url(#k20)" marker-end="url(#k20)" d="M489.8 147.7 542.9 105.5 527.6 120.9 490.0 139.2 547.6 48.2 519.6 110.1 512.3 120.5 520.3 114.6 534.9 112.3 574.3 110.0 468.8 159.5 502.4 141.7 544.1 106.3 511.6 134.1 567.3 83.2 492.5 88.0 552.8 127.3 505.7 88.7 541.4 104.9 539.5 141.5 447.9 163.5 468.1 126.3 545.9 106.6 601.6 56.3 545.7 146.1 573.9 93.8 568.8 84.8 563.8 101.2 522.7 135.7 624.3 69.2"/><path stroke="none" marker-start="url(#k21)" marker-mid="url(#k21)" marker-end="url(#k21)" d="M460.1 167.0 481.1 147.4 463.0 161.4 514.3 124.3 452.6 169.7 610.3 28.6 477.6 152.1 576.2 80.0 572.4 94.9 634.3 74.4 519.8 128.3 490.5 159.3 503.5 137.5 526.3 112.4 602.9 65.0 548.2 140.8 509.2 133.1 592.0 107.6 557.2 95.1 490.3 142.6 546.2 104.3 616.2 51.1 496.5 138.5 559.0 89.4 572.0 106.8 474.9 140.7 673.3 112.9 475.7 147.7 572.8 56.5 589.0 71.8 547.0 112.7"/><path stroke="none" marker-start="url(#k22)" marker-mid="url(#k22)" marker-end="url(#k22)" d="M475.9 143.7 503.7 130.4 559.5 110.1 534.0 112.4 507.2 130.5 569.8 78.0 457.0 165.7 571.7 142.8 494.0 139.1 457.9 157.9 476.0 141.4 588.8 64.0 538.0 109.5 476.0 114.1 602.0 54.8 464.0 159.1 551.7 101.8 492.1 142.8 494.3 149.8 543.5 112.9 502.3 138.4 440.8 136.7 521.4 111.9 503.4 131.9 583.0 83.6 453.8 159.9 475.4 151.6 571.1 87.0"/><path stroke="none" marker-start="url(#k23)" marker-mid="url(#k23)" marker-end="url(#k23)" d="M569.7 76.9 572.8 89.9 467.6 161.2 465.0 166.3 569.4 87.3 477.6 152.8 459.1 156.5 515.4 128.8 489.8 146.5 505.3 138.5 556.5 87.8 458.3 176.5 519.4 112.1 548.5 102.1 486.7 132.9 469.4 148.4 463.8 161.8 479.3 140.9 517.8 120.2 476.3 139.1 468.1 157.9 489.2 141.5 563.7 115.5 468.4 155.1 485.3 142.7 562.5 124.4 493.9 132.0 504.5 130.6 565.9 72.1 528.4 109.7 579.0 67.2 500.7 124.3 476.8 160.4 470.8 151.8 507.4 125.7 512.6 115.8 479.5 147.2 515.2 127.5 553.1 158.3 581.2 62.4 543.3 108.2 508.0 130.0 480.9 151.5 495.0 138.9 481.2 140.2 452.7 168.5 563.5 97.6 515.5 115.2"/><path stroke="none" marker-start="url(#k0)" marker-mid="url(#k0)" marker-end="url(#k0)" d="M532.1 109.7 483.5 138.1 652.8 101.0 572.2 132.1 535.4 121.8 547.1 124.3 563.5 99.2 641.1 30.4 462.5 165.6 548.5 133.5 542.0 131.3 590.0 75.8 552.1 129.0 641.7 145.8 552.2 142.4"/><path stroke="none" marker-start="url(#k1)" marker-mid="url(#k1)" marker-end="url(#k1)" d="M456.1 167.3 660.2 84.8 533.6 131.6 657.3 116.0 496.0 126.0 477.6 109.5 555.0 109.6 671.8 143.8 529.6 121.7"/><path stroke="none" marker-start="url(#k2)" marker-mid="url(#k2)" marker-end="url(#k2)" d="M501.8 87.5 502.4 138.8 609.5 81.8 589.6 100.6 565.0 118.8 641.2 2.1 548.0 133.2 582.2 125.9 547.2 137.8 583.7 134.6 497.2 130.9 627.3 26.8"/><path stroke="none" marker-start="url(#k3)" marker-mid="url(#k3)" marker-end="url(#k3)" d="M581.0 138.8 573.8 104.5 550.7 101.6 596.0 134.4 554.0 131.1 657.9 130.2 566.8 116.7 652.9 144.5 546.9 109.4 534.0 129.2 560.8 127.8 532.5 123.8 590.6 124.1 465.6 139.5"/><path stroke="none" marker-start="url(#k4)" marker-mid="url(#k4)" marker-end="url(#k4)" d="M588.7 75.2 530.1 134.9 541.2 128.1 596.8 142.1 605.7 45.0 594.6 137.0 555.2 142.0 571.9 139.4 545.9 115.7 621.7 61.1"/><path stroke="none" marker-start="url(#k5)" marker-mid="url(#k5)" marker-end="url(#k5)" d="M640.3 18.5 565.4 84.0 558.1 123.1 668.7 13.2 558.8 117.2 522.6 73.9 571.3 129.9 578.2 135.8 567.3 102.5 597.4 124.5 573.1 134.7 565.3 104.0 649.1 79.8 586.8 89.6 550.5 138.2 598.2 139.1 632.7 29.3 604.9 133.2 534.2 158.2 431.6 169.1"/><path stroke="none" marker-start="url(#k6)" marker-mid="url(#k6)" marker-end="url(#k6)" d="M581.8 133.0 540.8 127.1 588.9 21.1 663.8 68.8 479.5 148.0 588.2 61.9 569.7 140.4 542.1 125.3 594.1 62.8 547.6 144.3 542.1 141.0 545.6 139.7 565.5 126.9 524.2 117.4 553.7 107.3 565.4 141.2 577.9 141.3 609.6 130.1 650.8 19.9 540.3 137.5 652.1 0.3 569.1 135.2"/><path stroke="none" marker-start="url(#k7)" marker-mid="url(#k7)" marker-end="url(#k7)" d="M560.7 137.0 611.1 40.8 592.6 127.4 625.5 28.1 665.5 40.5 603.7 57.9 567.2 140.2 577.3 109.2 631.2 25.9 644.8 20.2 673.8 19.5 447.2 146.8 593.4 126.3 533.9 124.4 591.0 152.1 576.9 131.9 550.7 134.4 648.9 95.4 559.8 132.4 624.7 14.1 616.5 28.8"/><path stroke="none" marker-start="url(#k8)" marker-mid="url(#k8)" marker-end="url(#k8)" d="M597.2 67.8 638.1 20.5 554.2 100.6 564.7 118.0 561.8 139.0 571.8 78.4 575.7 82.9 655.3 20.9 661.9 14.0 543.3 107.3 596.4 63.6 591.7 73.4 549.9 131.1 467.2 162.7 622.9 39.5 568.2 140.8 506.4 116.9 596.5 68.0 595.8 143.3 542.4 102.9"/><path stroke="none" marker-start="url(#k9)" marker-mid="url(#k9)" marker-end="url(#k9)" d="M629.4 42.9 581.2 123.9 450.5 121.5 656.6 28.1 648.8 122.7 543.8 106.6 614.1 38.6 562.6 122.9 495.3 128.3 557.5 141.5 485.9 148.3 559.9 114.2 546.2 101.9 553.8 103.0 537.9 126.0 499.7 124.8 634.8 9.0 551.5 119.6 564.5 121.5 561.4 102.1 618.4 40.6 566.0 131.2"/><path stroke="none" marker-start="url(#k10)" marker-mid="url(#k10)" marker-end="url(#k10)" d="M653.3 6.0 530.8 103.7 571.4 101.8 540.5 127.9 578.7 130.6 585.6 130.5 560.8 140.4 559.8 134.6 593.9 114.7 642.0 38.4 546.1 102.8 531.9 132.2 537.9 106.6 650.4 59.7 552.2 102.3 660.5 -5.0 545.3 135.6 576.4 136.4 549.5 127.8 639.6 30.3 557.8 138.0 551.5 92.2 568.7 122.1 557.6 110.4 452.3 166.7 546.7 114.5 485.3 147.6 569.9 122.5 666.0 135.7 611.4 42.2"/><path stroke="none" marker-start="url(#k11)" marker-mid="url(#k11)" marker-end="url(#k11)" d="M468.6 122.0 487.6 138.8 644.8 32.1 465.9 134.4 567.1 103.7 554.5 119.5 562.6 126.7 544.4 104.2 554.0 112.2 583.7 141.3 529.9 120.6 558.3 139.4 649.4 25.1 533.8 151.4 631.4 42.0 495.1 131.5"/><path stroke="none" marker-start="url(#k12)" marker-mid="url(#k12)" marker-end="url(#k12)" d="M563.7 99.9 594.2 81.1 562.4 131.7 552.1 96.5 548.9 148.0 549.3 136.8 563.8 116.8 561.2 136.9 543.2 99.4 565.6 142.8 473.9 148.7 645.7 38.9 586.6 80.4 595.7 47.2 564.1 97.5 561.3 137.3 515.0 114.7"/><path stroke="none" marker-start="url(#k13)" marker-mid="url(#k13)" marker-end="url(#k13)" d="M530.2 107.6 460.7 157.2 506.8 123.9 597.9 72.1 588.3 60.7 480.6 139.4 594.9 144.5 524.1 110.9 562.1 97.1 589.0 68.0 507.1 126.5 645.7 41.0 556.3 128.6 531.1 64.7 537.7 141.3 571.9 81.6 517.3 125.3 493.8 134.9 457.1 170.6 541.9 92.8 534.0 105.4 560.5 118.5"/><path stroke="none" marker-start="url(#k14)" marker-mid="url(#k14)" marker-end="url(#k14)" d="M511.1 124.3 512.1 120.4 639.1 32.0 587.2 72.8 568.8 85.1 480.0 144.4 482.1 131.5 570.1 94.2 650.8 -5.9 535.4 111.4 589.6 58.7 483.9 151.7 503.8 115.2 575.3 69.1 568.2 124.1 559.2 99.0 545.3 113.9 568.4 78.3 600.4 58.9 551.3 130.1 576.6 81.7 506.9 132.7 576.4 55.2 535.6 118.4 549.0 95.3 590.4 76.5 578.3 132.6 538.6 109.4"/><path stroke="none" marker-start="url(#k15)" marker-mid="url(#k15)" marker-end="url(#k15)" d="M621.8 33.6 460.7 161.2 590.5 84.0 565.6 85.4 584.7 82.5 579.2 79.7 603.8 63.3 563.4 139.9 527.6 129.1 590.5 69.8 497.1 129.7 564.3 136.8 467.1 148.2 573.4 97.8 568.5 83.1 559.0 96.1 606.8 65.2 428.9 147.9 484.0 136.1 513.4 116.7 541.0 98.7 543.6 107.1 586.1 81.9 607.4 69.9"/><path stroke="none" marker-start="url(#k16)" marker-mid="url(#k16)" marker-end="url(#k16)" d="M497.5 138.4 558.0 92.8 592.7 75.6 550.2 91.9 588.5 55.4 540.8 109.0 516.4 128.1 573.1 87.8 543.9 102.1 462.9 157.9 523.1 119.9 587.1 69.1 521.3 116.5 541.2 94.8 509.9 128.3 576.8 77.9 506.3 133.5 506.8 125.7 548.0 108.4 534.5 111.1 586.5 76.8 461.3 140.1 485.9 151.0 566.9 86.3 603.1 22.1"/><path stroke="none" marker-start="url(#k17)" marker-mid="url(#k17)" marker-end="url(#k17)" d="M487.1 141.4 603.6 56.0 556.8 99.9 521.1 115.6 603.5 62.1 560.5 98.1 585.2 79.8 523.0 124.0 538.8 105.2 543.4 97.8 537.8 99.8 551.3 93.3 529.5 128.4 591.3 81.3 591.8 132.6 547.2 110.7 585.8 64.8 552.2 106.7 582.7 80.9 504.8 137.2 463.7 147.4 527.1 115.6 545.9 127.7 469.5 158.3 584.7 61.5 568.2 114.7 466.5 163.5 569.8 91.7 541.8 109.0 492.4 142.8 462.8 167.0 587.9 62.2 620.7 45.8 585.6 79.5 555.3 92.4"/><path stroke="none" marker-start="url(#k18)" marker-mid="url(#k18)" marker-end="url(#k18)" d="M558.3 89.4 586.5 65.8 500.0 143.5 596.5 113.6 599.9 79.0 587.4 75.7 571.2 88.1 472.0 129.8 557.7 108.0 587.9 60.0 530.9 116.1 593.3 47.2 475.1 147.6 554.3 93.0 594.1 72.4 459.1 168.8 587.2 68.5 564.8 35.6 539.9 161.0 560.0 92.5 552.2 100.1 463.8 166.8 508.4 132.9 502.1 136.0 550.2 102.6 618.9 27.8 550.2 102.3 472.7 154.8 454.0 159.2 509.2 136.1 517.2 133.7 568.0 86.9 507.8 128.3 589.7 88.4"/><path stroke="none" marker-start="url(#k19)" marker-mid="url(#k19)" marker-end="url(#k19)" d="M568.3 78.7 572.4 76.0 646.0 27.7 525.0 112.4 508.5 123.1 568.6 102.2 588.4 80.0 572.4 93.7 547.4 109.6 537.9 113.5 590.0 60.5 501.7 130.3 550.9 105.5 494.3 139.0 601.3 58.9 595.6 48.5 542.2 103.6 563.5 70.0 528.2 152.5 614.2 62.7 640.3 9.2"/><path stroke="none" marker-start="url(#k20)" marker-mid="url(#k20)" marker-end="url(#k20)" d="M535.1 117.1 532.9 99.6 499.9 143.9 504.7 138.6 486.3 143.4 480.1 147.2 531.0 113.0 489.3 138.5 522.7 113.3 465.6 154.9 546.6 116.9 500.2 128.0 508.5 130.1 475.3 151.8 538.2 77.9 549.0 132.2 556.0 100.9 545.4 124.1 546.8 102.9 555.4 88.2 621.4 47.7 492.8 135.3 587.2 79.2 539.1 126.5 526.6 131.9 544.1 100.4 496.7 139.9 559.9 137.2 501.1 126.1 479.1 148.5 452.3 172.6 484.2 149.2"/><path stroke="none" marker-start="url(#k21)" marker-mid="url(#k21)" marker-end="url(#k21)" d="M522.3 123.7 487.1 132.7 508.1 140.3 488.5 146.9 578.8 154.9 525.3 115.8 554.7 91.8 493.8 139.3 466.7 158.2 607.0 59.3 610.2 40.0 538.0 110.0 475.4 158.5 565.2 103.6 495.3 149.6 557.6 123.9 516.4 132.4 506.3 123.6 636.9 86.3 648.9 31.6 482.7 138.7 567.2 84.5 444.9 146.0 491.9 128.1 590.1 38.8"/><path stroke="none" marker-start="url(#k22)" marker-mid="url(#k22)" marker-end="url(#k22)" d="M567.0 77.9 509.5 126.5 507.3 138.4 457.6 158.9 480.8 149.0 473.2 146.0 483.4 145.4 472.1 152.1 552.1 124.8 430.8 148.4 546.2 100.5 559.4 112.3 577.6 72.6 594.4 82.3 490.2 141.4 577.6 78.9 479.2 134.5 579.9 76.6 502.8 138.3 503.1 128.9 619.7 48.8 554.6 164.4 561.3 84.2 493.0 150.4 570.4 129.7 502.0 136.3 569.1 89.9 514.7 128.5 582.2 68.0 555.3 88.8 458.7 166.3 497.6 131.3 483.7 147.7"/><path stroke="none" marker-start="url(#k23)" marker-mid="url(#k23)" marker-end="url(#k23)" d="M561.9 86.2 560.7 98.6 504.1 134.9 504.8 136.8 509.8 134.4 488.6 153.7 455.8 165.1 471.3 149.6 663.3 25.7 486.5 141.2 506.8 133.2 551.2 111.1 468.5 153.9 473.7 153.8 484.9 145.2 513.5 128.7 510.2 127.4 506.1 126.4 485.2 149.2 502.9 131.3 583.4 76.0 504.4 124.0 466.9 148.0 483.8 144.6 557.9 108.8 454.0 166.7 506.7 143.7 495.1 131.8 478.3 152.5 671.7 122.0 499.4 123.2 586.4 62.1 500.2 113.7 512.0 127.2 579.6 71.8 528.2 116.8 480.1 137.6 510.5 128.7 473.4 137.0 455.7 161.3"/><path stroke="none" marker-start="url(#k0)" marker-mid="url(#k0)" marker-end="url(#k0)" d="M553.9 136.9 565.1 132.0 503.5 133.9 605.8 149.9 558.7 119.4 542.0 127.8 628.6 31.9 546.4 128.6 547.6 104.8 661.0 149.3 546.8 138.3 544.3 148.2 575.5 77.9 608.8 51.2 588.4 129.7 623.5 102.0 641.9 5.3 585.2 75.2 476.3 139.9 632.8 145.8"/><path stroke="none" marker-start="url(#k1)" marker-mid="url(#k1)" marker-end="url(#k1)" d="M604.3 48.1 571.7 137.5 640.2 22.4 640.0 32.9 567.4 139.6 472.3 141.9 619.2 139.7 563.2 109.6 566.4 149.0 529.2 125.6 569.1 98.3 551.2 132.1 642.1 104.7 558.4 140.5"/><path stroke="none" marker-start="url(#k2)" marker-mid="url(#k2)" marker-end="url(#k2)" d="M549.1 122.6 516.4 128.6 551.4 135.2 505.1 92.1 554.8 120.4 647.6 142.7 588.5 67.6 632.9 17.4 618.8 145.7 569.0 135.0 583.8 151.0 499.7 112.1 661.8 2.9 645.9 16.4 550.2 125.6 653.3 64.5 622.3 148.2"/><path stroke="none" marker-start="url(#k3)" marker-mid="url(#k3)" marker-end="url(#k3)" d="M509.7 81.5 585.3 109.5 581.6 140.4 637.0 44.3 620.5 83.9 460.6 159.8 480.2 161.0 588.5 145.8 557.3 135.3 552.9 117.1"/><path stroke="none" marker-start="url(#k4)" marker-mid="url(#k4)" marker-end="url(#k4)" d="M548.2 109.9 594.5 141.1 536.0 103.9 560.9 103.2 667.9 9.0 560.2 116.2 549.5 131.5 579.3 120.0 643.8 30.4 557.8 113.0 654.3 23.3"/><path stroke="none" marker-start="url(#k5)" marker-mid="url(#k5)" marker-end="url(#k5)" d="M561.7 145.5 438.8 149.0 551.4 117.3 621.7 68.5 551.1 110.5 625.3 1.2 589.0 91.4 553.8 138.6 590.5 142.5 556.8 98.8 525.8 119.5 557.2 92.6 658.7 10.1 580.7 73.1"/><path stroke="none" marker-start="url(#k6)" marker-mid="url(#k6)" marker-end="url(#k6)" d="M537.6 137.3 518.8 137.1 528.7 130.6 641.0 25.7 560.8 126.6 574.8 134.2 671.5 32.6 632.2 51.9 587.5 143.2 588.3 126.9 422.6 164.8 628.8 20.4 601.3 120.0 658.7 12.9 554.3 150.2 558.5 116.4 631.3 48.7"/><path stroke="none" marker-start="url(#k7)" marker-mid="url(#k7)" marker-end="url(#k7)" d="M544.6 128.7 500.4 137.4 478.6 140.4 566.9 83.7 559.2 96.0 585.7 73.9 646.9 140.2 592.8 73.8 537.1 120.2 609.3 39.5 662.7 13.7 538.7 97.9 483.1 143.8 544.3 101.5 654.1 23.9 645.8 -1.1 527.9 118.2 642.7 31.1 579.2 139.8 542.9 119.8 546.6 123.6"/><path stroke="none" marker-start="url(#k8)" marker-mid="url(#k8)" marker-end="url(#k8)" d="M536.7 122.1 578.1 126.8 600.9 71.6 543.6 111.2 465.3 156.7 673.5 147.6 594.9 115.3 498.5 86.9 602.3 41.9 621.8 37.4 582.4 71.1 655.5 17.6 626.6 140.0 663.1 15.0 609.8 125.7 540.7 99.4 544.9 106.4 585.0 153.9 541.5 92.4 497.3 113.2 545.7 117.3 551.2 135.0"/><path stroke="none" marker-start="url(#k9)" marker-mid="url(#k9)" marker-end="url(#k9)" d="M542.5 120.3 619.1 45.7 568.0 97.2 461.2 156.1 489.3 145.8 640.1 44.5 535.5 108.9 574.6 139.2 571.6 134.5 597.9 47.0 594.1 118.5 526.7 117.0 553.9 95.0 474.2 136.5 554.2 135.5 562.1 136.4 594.5 150.0"/><path stroke="none" marker-start="url(#k10)" marker-mid="url(#k10)" marker-end="url(#k10)" d="M542.8 128.7 624.6 43.2 459.9 122.7 544.2 105.7 504.2 137.1 549.0 144.4 625.0 58.2 534.2 96.7 552.5 99.6 592.0 138.4 551.5 134.1 662.2 126.9 550.6 139.5 599.0 144.8 438.4 174.0 553.0 99.6 498.7 135.5 565.1 79.0 613.9 34.2 540.3 143.5 644.8 36.6 631.4 45.2 591.0 137.1 568.2 87.2"/><path stroke="none" marker-start="url(#k11)" marker-mid="url(#k11)" marker-end="url(#k11)" d="M598.0 55.8 579.4 144.5 527.7 126.7 562.3 126.1 593.6 126.3 549.5 135.3 560.4 122.6 569.5 67.1 593.8 67.9 630.8 38.4 486.2 166.1 480.6 131.6 538.4 146.4 542.4 102.0 559.8 127.4 649.1 40.2 560.0 124.2 629.6 14.9 631.9 143.8 576.3 82.8 531.3 131.4"/><path stroke="none" marker-start="url(#k12)" marker-mid="url(#k12)" marker-end="url(#k12)" d="M462.6 162.7 645.2 22.7 551.9 98.6 546.7 131.2 504.4 125.3 568.8 107.0 517.0 111.6 602.9 55.2 558.1 124.9 534.5 122.5 478.9 141.3 523.6 133.1 614.0 48.8 620.3 30.1 539.0 123.3 572.4 112.6 621.3 62.7 562.8 141.1 607.8 125.9 664.5 76.5 607.9 94.9 570.0 114.1 594.2 130.7 587.9 82.9 556.5 83.6 561.7 97.5"/><path stroke="none" marker-start="url(#k13)" marker-mid="url(#k13)" marker-end="url(#k13)" d="M554.3 105.4 563.0 91.1 622.0 39.3 537.6 103.1 605.9 48.1 547.2 97.3 569.0 114.0 464.5 151.9 552.7 137.7 503.2 133.5 534.7 95.7 658.9 42.1 470.3 155.9 546.5 129.7 635.4 35.5 575.7 141.0 576.8 92.3 566.7 132.9 538.4 113.5 552.5 103.5 545.1 102.4 644.2 45.1"/><path stroke="none" marker-start="url(#k14)" marker-mid="url(#k14)" marker-end="url(#k14)" d="M551.4 97.8 546.2 113.4 534.7 116.9 598.1 63.2 558.6 110.2 539.3 100.5 572.8 93.9 616.2 36.2 537.3 105.8 562.3 117.2 535.8 111.6 551.6 103.4 547.2 94.9 578.3 138.5 566.4 88.6 599.7 53.4 557.4 102.8 557.3 91.9 480.9 156.0 555.5 128.6 559.3 129.8 546.7 98.2 592.8 69.8 455.0 163.1 569.7 126.2 515.8 111.7 500.9 130.8 490.0 142.2 540.6 95.4 532.2 115.7 597.7 53.7 580.8 77.0"/><path stroke="none" marker-start="url(#k15)" marker-mid="url(#k15)" marker-end="url(#k15)" d="M493.2 150.3 480.4 152.4 576.9 116.3 618.2 37.9 624.7 36.5 573.2 133.8 469.8 155.7 463.2 156.2 579.5 113.9 586.5 68.5 509.1 121.2 543.7 119.6 659.4 4.0 525.8 117.5 588.9 76.3 510.7 131.6 538.6 105.7 619.3 57.8 589.4 64.8 574.7 75.3 585.7 66.8 521.9 106.6 527.5 113.9 589.5 65.8 534.9 89.7 589.5 75.8 580.8 71.9 567.8 134.4 527.1 114.3"/><path stroke="none" marker-start="url(#k16)" marker-mid="url(#k16)" marker-end="url(#k16)" d="M578.1 70.8 585.7 55.8 603.4 136.9 501.8 132.7 600.9 56.0 630.4 39.7 563.0 81.6 509.9 130.1 575.4 32.5 599.2 43.0 466.5 154.2 491.9 144.7 543.9 91.3 600.7 53.4 525.8 115.8 578.8 78.4 610.2 83.2 579.2 79.1 553.6 117.0 594.3 40.4 526.4 110.1 567.9 88.3 504.0 134.2 493.7 139.5"/><path stroke="none" marker-start="url(#k17)" marker-mid="url(#k17)" marker-end="url(#k17)" d="M574.0 74.8 563.9 80.5 557.9 100.3 475.6 144.7 530.1 123.1 472.1 158.2 576.9 62.1 555.9 94.1 475.4 157.2 511.4 129.0 513.8 120.2 549.6 104.8 582.3 70.5 592.4 53.2 566.9 88.0 605.9 71.9 541.5 116.1 543.2 101.4 557.1 94.5 506.9 136.3 626.0 27.2 471.4 161.0 531.8 110.0 624.8 43.1 522.3 117.2 585.4 86.3 571.1 81.8 609.4 82.5 549.6 102.5 562.6 94.0 605.1 58.3"/><path stroke="none" marker-start="url(#k18)" marker-mid="url(#k18)" marker-end="url(#k18)" d="M536.4 118.4 491.7 147.4 500.4 144.6 504.0 139.9 533.1 108.2 453.8 163.9 574.4 77.5 601.4 64.3 623.5 42.8 651.5 26.4 602.2 59.1 576.5 78.9 603.3 50.5 575.4 73.3 511.0 100.4 567.4 51.0 525.3 121.7 644.2 19.8 549.4 98.5 462.8 154.5 543.8 101.6 515.0 123.1 536.0 101.0 553.7 96.5 478.6 152.0 515.2 116.2 538.1 118.9 505.9 124.0 573.0 64.2 574.0 95.5 463.0 156.0 588.0 81.9 550.8 97.7 571.2 82.6"/><path stroke="none" marker-start="url(#k19)" marker-mid="url(#k19)" marker-end="url(#k19)" d="M511.0 133.9 598.1 72.8 612.1 75.8 509.3 127.4 507.9 127.9 563.8 86.8 651.0 34.1 521.2 120.9 604.5 50.0 505.9 146.3 596.8 65.7 572.8 99.1 522.1 124.9 530.1 99.4 571.5 80.8 597.0 68.2 577.2 89.3 537.1 106.5 486.7 144.0 620.2 136.5 539.5 100.0"/><path stroke="none" marker-start="url(#k20)" marker-mid="url(#k20)" marker-end="url(#k20)" d="M504.6 122.5 506.7 138.2 573.1 79.7 577.8 76.7 577.6 72.6 509.8 131.0 457.8 164.2 564.6 84.6 589.8 55.9 453.5 164.6 561.5 94.3 494.8 135.4 519.7 121.5 540.5 95.5 503.5 132.1 553.1 112.1 580.0 145.0 598.6 53.3 556.0 105.1 554.4 93.9 501.8 133.5 476.5 109.2 589.2 68.4 524.8 119.0 545.7 125.0"/><path stroke="none" marker-start="url(#k21)" marker-mid="url(#k21)" marker-end="url(#k21)" d="M471.5 147.2 512.7 122.8 597.1 56.9 494.2 140.9 473.1 152.5 513.0 131.7 520.7 113.7 490.3 134.0 457.1 158.5 478.6 145.6 452.2 168.2 555.2 110.3 539.0 150.7 485.0 140.0 512.3 120.3 585.2 84.6 581.0 84.1 530.7 128.3 557.6 111.6 504.7 148.5 623.1 63.7 556.9 110.4 500.1 141.8 475.8 151.2"/><path stroke="none" marker-start="url(#k22)" marker-mid="url(#k22)" marker-end="url(#k22)" d="M499.4 139.2 468.0 157.6 596.7 127.8 479.3 150.1 464.4 163.5 467.3 163.7 545.5 124.5 472.6 169.1 462.0 167.5 540.2 117.7 474.9 154.4 517.2 136.8 468.4 153.1 540.9 104.3 547.4 107.1 581.5 91.5 460.0 169.6 502.3 139.5 507.9 130.6 580.8 65.2 525.4 107.6 526.9 116.7 478.3 159.5 467.4 162.2 473.8 161.6 487.7 140.2 532.0 90.3 470.8 147.6 479.0 148.2 510.1 127.8 509.1 130.7"/><path stroke="none" marker-start="url(#k23)" marker-mid="url(#k23)" marker-end="url(#k23)" d="M565.8 87.2 460.7 164.0 546.7 103.3 515.1 130.2 460.6 156.8 506.3 123.1 477.3 151.7 572.8 82.7 503.3 129.5 511.8 118.2 497.8 132.9 517.6 117.9 468.2 156.8 460.8 173.3 495.3 142.6 490.4 136.5 484.5 139.9 470.4 151.3 496.3 136.2 480.8 151.9 485.0 146.0 514.0 134.4 545.7 91.4 508.0 139.8 495.3 139.0 640.6 -10.1 544.5 106.9 483.8 143.0 510.3 121.1 535.3 105.7 584.9 121.4 461.2 144.0 487.2 154.7 457.6 174.2 521.6 121.7 535.2 105.0 462.5 161.5 485.9 150.8 555.1 103.5 458.4 163.4"/><path stroke="none" marker-start="url(#k0)" marker-mid="url(#k0)" marker-end="url(#k0)" d="M599.2 140.2 655.1 15.1 483.7 144.5 669.5 14.5 550.5 123.9 636.0 5.5 505.7 114.6 523.8 127.9"/><path stroke="none" marker-start="url(#k1)" marker-mid="url(#k1)" marker-end="url(#k1)" d="M436.0 160.7 564.3 126.2 551.5 130.1 422.5 164.2 588.7 146.0 647.6 34.7 563.9 130.2 546.9 145.3 471.4 149.6 560.3 122.5 546.5 143.4 548.6 139.7"/><path stroke="none" marker-start="url(#k2)" marker-mid="url(#k2)" marker-end="url(#k2)" d="M559.1 130.2 565.1 131.1 532.6 124.4 668.3 105.4 654.2 60.5 493.6 117.2 438.5 172.9 627.5 54.3 616.1 136.6 642.1 145.7 575.8 84.0 612.7 138.9 602.2 99.0 609.0 86.0"/><path stroke="none" marker-start="url(#k3)" marker-mid="url(#k3)" marker-end="url(#k3)" d="M494.5 112.1 534.7 135.4 674.0 118.4 574.7 48.1 656.9 137.5 587.5 116.8 569.1 146.9 626.3 121.7 575.7 107.2 551.4 121.1 636.6 140.9 614.6 94.8 587.5 135.6 438.3 164.5 564.8 81.6 575.2 49.1 540.3 122.9"/><path stroke="none" marker-start="url(#k4)" marker-mid="url(#k4)" marker-end="url(#k4)" d="M544.3 103.1 508.9 138.0 668.6 89.3 557.0 135.9 557.0 144.8 535.1 133.4 511.0 89.0 536.9 136.4 665.2 138.2 660.9 14.1 434.0 165.4 485.9 92.9 554.6 129.3 580.6 131.8"/><path stroke="none" marker-start="url(#k5)" marker-mid="url(#k5)" marker-end="url(#k5)" d="M623.3 25.6 536.9 90.4 658.8 16.2 567.2 96.3 579.3 139.9 542.8 121.1 622.0 59.4 613.5 91.1 552.3 134.2 571.3 134.7 433.3 154.6 614.7 60.5 623.2 48.3 640.0 60.0 554.4 139.3 582.9 133.2 541.4 128.5"/><path stroke="none" marker-start="url(#k6)" marker-mid="url(#k6)" marker-end="url(#k6)" d="M533.4 132.4 565.2 133.6 555.9 125.4 570.2 125.5 624.8 37.9 533.2 110.3 616.7 143.9 572.4 104.0 641.6 60.1 515.2 129.0 656.0 18.2 620.8 48.1 543.6 123.3 529.6 116.8 539.9 123.4 565.5 130.3 648.5 8.7 626.7 46.4 648.9 42.2 584.1 49.9 584.5 146.0 567.4 132.1 624.4 121.3 550.3 100.4"/><path stroke="none" marker-start="url(#k7)" marker-mid="url(#k7)" marker-end="url(#k7)" d="M564.0 111.1 649.2 41.5 570.2 114.0 618.2 49.6 621.2 30.4 649.2 -0.0 570.4 140.6 620.2 45.9 575.6 134.9 439.9 164.5 603.9 150.4 623.8 90.3 632.5 32.9 560.9 119.3 492.5 138.5 562.5 116.3 592.9 131.1 596.8 144.7 664.0 5.1 560.0 139.9 538.7 104.8 597.6 107.8 620.6 42.1 550.3 109.3 663.8 114.1"/><path stroke="none" marker-start="url(#k8)" marker-mid="url(#k8)" marker-end="url(#k8)" d="M589.6 61.0 553.8 105.9 598.4 60.5 551.4 111.8 591.1 142.1 560.1 121.5 619.3 145.1 583.2 150.5 425.3 150.9 664.4 21.2 626.6 82.9 667.1 6.5 539.4 100.4 540.9 132.3 563.7 139.9 572.6 125.8 636.4 20.0 456.0 159.4 647.8 -5.5 594.8 126.2"/><path stroke="none" marker-start="url(#k9)" marker-mid="url(#k9)" marker-end="url(#k9)" d="M637.7 24.2 591.3 57.1 586.8 137.2 559.4 138.5 592.3 123.4 556.5 131.5 539.8 99.8 550.1 127.3 664.1 11.1 536.6 132.5 511.5 101.7 477.7 143.0 510.2 125.8 558.6 130.0 564.1 138.9 664.1 10.8 647.7 75.1 635.8 -6.2 665.0 4.5 579.9 97.6 644.0 139.8 673.9 -3.7 584.2 132.5 659.0 19.6 573.1 89.6 586.5 134.4 620.7 38.4"/><path stroke="none" marker-start="url(#k10)" marker-mid="url(#k10)" marker-end="url(#k10)" d="M509.6 134.4 548.5 134.5 624.6 38.7 598.8 129.1 620.5 38.1 666.8 9.4 489.7 101.2 608.0 36.9 565.2 142.4 631.8 49.6 555.0 115.5 491.5 140.7 655.6 29.9 585.5 126.8 553.6 130.2 566.4 129.2 621.0 33.6 550.8 94.8"/><path stroke="none" marker-start="url(#k11)" marker-mid="url(#k11)" marker-end="url(#k11)" d="M571.6 136.3 623.3 39.1 604.4 38.6 601.1 67.3 477.5 156.3 547.0 109.2 623.0 55.6 561.4 126.1 483.8 144.6 507.5 132.5 572.0 71.9 549.9 131.9 533.9 115.3 499.5 140.6 517.5 127.9 576.1 136.9 611.5 15.1 592.2 61.5"/><path stroke="none" marker-start="url(#k12)" marker-mid="url(#k12)" marker-end="url(#k12)" d="M672.9 7.1 564.3 133.9 473.9 108.5 468.5 155.4 538.1 127.3 554.1 126.2 668.3 95.1 574.3 139.3 510.6 87.9 622.3 45.6 503.5 126.4 540.2 128.4 508.4 113.3 467.6 165.4 604.7 70.0 564.4 112.1 572.2 144.1 514.7 121.4 531.7 88.2 507.9 118.8 611.8 39.5 473.3 149.1"/><path stroke="none" marker-start="url(#k13)" marker-mid="url(#k13)" marker-end="url(#k13)" d="M524.5 113.6 564.1 108.1 484.9 149.9 588.8 83.5 574.4 105.5 558.7 97.0 559.1 94.3 505.0 140.9 557.9 90.9 563.1 93.9 633.2 28.7 480.1 139.7 460.6 174.7 593.8 129.5 560.2 141.9 512.4 117.1 587.9 62.1 504.7 123.5 554.8 125.4 541.0 118.9 621.7 17.9 587.3 67.9 613.9 70.7 522.9 113.3"/><path stroke="none" marker-start="url(#k14)" marker-mid="url(#k14)" marker-end="url(#k14)" d="M572.4 136.6 571.4 70.7 668.5 18.2 593.6 64.8 469.7 158.4 529.9 109.2 577.4 84.9 638.7 61.1 538.6 136.0 513.7 121.5 597.6 51.2 544.4 138.9 510.2 128.6 585.0 51.5 620.0 37.4 657.5 7.7 570.7 85.4 506.3 133.9 607.9 38.7 540.5 102.9 595.8 42.4 570.3 102.0 485.9 131.7 631.0 26.6 510.0 134.2 520.8 125.1 629.9 84.9"/><path stroke="none" marker-start="url(#k15)" marker-mid="url(#k15)" marker-end="url(#k15)" d="M478.1 146.7 508.3 138.5 542.6 107.9 531.8 139.2 429.8 140.4 507.6 124.8 635.2 33.2 511.8 144.6 483.6 134.2 537.3 113.8 509.8 128.2 569.3 119.9 545.6 91.8 565.0 91.2 588.9 68.4 564.6 76.8 546.5 103.1 603.7 49.5 574.8 87.4 503.1 134.0 593.7 64.3 504.2 135.8 576.1 67.5 562.0 160.9 595.7 71.2 533.0 111.2 535.2 119.0 569.7 92.6 613.7 47.7 583.8 80.8 623.9 39.9 520.2 126.2 525.9 127.7 571.7 60.8"/><path stroke="none" marker-start="url(#k16)" marker-mid="url(#k16)" marker-end="url(#k16)" d="M644.3 72.2 574.3 75.7 567.4 94.6 547.4 106.1 668.0 72.6 576.4 74.8 565.1 91.0 466.9 163.1 455.2 162.5 623.2 42.9 562.8 102.4 596.7 73.1 541.9 107.1 603.5 66.9 595.1 60.7 540.2 116.3 575.1 76.1 474.6 149.2 551.5 106.6 568.4 89.7 511.9 115.3 567.3 81.5 624.5 52.3 505.7 123.2 552.6 102.2 560.8 92.7 585.6 87.0 522.9 126.2 575.2 73.3"/><path stroke="none" marker-start="url(#k17)" marker-mid="url(#k17)" marker-end="url(#k17)" d="M491.0 141.2 555.8 88.8 668.3 -20.2 500.7 141.4 566.3 93.6 592.1 55.4 651.2 20.2 612.4 64.6 623.7 47.5 544.5 113.0 539.1 106.2 621.9 144.8 570.9 93.7 504.4 122.8 593.0 107.1 602.3 50.1 564.4 89.1 613.2 124.1 671.2 -4.9 522.3 115.0 622.0 14.4 634.6 127.7 639.1 66.2 524.2 121.1 493.4 138.9 503.7 134.2"/><path stroke="none" marker-start="url(#k18)" marker-mid="url(#k18)" marker-end="url(#k18)" d="M497.8 130.1 538.3 105.4 538.1 61.0 598.7 58.5 556.8 91.2 522.1 119.0 537.5 119.4 518.3 135.4 574.7 74.8 465.3 150.2 586.5 74.9 670.8 -0.5 535.9 110.6 459.1 159.0 521.9 130.3 601.4 57.0 461.8 163.1 591.8 85.5 505.9 120.8 547.1 100.9 507.4 133.6 533.7 107.6 574.4 90.8 617.5 27.7 590.0 65.1 589.4 55.4 578.6 77.2 555.5 111.2 490.5 140.0 465.8 161.9"/><path stroke="none" marker-start="url(#k19)" marker-mid="url(#k19)" marker-end="url(#k19)" d="M644.4 4.0 507.8 118.5 605.8 63.0 522.9 123.4 497.8 129.9 513.4 139.5 582.0 89.2 597.9 49.1 586.3 74.8 587.6 57.7 547.5 135.9 654.7 -10.7 457.3 165.8 562.8 97.2 518.3 104.5 541.0 123.7 596.4 54.4 510.1 131.7 483.0 149.2 539.3 104.0 558.8 112.8 589.3 73.8 602.7 81.9 544.8 95.4 486.4 148.7 561.5 80.1"/><path stroke="none" marker-start="url(#k20)" marker-mid="url(#k20)" marker-end="url(#k20)" d="M580.3 70.1 607.2 42.5 521.8 120.7 548.9 113.6 559.4 100.9 577.9 87.6 505.2 132.1 575.7 76.1 546.7 160.2 533.5 116.6 549.1 102.4 509.2 136.2 568.1 153.3 553.9 102.2 462.6 154.1 526.9 123.9 564.7 87.7 520.6 119.7 567.9 79.6 478.7 153.9 568.6 142.0 566.0 91.9 660.5 114.1 487.3 147.1 560.9 132.5 530.9 101.1"/><path stroke="none" marker-start="url(#k21)" marker-mid="url(#k21)" marker-end="url(#k21)" d="M504.3 128.8 552.3 104.3 561.5 87.9 588.5 62.6 570.2 117.5 471.3 144.3 552.1 110.8 510.4 122.9 580.3 138.5 599.2 79.5 497.4 137.8 476.3 150.6 523.9 123.3 488.9 147.5 521.7 104.6 585.6 128.7 469.0 155.4 559.4 130.6 510.4 129.9 469.4 152.6 514.2 120.6 509.9 117.3 590.1 85.7"/><path stroke="none" marker-start="url(#k22)" marker-mid="url(#k22)" marker-end="url(#k22)" d="M522.9 122.1 511.1 121.9 473.4 162.8 554.8 132.4 472.3 150.1 546.7 105.5 570.3 88.1 459.9 164.1 456.8 156.5 563.9 83.6 445.5 145.2 514.7 120.2 466.6 159.7 500.5 147.1 496.2 130.7 555.0 117.9 529.4 101.8 481.6 143.4 589.4 78.2 517.0 121.0 558.2 106.5 473.3 146.6 550.5 108.4 618.8 69.3 458.2 165.0 581.1 84.2 621.2 44.5 498.7 142.3 508.3 116.3 463.2 159.1 484.7 137.7 498.0 141.2 665.2 22.2 616.7 73.4 546.8 100.6 484.6 129.8 619.0 52.1 471.6 152.2 650.1 99.2"/><path stroke="none" marker-start="url(#k23)" marker-mid="url(#k23)" marker-end="url(#k23)" d="M497.4 144.9 474.0 150.8 499.6 136.3 568.6 91.9 488.6 121.1 516.5 115.6 614.4 38.5 503.5 132.6 484.5 145.5 503.2 141.1 461.9 158.6 530.3 106.3 458.2 153.6 589.9 69.8 538.3 106.0 464.6 155.3 561.0 97.8 464.4 153.6 566.5 81.5 516.3 126.3 476.2 153.7 471.5 162.9 478.2 162.2 511.2 126.6 574.0 70.1 482.8 147.5 517.7 120.9"/><path stroke="none" marker-start="url(#k0)" marker-mid="url(#k0)" marker-end="url(#k0)" d="M539.2 155.3 646.0 111.5 667.2 85.4 568.8 100.2 602.5 96.6 582.1 146.8 573.8 128.3 554.8 49.4 552.9 135.1 501.0 122.5 560.9 140.2 559.9 107.7"/><path stroke="none" marker-start="url(#k1)" marker-mid="url(#k1)" marker-end="url(#k1)" d="M423.9 142.5 605.5 91.1 542.2 123.9 602.1 67.3 661.1 131.1 663.9 118.7 559.5 129.3 611.7 133.0 549.7 104.0 647.2 141.9 583.1 138.0"/><path stroke="none" marker-start="url(#k2)" marker-mid="url(#k2)" marker-end="url(#k2)" d="M544.9 139.8 672.4 136.6 647.9 114.8 541.2 159.6 507.2 129.8 556.0 119.4 521.0 107.3 581.1 77.7 578.7 143.5 501.3 130.2 569.5 138.4 550.4 129.6"/><path stroke="none" marker-start="url(#k3)" marker-mid="url(#k3)" marker-end="url(#k3)" d="M505.6 128.2 529.5 131.0 513.4 120.8 556.3 131.4 553.8 131.4 603.6 86.7 565.1 133.1 583.2 125.2 557.4 138.1 573.8 152.4 458.0 163.2 654.2 12.2 560.9 164.8 643.5 133.2 629.9 124.7 558.5 112.0 668.8 149.1 566.6 137.9 652.4 57.6"/><path stroke="none" marker-start="url(#k4)" marker-mid="url(#k4)" marker-end="url(#k4)" d="M531.2 96.3 579.5 136.6 570.2 48.5 642.6 18.6 627.9 45.5 619.9 137.1 533.2 107.4"/><path stroke="none" marker-start="url(#k5)" marker-mid="url(#k5)" marker-end="url(#k5)" d="M559.5 145.1 647.6 37.4 539.9 140.6 597.4 141.9 506.1 138.3 627.0 32.6 556.1 128.3 569.3 130.9 659.3 122.4 602.6 63.0 576.3 119.0 553.8 130.1"/><path stroke="none" marker-start="url(#k6)" marker-mid="url(#k6)" marker-end="url(#k6)" d="M664.6 4.5 594.9 63.8 644.1 142.0 669.3 49.5 584.5 131.3 547.3 139.1 660.6 29.2 664.2 13.0 554.2 137.7 628.4 43.8 566.3 116.7 528.4 140.3 634.4 45.3 538.8 92.5 637.7 6.2 549.4 133.6 490.1 152.5 663.3 19.7 523.5 139.8 613.9 45.7"/><path stroke="none" marker-start="url(#k7)" marker-mid="url(#k7)" marker-end="url(#k7)" d="M582.0 69.9 654.6 16.8 560.6 128.8 546.1 111.8 628.7 5.2 629.4 27.1 574.4 72.9 559.4 145.2 544.8 147.6 672.7 -9.1 594.3 146.8 571.0 134.1 635.8 29.2 586.1 72.7 585.4 139.4 541.1 133.2 619.6 39.6 649.5 11.5"/><path stroke="none" marker-start="url(#k8)" marker-mid="url(#k8)" marker-end="url(#k8)" d="M528.8 109.4 556.7 129.2 599.5 48.4 586.3 79.1 637.9 22.6 587.6 68.5 611.1 57.2 638.0 38.1 455.0 157.0 546.9 119.4 588.0 61.8 566.3 149.8 640.5 -6.3 550.4 115.0 581.5 63.9 518.3 118.3 604.4 11.8 446.0 153.8 544.9 82.4 560.9 103.9 537.8 128.0 546.8 120.9 625.1 70.7 622.6 38.9 620.4 73.1 534.2 97.1 484.5 150.4"/><path stroke="none" marker-start="url(#k9)" marker-mid="url(#k9)" marker-end="url(#k9)" d="M620.9 54.9 645.9 35.4 539.1 127.8 624.0 123.1 553.5 119.0 593.5 126.2 538.8 108.0 631.1 33.9 632.2 13.2 611.4 38.8 546.6 122.0 568.9 155.8 557.5 121.8 567.0 122.9 639.6 117.6 429.6 176.3 599.3 100.6 646.1 33.1 564.1 136.2 561.5 116.8 661.2 117.2 563.3 112.6 582.2 138.9 568.5 137.9 648.7 45.0"/><path stroke="none" marker-start="url(#k10)" marker-mid="url(#k10)" marker-end="url(#k10)" d="M554.8 130.1 529.9 119.0 657.7 23.0 667.1 5.1 577.3 119.5 583.9 146.8 629.9 35.6 585.8 59.9 664.8 18.7 625.5 97.1 621.7 52.0 667.4 -7.8 565.1 131.4 554.6 128.6 529.3 115.5 488.8 149.6 662.8 16.1 494.9 133.2 604.7 99.1 644.7 25.2 597.1 127.6 668.8 5.4 556.6 96.7 557.8 127.3 635.3 48.8 543.3 109.6 552.4 144.2 663.4 32.3 500.5 123.3 521.5 126.9 544.6 118.3"/><path stroke="none" marker-start="url(#k11)" marker-mid="url(#k11)" marker-end="url(#k11)" d="M548.9 108.8 661.5 14.1 463.6 157.9 539.7 118.4 542.5 95.5 567.7 93.6 542.1 107.5 494.7 139.3 579.5 140.3 529.0 117.7 656.0 14.7 586.6 128.0 627.8 20.1 559.6 142.7 620.8 38.7 542.5 130.8 564.3 107.6 572.6 133.3 584.0 146.4 507.5 137.6 626.1 31.7 467.5 156.5 598.7 71.1 549.9 52.3"/><path stroke="none" marker-start="url(#k12)" marker-mid="url(#k12)" marker-end="url(#k12)" d="M561.4 87.7 465.4 168.2 522.8 122.9 562.0 98.0 665.9 16.1 556.0 143.2 556.7 110.8 494.9 95.0 478.9 152.3 551.3 114.5 531.9 133.4 570.4 56.8 568.8 91.8 560.2 146.2 495.3 151.2 543.0 134.5 563.7 137.8 533.8 115.0 537.3 131.5 598.9 61.1 585.6 62.5 534.7 118.9 651.6 40.3"/><path stroke="none" marker-start="url(#k13)" marker-mid="url(#k13)" marker-end="url(#k13)" d="M530.3 99.5 614.2 39.7 548.5 125.4 459.3 159.5 569.5 93.4 624.2 37.4 588.2 73.0 562.0 99.7 463.5 153.0 569.5 105.5 548.6 131.1 447.1 141.7 541.5 112.0 557.7 84.3 543.6 108.8 560.4 111.7 495.3 148.4 613.6 49.0 550.5 119.4 557.9 89.3 622.7 28.0 477.5 145.3 545.9 106.0 583.6 76.5 571.7 93.1 583.8 139.2 553.3 102.6 528.3 113.9"/><path stroke="none" marker-start="url(#k14)" marker-mid="url(#k14)" marker-end="url(#k14)" d="M574.6 78.8 476.4 150.4 532.5 129.9 502.2 137.9 580.0 69.5 558.8 118.4 588.4 63.1 535.8 108.4 545.8 100.9 584.4 73.7 552.0 95.8 598.6 74.8 552.4 79.3 530.3 120.1 546.5 99.9 543.4 103.0 566.4 79.3 521.9 127.0 543.5 89.8 482.1 157.3 507.6 122.0 673.1 22.6 585.1 64.6 575.6 79.6 574.9 75.2 535.9 100.4 564.2 86.2 577.1 64.9 595.3 65.8 585.9 76.6 555.8 93.2 485.3 153.7 480.4 148.5 545.7 104.9"/><path stroke="none" marker-start="url(#k15)" marker-mid="url(#k15)" marker-end="url(#k15)" d="M541.0 115.1 642.4 19.0 514.4 116.5 571.0 63.9 571.5 138.9 532.6 111.4 477.6 138.1 533.7 112.3 533.5 98.4 562.9 102.5 603.0 58.8 542.5 108.8 477.6 155.5 551.9 98.5 519.9 110.3 599.6 73.6 544.6 110.1 625.1 53.8 545.5 96.0 602.4 116.6 532.1 137.0 646.2 42.1 584.9 68.7 666.3 47.3 556.9 115.6 593.6 41.2"/><path stroke="none" marker-start="url(#k16)" marker-mid="url(#k16)" marker-end="url(#k16)" d="M592.6 141.0 504.6 124.9 564.6 147.5 498.7 139.7 552.3 109.1 561.3 66.4 539.3 111.4 522.6 96.2 550.5 106.3 540.8 101.6 467.6 168.0 577.9 80.5 540.2 134.5 588.7 84.8 532.0 112.1 593.3 68.0 566.0 96.0 583.4 59.2 522.1 157.2 486.7 138.0 568.2 98.1 535.9 106.4 505.7 137.5 513.5 127.3 490.9 144.3 577.9 65.7 456.2 163.1 576.2 94.7 556.9 100.2 529.7 122.9 547.5 95.8"/><path stroke="none" marker-start="url(#k17)" marker-mid="url(#k17)" marker-end="url(#k17)" d="M603.5 49.9 541.8 121.3 505.0 136.4 607.4 36.7 512.5 129.3 516.5 124.5 617.6 51.3 507.3 112.3 518.6 109.9 487.6 153.6 535.3 113.4 514.9 133.5 551.9 88.2 491.7 148.4 491.2 131.7 515.9 119.9 586.2 83.0 639.9 13.6 591.3 74.0 592.7 68.8 563.4 85.7 544.1 102.2 465.3 162.7 597.2 44.3 603.2 76.3 487.1 151.3 468.0 161.1 557.5 110.1 571.5 84.1 607.3 50.0 527.7 92.5 570.7 87.0 603.4 53.1"/><path stroke="none" marker-start="url(#k18)" marker-mid="url(#k18)" marker-end="url(#k18)" d="M513.5 123.7 586.9 51.0 527.3 129.1 500.3 135.3 646.0 9.4 485.7 147.1 575.1 80.4 494.6 129.1 547.2 91.0 669.1 10.6 571.6 86.3 499.6 126.1 530.9 106.3 497.7 126.2 562.2 78.6 647.7 6.5 503.3 126.7 588.9 62.4 555.5 93.1 480.1 149.2 601.4 66.9 478.1 138.1 502.6 128.7 564.6 76.2"/><path stroke="none" marker-start="url(#k19)" marker-mid="url(#k19)" marker-end="url(#k19)" d="M567.4 78.6 552.8 91.2 588.4 131.2 554.4 95.1 501.3 133.2 509.6 126.0 549.0 95.2 503.4 129.3 526.4 126.4 499.6 135.6 530.1 104.4 586.3 64.7 607.1 64.5 580.5 85.0 533.3 104.2 535.2 105.0 621.7 57.6 545.4 114.8"/><path stroke="none" marker-start="url(#k20)" marker-mid="url(#k20)" marker-end="url(#k20)" d="M484.6 149.9 600.7 55.8 520.9 117.5 644.2 66.0 562.0 77.2 574.8 85.9 561.0 96.0 554.5 105.9 510.4 127.2 472.4 142.7 565.0 53.6 543.4 96.5 489.5 134.7 578.4 127.9 532.5 119.8 586.8 87.9 589.7 76.1 573.8 73.1 602.0 67.6 510.4 130.5"/><path stroke="none" marker-start="url(#k21)" marker-mid="url(#k21)" marker-end="url(#k21)" d="M501.4 132.4 521.4 116.7 460.8 165.8 563.2 110.3 550.4 74.6 621.1 48.8 543.7 119.2 503.6 138.7 569.5 86.3 569.1 82.4 501.8 138.9 527.1 155.2 539.9 97.2 563.2 85.8 604.8 48.3"/><path stroke="none" marker-start="url(#k22)" marker-mid="url(#k22)" marker-end="url(#k22)" d="M498.2 138.6 466.6 162.8 491.4 134.6 615.3 124.5 512.5 125.5 550.0 123.2 538.1 114.0 487.4 153.3 561.0 93.9 471.6 138.8 471.5 148.3 550.2 97.7 557.9 122.6 524.9 117.7 461.0 169.2 520.0 125.0 462.9 167.6 554.7 102.5 562.1 157.6 568.3 91.6 505.0 138.4 495.3 143.2 458.8 163.1 568.9 132.5 468.7 157.4 568.1 71.7 565.2 98.7 518.0 127.5 557.1 93.4 477.8 158.0 475.8 140.4 516.9 116.4 519.0 115.2 474.3 157.1 462.1 162.8 482.7 143.4 564.8 89.9"/><path stroke="none" marker-start="url(#k23)" marker-mid="url(#k23)" marker-end="url(#k23)" d="M458.4 166.4 509.6 136.4 490.2 136.2 459.2 156.4 478.7 158.5 530.1 113.1 584.9 135.8 480.1 142.8 468.1 150.8 498.3 134.5 476.3 160.7 457.6 158.7 550.3 85.1 479.2 160.3 560.5 98.8 474.0 149.5 553.1 106.3 466.6 160.5 566.9 109.2 504.4 136.5 507.5 134.0 464.3 158.5 659.4 26.8 486.4 147.6 510.0 128.2 493.7 143.4 543.9 99.3 531.2 136.1 585.6 71.0 511.1 126.1 537.3 99.1 559.9 87.8 498.6 129.8 491.8 133.3 492.7 134.8 528.6 118.8 522.3 108.9 487.7 129.8 468.0 168.0 459.6 163.0"/>
</g>
<g clip-path="url(#cBR)" fill="none" stroke-linecap="round">
<path stroke="none" marker-start="url(#k0)" marker-mid="url(#k0)" marker-end="url(#k0)" d="M561.0 313.7 512.0 328.5 534.4 288.1 461.6 344.6 521.8 336.5 458.3 315.6 495.1 289.3 490.7 324.2 477.2 325.8 567.4 360.3 502.1 313.1 451.0 321.1 449.5 311.4 503.2 336.5 478.8 320.2 460.2 324.4 496.7 319.0 509.3 313.0 493.9 337.4 444.7 336.8 467.3 336.8 499.3 323.3 476.2 343.1 504.6 334.4 487.1 308.4 460.8 364.2 427.6 337.1 464.2 335.2 476.5 333.4 500.3 318.7 456.4 343.9 569.8 328.6 464.1 327.7 460.4 328.8 514.2 315.5 474.7 348.5 476.7 345.8 479.9 308.6 513.3 339.3 449.4 337.8 499.0 321.8 499.7 330.5 491.2 352.4 490.8 333.3 471.0 339.8 514.9 276.8 462.6 327.6 490.4 335.8 473.0 321.5 495.0 326.6 444.9 314.7 447.7 354.0 490.6 318.3 496.5 319.4 511.3 303.5"/><path stroke="none" marker-start="url(#k1)" marker-mid="url(#k1)" marker-end="url(#k1)" d="M500.8 283.5 443.7 343.0 471.7 301.6 496.5 325.6 458.4 331.4 464.3 329.0 558.2 342.0 503.5 307.4 477.2 340.7 460.6 327.1 513.6 336.6 473.5 335.4 492.2 331.1 443.1 332.1 457.1 335.8 477.0 339.6 477.1 330.4 473.6 342.5 518.7 320.0 497.1 322.7 585.1 350.9 472.0 340.8 469.1 331.5 548.2 324.6 444.5 331.1 481.8 319.1 467.3 332.5 428.1 339.8 471.0 349.2 521.3 322.9 495.4 286.5 509.0 349.5 500.2 336.2 459.9 338.3 471.7 336.2"/><path stroke="none" marker-start="url(#k2)" marker-mid="url(#k2)" marker-end="url(#k2)" d="M510.2 327.5 576.4 325.1 439.6 336.7 465.7 339.1 574.4 327.0 566.3 306.9 567.3 330.4 483.7 339.6 490.6 351.0 462.9 341.0 488.5 281.4 447.4 319.4 539.1 303.9 520.7 302.5 512.0 285.5 467.0 337.0 578.1 348.5 545.4 344.6 441.2 342.6"/><path stroke="none" marker-start="url(#k3)" marker-mid="url(#k3)" marker-end="url(#k3)" d="M578.5 340.9 487.1 338.6 480.7 339.1 578.1 303.0 577.3 353.3 445.5 341.8 475.2 346.9 572.5 324.8 462.2 325.1 444.2 353.6 451.1 333.9 475.9 342.3 573.7 314.8 475.6 333.8"/><path stroke="none" marker-start="url(#k4)" marker-mid="url(#k4)" marker-end="url(#k4)" d="M558.7 314.6 575.4 284.7 472.0 345.6 544.6 295.6 536.8 328.8 478.8 320.2 571.0 329.4 478.0 349.6 517.1 328.7 526.3 344.1"/><path stroke="none" marker-start="url(#k5)" marker-mid="url(#k5)" marker-end="url(#k5)" d="M607.2 310.8 487.6 303.0 508.1 333.6 565.9 343.8 567.7 275.0"/><path stroke="none" marker-start="url(#k6)" marker-mid="url(#k6)" marker-end="url(#k6)" d="M462.8 309.3 480.9 313.9 544.1 326.6 463.6 329.6 458.9 320.3 575.5 296.8 506.0 306.7 588.5 280.3 505.3 297.5 471.5 301.1 551.1 347.8 525.8 311.4 465.0 342.4 505.9 338.7 552.3 350.4 515.4 290.4 534.7 334.0 505.4 302.7 494.8 295.1 591.7 268.3"/><path stroke="none" marker-start="url(#k7)" marker-mid="url(#k7)" marker-end="url(#k7)" d="M544.0 332.9 495.4 277.7 497.4 323.7 499.8 370.1 413.9 354.0"/><path stroke="none" marker-start="url(#k8)" marker-mid="url(#k8)" marker-end="url(#k8)" d="M465.9 322.1 509.0 297.2 493.3 305.3 520.0 314.7 503.1 280.2 570.4 348.6 540.0 295.9 502.7 289.0 565.3 328.5 537.5 276.9 485.4 295.0 467.5 345.8 467.6 292.2 478.2 370.4 493.3 297.2 500.5 287.0 496.9 344.5"/><path stroke="none" marker-start="url(#k9)" marker-mid="url(#k9)" marker-end="url(#k9)" d="M601.1 320.7 513.8 276.7 509.9 295.2 510.3 400.4 512.1 306.4 482.9 298.6 544.0 258.1 511.1 309.5 459.4 334.3 614.9 309.8 527.1 287.7 573.7 276.5 491.3 285.9 615.5 290.9 518.2 302.4 569.8 279.2 480.4 306.1 483.8 322.6 486.0 318.1 504.8 310.6"/><path stroke="none" marker-start="url(#k10)" marker-mid="url(#k10)" marker-end="url(#k10)" d="M596.2 276.5 602.5 282.2 451.1 289.5 572.6 272.7 554.6 350.2 566.2 309.8 592.3 290.7 563.6 356.4 464.7 393.8 497.5 304.7 588.0 292.9 480.9 307.4 504.3 283.6 528.2 287.3 489.6 329.4 536.5 293.1"/><path stroke="none" marker-start="url(#k11)" marker-mid="url(#k11)" marker-end="url(#k11)" d="M596.2 354.2 548.3 303.2 535.0 302.5 557.8 320.8 580.2 262.0 443.2 295.1 596.5 290.0 555.2 394.5 487.4 276.4 493.5 295.6 582.7 282.9 589.4 291.5 621.8 208.1 551.6 306.8 583.1 269.4 582.1 273.9 609.5 253.1 596.9 267.5 573.9 258.0"/><path stroke="none" marker-start="url(#k12)" marker-mid="url(#k12)" marker-end="url(#k12)" d="M583.3 315.8 563.8 361.7 565.8 313.0 567.5 309.8 569.3 282.1 519.8 240.4 516.2 363.1 621.1 276.2 591.7 285.4 582.9 273.9 530.1 296.7 532.7 302.9 552.3 339.6 569.0 265.5 557.0 265.1 570.2 301.8 591.3 290.7"/><path stroke="none" marker-start="url(#k13)" marker-mid="url(#k13)" marker-end="url(#k13)" d="M613.7 346.1 576.8 337.0 562.0 335.1 501.0 332.1 566.7 269.1 507.4 301.8 503.2 323.0 603.3 286.7 533.9 288.1"/><path stroke="none" marker-start="url(#k14)" marker-mid="url(#k14)" marker-end="url(#k14)" d="M508.6 288.8 476.8 379.6 535.2 335.2 544.4 339.4 474.6 312.5 529.6 379.6 561.2 352.8 605.7 286.2"/><path stroke="none" marker-start="url(#k15)" marker-mid="url(#k15)" marker-end="url(#k15)" d="M594.5 304.4 596.6 274.7 588.2 268.9 582.3 302.0 586.6 293.2 606.5 271.2 576.7 281.1 604.8 277.5 605.9 269.5 501.9 297.5 606.6 270.0 585.9 287.5 602.4 281.0 547.2 303.0 575.7 321.5 597.5 263.4 584.6 322.1 583.8 317.1 565.0 307.6 589.6 317.2 579.0 253.7 585.8 306.1"/><path stroke="none" marker-start="url(#k16)" marker-mid="url(#k16)" marker-end="url(#k16)" d="M616.3 277.2 604.0 274.9 590.8 287.7 557.8 328.2 584.6 277.6 539.0 298.8 597.6 271.7 589.8 255.9 588.5 306.4 558.2 306.4 573.6 285.3 629.4 392.7 616.3 304.3 585.1 309.0 591.9 291.2 566.5 261.6 589.5 298.5 614.9 244.9 585.3 305.2 589.8 284.2 590.2 300.5 649.5 374.3 611.1 251.5 587.6 262.1 563.3 361.8 575.5 322.7 600.6 287.9 595.6 306.7 609.6 271.5 610.5 254.2 556.3 346.0 538.5 319.0 558.8 338.8 582.2 320.0 583.2 283.3 542.2 287.7 588.4 270.5 581.9 281.4 601.2 281.2 579.4 315.0"/><path stroke="none" marker-start="url(#k17)" marker-mid="url(#k17)" marker-end="url(#k17)" d="M612.8 292.7 572.5 331.2 588.8 300.6 545.0 317.6 559.2 324.5 588.6 242.3 560.5 354.2 560.2 309.3 574.1 288.7 562.6 347.4 535.2 335.6 587.5 325.7 588.1 260.7 586.5 311.0 583.0 283.6 577.5 306.6 561.9 268.8 580.0 271.9 579.9 332.7 595.1 278.8 582.1 286.5 551.1 341.9 596.4 290.7 576.1 338.6 571.0 332.6 584.9 262.7 588.3 293.1 604.6 276.9 571.0 263.9 611.1 309.3 562.6 296.4 572.3 348.4 575.6 286.1 576.6 286.7 571.4 344.6 555.0 329.2 580.5 269.3 511.6 370.7 581.6 275.2 594.7 271.7 567.7 339.4 558.4 307.1 598.0 289.1 593.4 244.8 566.0 276.5 544.9 344.4 592.7 282.9 540.7 353.0 580.2 245.2 559.9 366.6 605.9 280.6"/><path stroke="none" marker-start="url(#k18)" marker-mid="url(#k18)" marker-end="url(#k18)" d="M619.4 376.3 579.6 243.9 579.2 281.6 582.0 319.7 561.7 345.4 558.4 355.1 554.8 287.7 579.6 287.7 549.8 322.0 496.6 403.3 603.0 289.6 532.0 328.1 580.6 339.1 568.6 295.0 568.1 274.6 565.8 280.8 602.7 283.8 556.5 332.3 538.8 350.0 560.6 290.8 543.3 341.9 546.0 341.2 532.6 282.7 534.4 306.9 542.4 372.8 589.5 266.1 584.0 270.3 552.4 326.6"/><path stroke="none" marker-start="url(#k19)" marker-mid="url(#k19)" marker-end="url(#k19)" d="M536.9 278.0 580.0 271.7 581.1 272.1 557.2 293.1 513.5 251.8 547.7 373.1 572.3 337.5 560.1 327.9 531.8 355.1 555.8 344.6 544.7 359.4 579.8 283.0 555.1 335.9 533.8 384.8 560.2 303.9 597.0 299.6 537.2 288.6 535.9 307.5 615.0 267.7 564.6 322.5 611.0 282.2 539.6 333.2 567.6 320.5 533.8 318.5 503.4 361.3 477.4 401.2 576.6 296.3 491.8 310.5 556.4 262.9 559.1 321.3 551.0 354.6 536.9 316.8 582.5 266.3 551.2 319.6 535.5 293.2 543.5 266.3 588.4 327.3 538.3 355.5 583.9 268.7 473.7 388.8 572.7 270.4"/><path stroke="none" marker-start="url(#k20)" marker-mid="url(#k20)" marker-end="url(#k20)" d="M575.7 329.1 584.8 283.1 541.9 334.0 535.8 346.9 540.3 285.1 594.5 308.9 600.3 294.8 532.2 378.1 584.8 335.0 629.9 273.6 558.5 348.3 548.6 328.2 564.1 340.3 534.6 314.5 582.8 329.8 581.9 334.8 618.9 290.3 591.5 310.6 571.7 296.5 609.7 272.1 550.2 330.5 525.9 308.6 564.9 273.2 610.2 264.5 559.3 344.7 523.6 349.5 486.3 339.9 604.1 260.9 604.6 309.0 599.2 287.7 568.6 347.6 540.3 259.3 561.5 280.1 542.4 268.3 536.4 317.6 583.2 272.8 537.6 310.6 535.2 380.3 585.9 345.1 548.9 305.7 537.6 288.0 536.9 280.1 575.6 340.4 535.0 362.8 537.1 256.7 561.8 306.6 538.2 303.6 540.9 339.9 553.7 287.9"/><path stroke="none" marker-start="url(#k21)" marker-mid="url(#k21)" marker-end="url(#k21)" d="M515.0 396.3 588.8 310.8 595.7 334.0 563.3 326.7 591.4 290.1 589.9 327.3 637.0 266.1 598.8 278.4 565.0 352.5 602.2 331.1 618.0 326.8 571.5 393.3 479.4 403.0 577.6 311.5 537.6 342.8 544.9 322.8 612.2 295.6 598.1 304.2 616.0 278.1 547.9 360.7 587.7 315.7 587.0 310.4 612.2 334.6 536.7 263.0 647.7 318.9 658.4 267.4 548.0 341.1 535.7 315.8 536.7 327.6 538.4 359.4 623.3 286.1 505.6 395.6 607.2 286.0 539.3 340.4 538.2 281.0 537.6 306.3 604.6 269.5 535.6 347.6 525.7 340.3 540.1 379.7 535.7 331.3 539.2 282.9 586.9 316.0 604.0 323.0 539.5 338.8"/><path stroke="none" marker-start="url(#k22)" marker-mid="url(#k22)" marker-end="url(#k22)" d="M593.5 272.9 571.5 303.6 601.8 301.6 554.7 311.5 532.4 286.1 595.0 300.9 587.9 272.3 596.8 344.2 579.5 280.2 600.9 275.2 607.5 269.7 532.1 346.2 571.0 322.0 561.5 237.5 563.4 296.7 561.2 314.0 574.9 317.9 580.2 304.2 534.1 368.7 571.4 274.0 534.4 369.6 621.3 275.3 599.3 295.6 603.2 332.1 628.9 252.1 620.7 338.8 583.1 314.8 595.4 259.6 532.5 317.5 575.8 285.5 556.2 330.5 538.3 257.9 533.2 304.4 479.0 378.3 541.1 289.4 571.7 283.1 614.8 271.0 604.4 269.3 596.9 297.2 627.4 283.6 523.3 389.7 565.7 354.9 550.6 319.1 580.3 293.6 584.9 298.1 571.9 338.5"/><path stroke="none" marker-start="url(#k23)" marker-mid="url(#k23)" marker-end="url(#k23)" d="M546.1 351.3 579.4 270.3 616.8 289.4 565.7 275.8 620.2 278.9 552.2 330.9 657.1 309.6 597.4 278.4 551.4 342.7 547.8 297.9 604.2 277.3 614.8 301.5 618.0 328.5 581.2 273.9 557.8 287.9 564.8 299.0 627.8 255.0 604.7 276.6 581.9 327.3 605.8 260.4 602.8 331.0 542.7 279.0 572.3 329.9 584.9 283.2 653.3 305.8 606.8 295.9 614.7 280.1 615.0 276.3 585.0 267.4 617.7 286.8 612.6 289.1 574.3 300.3 589.3 274.3 604.4 288.7 584.6 275.1 652.1 264.8 582.5 291.2 593.2 297.9 578.3 292.1 550.7 273.7 585.3 261.1 587.0 279.2 582.5 349.8 639.0 286.6 553.2 305.5 610.5 278.5 556.6 288.3 593.2 274.9 594.9 260.5 591.2 293.8"/><path stroke="none" marker-start="url(#k0)" marker-mid="url(#k0)" marker-end="url(#k0)" d="M467.9 338.7 429.2 370.0 484.6 375.2 462.6 291.9 430.1 338.5 494.0 343.4 477.5 333.6 466.9 342.6 451.2 330.0 471.1 336.4 499.2 338.8 437.1 360.1 462.4 326.3 565.5 365.2 484.9 355.5 480.4 341.8 554.2 346.5 481.7 339.1 482.2 318.2 553.2 310.1 530.3 343.7 484.8 340.0 483.4 329.0 495.6 329.9 488.4 346.6 564.0 310.3 430.6 346.6 476.8 357.6 466.9 331.4 470.3 322.8 458.4 364.4 521.4 284.3 522.7 330.1 455.2 357.5 474.6 317.5 476.8 327.8 447.6 333.5 446.8 342.8 478.4 336.3 469.4 342.7 445.0 326.5 466.4 312.0 493.3 307.2 483.5 313.7 481.7 319.1 503.4 322.4 483.3 310.9 513.2 310.3 481.6 324.4 456.4 336.9 453.3 334.7 448.5 327.5 499.5 321.0 480.7 333.1 431.6 330.6 425.4 334.6 484.4 346.8 471.5 316.1 459.9 317.5 477.8 327.1 471.5 337.8 562.0 336.9 471.5 328.1 445.6 337.0 458.5 352.6 456.5 335.7 465.6 340.7 441.2 324.0 567.5 322.1"/><path stroke="none" marker-start="url(#k1)" marker-mid="url(#k1)" marker-end="url(#k1)" d="M420.7 332.7 491.1 322.5 488.3 331.2 479.8 339.9 473.5 351.4 479.6 327.1 457.2 323.7 452.4 352.0 507.1 338.9 425.9 330.6 480.2 334.2 467.7 345.8 570.5 330.4 483.3 339.4 539.7 292.1 467.8 305.1 461.0 341.6 520.0 318.7 513.0 357.7 478.2 324.1 464.7 320.4 511.0 318.1 500.1 312.1 486.3 343.6 489.5 339.5 432.0 358.6 464.1 314.5 470.7 327.0 474.2 329.0 487.1 333.1 558.7 338.4 469.4 321.9 442.2 330.9"/><path stroke="none" marker-start="url(#k2)" marker-mid="url(#k2)" marker-end="url(#k2)" d="M462.1 340.2 465.7 292.9 478.2 331.8 465.1 350.0 587.0 324.1 464.3 327.2 529.2 333.8 492.9 327.9 502.8 300.0 477.7 331.9 478.3 328.2"/><path stroke="none" marker-start="url(#k3)" marker-mid="url(#k3)" marker-end="url(#k3)" d="M490.0 340.1 572.0 328.4 495.8 332.1 484.2 330.7 555.2 309.9 534.4 292.1 500.3 310.7 557.2 329.4 518.8 314.8 472.0 325.3 478.7 328.9"/><path stroke="none" marker-start="url(#k4)" marker-mid="url(#k4)" marker-end="url(#k4)" d="M575.6 346.9 482.8 341.1 574.7 342.8 557.4 355.1 546.2 332.0 488.3 326.0 595.4 311.7 475.1 306.0 449.1 347.2 477.2 339.1 480.8 350.5 457.1 322.1 413.4 360.6"/><path stroke="none" marker-start="url(#k5)" marker-mid="url(#k5)" marker-end="url(#k5)" d="M498.1 299.5 552.8 344.3 415.6 348.6 518.2 304.6 467.9 333.8 521.0 344.9 491.3 349.7 481.8 326.6 509.8 306.6 498.5 303.0 507.8 331.5 574.5 329.6 474.7 328.0 487.4 351.6"/><path stroke="none" marker-start="url(#k6)" marker-mid="url(#k6)" marker-end="url(#k6)" d="M491.9 306.3 480.7 308.9 499.2 299.5 501.8 285.6 594.5 249.5 507.2 299.0 572.6 295.0 504.4 283.0 474.9 300.3 487.7 295.7 468.1 288.8 583.4 287.0 484.9 299.3"/><path stroke="none" marker-start="url(#k7)" marker-mid="url(#k7)" marker-end="url(#k7)" d="M584.4 293.0 456.6 308.3 479.9 336.5 508.5 289.8 560.3 332.8"/><path stroke="none" marker-start="url(#k8)" marker-mid="url(#k8)" marker-end="url(#k8)" d="M582.8 259.5 458.2 350.9 493.2 384.6 503.4 314.1 588.7 277.0 498.7 292.8 510.2 303.6 467.6 309.7 529.2 290.8 590.7 294.8 537.8 304.9 566.7 250.0 454.6 359.6 492.7 305.5 536.0 289.7 591.3 344.0"/><path stroke="none" marker-start="url(#k9)" marker-mid="url(#k9)" marker-end="url(#k9)" d="M562.9 293.4 495.2 300.5 588.1 299.5 525.0 285.4 507.4 289.9 559.3 297.5 531.7 329.9 423.7 363.1 574.3 317.5 490.3 308.7 580.3 261.9 591.0 297.1 486.7 305.3 519.9 314.6 576.9 299.1 490.9 325.8 597.8 235.9 584.5 276.8 546.7 323.1 471.8 281.8 459.9 302.3 491.9 306.2 487.7 301.2 577.5 323.4"/><path stroke="none" marker-start="url(#k10)" marker-mid="url(#k10)" marker-end="url(#k10)" d="M580.3 335.7 566.6 279.9 497.3 303.6 541.1 313.6 463.5 381.5 514.1 275.8 601.2 300.8 585.3 321.5 572.1 267.5 557.0 308.2 584.4 255.4 578.5 273.2 476.7 297.3 506.2 293.0 566.2 260.9 544.5 318.3 556.4 333.1 479.2 328.6 512.7 305.1 485.1 294.5"/><path stroke="none" marker-start="url(#k11)" marker-mid="url(#k11)" marker-end="url(#k11)" d="M497.3 384.5 567.3 334.3 608.9 293.6 633.3 264.9 513.3 291.6 491.3 290.6 480.7 283.5 556.7 263.8 544.5 320.0 586.5 249.2 463.6 296.8 533.3 333.3 565.7 280.4 584.3 299.1 565.6 301.6 563.5 340.0"/><path stroke="none" marker-start="url(#k12)" marker-mid="url(#k12)" marker-end="url(#k12)" d="M479.2 307.9 575.0 321.3 532.1 330.1 585.8 367.4 542.2 371.2 502.9 308.1 602.4 270.3 501.7 293.4 541.5 331.3 492.1 289.7 594.8 247.6 574.3 299.5"/><path stroke="none" marker-start="url(#k13)" marker-mid="url(#k13)" marker-end="url(#k13)" d="M533.1 296.3 499.4 293.3 482.6 311.0 567.8 295.3 605.7 279.7 521.6 302.2 569.8 317.1"/><path stroke="none" marker-start="url(#k14)" marker-mid="url(#k14)" marker-end="url(#k14)" d="M584.9 291.7 544.3 359.0 585.5 281.6 564.2 298.4 562.3 294.1 614.9 275.9 476.3 279.3 507.5 287.6"/><path stroke="none" marker-start="url(#k15)" marker-mid="url(#k15)" marker-end="url(#k15)" d="M588.1 274.2 528.8 383.8 618.3 266.5 540.4 320.7 605.7 261.4 574.3 298.3 582.4 285.1 571.9 261.4 625.9 262.2 559.5 302.3 610.0 252.1 539.0 265.9 583.1 269.1 563.3 270.7 583.6 290.5 590.1 293.1 566.3 351.6 566.4 287.5 581.8 283.2 599.6 249.3 533.3 344.0 551.3 334.7"/><path stroke="none" marker-start="url(#k16)" marker-mid="url(#k16)" marker-end="url(#k16)" d="M566.3 289.0 581.2 314.1 591.4 296.3 599.2 263.3 572.2 267.5 558.6 277.2 559.6 315.5 547.8 327.1 542.6 288.9 583.1 291.7 606.9 264.4 584.0 288.4 572.7 261.4 603.7 270.3 458.9 389.8 580.4 266.8 535.0 352.1 569.8 311.2 552.3 307.8 619.1 255.5 531.6 342.2 608.1 265.0 535.4 276.5 604.5 234.3 576.8 294.8 564.1 330.0 562.8 280.6 536.8 306.7 585.1 292.9 589.5 282.7 598.5 264.4 561.9 279.9 582.3 268.2 580.7 285.9 566.8 347.2 567.7 342.2 509.6 387.3 603.6 285.0 577.2 301.6 571.4 310.2 571.1 289.2 543.1 318.8 587.8 267.8 598.3 302.0 616.9 269.1 574.8 288.4 581.2 293.0 596.3 322.1 535.4 318.8 612.1 281.4 590.0 295.7"/><path stroke="none" marker-start="url(#k17)" marker-mid="url(#k17)" marker-end="url(#k17)" d="M526.0 348.1 473.1 393.3 580.6 321.1 578.7 260.7 532.7 349.3 590.7 307.7 531.0 366.2 588.5 241.8 572.6 302.5 518.5 332.1 549.7 276.4 571.9 320.9 616.3 355.0 557.0 328.9 558.2 309.2 543.9 262.1 563.9 306.4 574.8 303.3 595.9 284.7 552.3 341.7 602.4 283.7 576.4 266.0 549.8 348.6 493.2 351.1 550.0 336.2 589.2 303.8 639.9 307.1 556.8 333.6 556.3 344.6 560.8 320.7 614.0 284.1 577.8 290.0 554.0 282.5 551.5 314.7 581.5 289.1 556.9 265.8 558.5 349.5 578.8 331.5 580.9 327.8 547.0 324.5 579.5 329.1 591.1 310.1 583.5 327.4 565.3 300.5"/><path stroke="none" marker-start="url(#k18)" marker-mid="url(#k18)" marker-end="url(#k18)" d="M567.5 341.3 537.3 300.4 561.3 261.0 611.3 297.9 541.7 332.0 535.3 375.3 531.4 346.2 540.8 364.1 561.4 344.6 610.4 272.1 535.2 288.2 548.7 365.4 554.8 349.6 569.3 320.7 563.4 344.4 550.7 247.1 537.6 252.6 490.2 296.6 536.5 348.2 541.1 378.8 605.5 299.2 456.0 359.7 560.0 319.4 555.5 340.1 602.6 296.9 556.9 345.2 540.8 346.8 563.8 332.3"/><path stroke="none" marker-start="url(#k19)" marker-mid="url(#k19)" marker-end="url(#k19)" d="M532.9 321.4 617.3 350.1 574.5 314.1 608.3 287.3 543.7 252.5 631.7 286.9 596.5 269.3 579.5 304.0 535.4 349.4 513.4 331.5 613.3 395.7 531.9 365.8 598.6 320.9 567.1 325.8 583.7 337.5 578.0 338.2 541.6 375.9 598.5 262.6 510.1 403.5 532.9 342.0 586.2 337.0 536.2 375.6 540.2 313.0 560.4 334.4 547.5 325.8 557.6 353.9 596.7 302.4 613.7 277.0 571.5 343.5 545.7 337.1 573.1 323.8 533.0 358.6 586.2 314.3 573.9 314.5 548.9 330.1 546.7 346.8"/><path stroke="none" marker-start="url(#k20)" marker-mid="url(#k20)" marker-end="url(#k20)" d="M538.5 314.8 563.6 367.0 554.1 318.6 566.5 350.4 564.4 299.8 649.7 307.8 558.4 296.7 532.9 344.0 564.0 322.7 532.9 335.9 534.1 385.6 604.1 268.3 538.9 284.2 548.3 377.8 602.1 289.5 542.1 341.9 542.0 335.9 538.6 336.4 596.6 341.5 540.6 370.8 533.3 379.4 535.1 291.2 584.8 263.4 541.0 264.1 612.3 267.8 555.0 338.7 497.4 382.2 569.4 313.3 656.5 404.8 545.0 264.3 587.0 300.0 543.8 334.6 539.1 351.8 577.0 325.0 558.7 286.5 547.2 345.5 613.6 313.8 535.9 340.9 607.1 272.8 582.4 326.0 571.8 309.0 571.9 337.0 567.8 278.0 544.8 347.7 532.3 337.8 604.5 280.9 542.0 380.4 571.2 352.7 535.5 267.2 538.9 269.0 538.4 341.1 598.4 309.5 558.2 282.1 491.6 341.3 552.5 290.5 589.8 319.9 568.2 342.8"/><path stroke="none" marker-start="url(#k21)" marker-mid="url(#k21)" marker-end="url(#k21)" d="M548.7 287.0 544.3 368.0 621.1 289.6 543.9 354.6 581.5 300.8 611.8 296.1 534.9 316.8 567.4 326.3 564.9 352.4 569.0 299.9 608.2 268.2 537.3 294.2 548.4 365.0 540.8 275.4 538.4 340.6 550.5 322.6 577.5 347.5 592.8 261.0 534.8 320.1 550.5 336.5 536.6 347.2 537.3 345.2 534.9 256.4 568.8 300.1 537.4 378.7 543.9 345.4 531.8 329.3 566.6 351.8 597.4 255.8 611.3 274.3 533.7 284.7 606.9 331.9 531.1 267.6 560.9 289.1 540.6 298.0 633.2 281.0 655.8 282.2 594.1 260.9 611.2 286.7"/><path stroke="none" marker-start="url(#k22)" marker-mid="url(#k22)" marker-end="url(#k22)" d="M532.2 366.4 619.5 316.4 610.4 255.8 576.9 296.8 614.4 271.1 534.2 363.4 601.1 289.8 554.9 299.4 581.0 313.2 629.7 277.1 567.3 311.1 576.8 309.8 601.1 279.2 598.3 266.9 573.2 300.0 580.1 273.4 579.8 268.4 531.9 311.8 561.7 335.4 514.4 361.5 636.5 252.5 600.2 257.7 587.5 324.0 602.5 286.8 615.0 271.4 545.8 345.6 550.4 338.8 543.7 279.9 607.8 315.2 634.9 257.1 601.2 300.3 529.4 369.9 573.4 316.5 587.6 271.6 547.9 348.3 574.1 263.0 587.5 335.4 569.1 254.4 531.4 372.5 620.7 294.7 629.6 268.5 570.2 293.3 584.9 325.0"/><path stroke="none" marker-start="url(#k23)" marker-mid="url(#k23)" marker-end="url(#k23)" d="M590.4 227.5 610.5 275.5 558.3 269.6 498.9 367.4 596.9 258.4 599.5 282.6 571.3 306.4 541.5 314.2 582.1 352.9 572.2 297.8 584.3 280.8 591.5 297.7 624.5 323.6 576.4 292.8 571.7 270.9 538.5 321.3 565.5 301.9 591.2 267.2 568.5 304.3 593.5 275.6 614.5 275.9 602.2 309.7 622.9 299.9 601.4 265.9 618.3 299.4 548.5 346.5 547.6 340.8 612.7 267.1 609.7 303.7 586.3 277.0 601.3 274.8 585.0 335.7 604.4 332.0 583.0 259.5 632.6 261.7 640.7 279.5 595.5 310.5 584.7 298.0 555.4 327.1 548.0 313.6 577.7 345.6 604.5 316.4 634.4 306.7 584.8 273.2 620.7 306.0 543.9 339.3 584.8 271.5 619.0 331.5 589.7 284.5"/><path stroke="none" marker-start="url(#k0)" marker-mid="url(#k0)" marker-end="url(#k0)" d="M470.8 340.5 461.8 327.4 487.3 311.7 453.5 316.8 429.3 328.8 463.7 316.4 486.2 335.9 513.2 332.7 489.3 340.8 466.3 329.5 474.4 336.4 487.2 341.6 460.9 319.3 472.0 341.5 462.2 339.6 437.5 330.4 492.2 331.7 470.4 333.7 479.5 337.1 487.8 327.8 488.0 340.7 459.0 337.2 464.6 360.9 557.6 330.1 477.6 337.7 461.2 341.9 457.8 334.3 486.9 347.6 476.8 339.1 463.8 336.5 531.0 313.1 516.3 325.7 471.5 359.5 490.5 323.9 463.4 335.0 515.7 315.8 471.8 351.5 476.1 336.9 474.9 340.5 481.8 320.2 500.7 346.0 431.6 351.5 502.3 348.5 457.8 344.9 470.1 343.6 462.2 358.1 482.0 331.8 455.0 322.7 475.1 329.1 460.7 320.1 485.6 326.5 526.5 321.0 480.8 317.5 478.4 314.7 489.0 328.2 480.5 324.4 513.6 352.2 494.1 353.6 490.5 344.8 560.4 318.7 470.6 351.4 441.8 334.3 469.2 337.7 465.6 351.6 497.2 317.1 497.1 316.3 449.6 343.7 570.8 339.6 460.1 347.2 478.9 334.1 469.1 315.3 476.5 341.2 515.1 334.5 427.4 334.9 465.4 337.7"/><path stroke="none" marker-start="url(#k1)" marker-mid="url(#k1)" marker-end="url(#k1)" d="M508.5 298.3 456.6 355.2 441.3 317.9 493.0 319.5 444.6 348.5 464.4 327.9 489.6 337.2 508.3 333.7 437.4 329.7 447.3 359.8 450.8 329.3 463.0 346.2 438.4 299.4 468.7 356.0 484.4 335.1 457.1 353.5 483.0 337.9 469.1 333.5 487.2 322.1 465.1 323.0 477.3 315.7 510.4 331.3 477.6 328.4 462.1 360.8 482.6 368.7 479.8 335.0 476.2 339.1 484.7 330.1 488.8 315.5 487.6 302.5 447.2 321.4 462.6 316.1 469.3 322.7 521.0 300.5 493.6 325.7"/><path stroke="none" marker-start="url(#k2)" marker-mid="url(#k2)" marker-end="url(#k2)" d="M509.1 331.1 514.4 306.1 516.2 304.1 496.5 329.5 574.0 332.6 549.7 325.4 496.8 303.2 470.7 302.2 473.0 330.9 500.8 277.5 558.6 327.5 476.8 335.5 571.8 329.1 572.3 328.2 574.6 333.3 557.3 335.5 458.4 337.6 514.0 306.2 573.6 334.0"/><path stroke="none" marker-start="url(#k3)" marker-mid="url(#k3)" marker-end="url(#k3)" d="M495.4 326.7 563.9 331.8 497.5 347.3 508.2 344.7 469.9 344.4 593.4 361.5 569.1 291.6 576.6 341.5 566.4 331.6 540.9 331.6 486.2 332.7"/><path stroke="none" marker-start="url(#k4)" marker-mid="url(#k4)" marker-end="url(#k4)" d="M558.5 330.4 566.3 344.7 555.0 317.4 486.6 343.2 550.5 330.3 463.2 323.8 485.0 331.4 450.8 314.5 578.4 323.3 468.3 280.5 459.0 325.0 485.0 327.0 520.1 327.8 472.1 321.8 546.2 329.4 457.8 338.2"/><path stroke="none" marker-start="url(#k5)" marker-mid="url(#k5)" marker-end="url(#k5)" d="M578.7 323.1 500.4 336.0 557.4 349.8 467.4 287.1 586.0 346.2 463.8 323.4 578.8 297.4 498.9 276.0 507.1 306.7"/><path stroke="none" marker-start="url(#k6)" marker-mid="url(#k6)" marker-end="url(#k6)" d="M577.7 297.5 488.0 297.9 518.7 294.0 453.8 356.5 495.2 302.9 584.5 305.1"/><path stroke="none" marker-start="url(#k7)" marker-mid="url(#k7)" marker-end="url(#k7)" d="M561.2 348.5 487.6 305.4 592.7 310.9 532.9 308.9 479.1 301.2 565.1 288.9 561.2 332.1 482.1 290.5 448.6 359.5 522.1 271.7 470.0 345.0 561.4 304.7 486.3 282.6 590.2 272.2 604.1 276.9"/><path stroke="none" marker-start="url(#k8)" marker-mid="url(#k8)" marker-end="url(#k8)" d="M484.3 342.4 584.0 305.7 494.4 310.4 584.2 271.8 524.1 303.5 471.2 354.7 600.9 287.0 499.6 282.2 511.9 287.0 513.4 309.6 509.3 293.5 490.0 357.0 490.7 302.1"/><path stroke="none" marker-start="url(#k9)" marker-mid="url(#k9)" marker-end="url(#k9)" d="M521.5 306.9 506.6 288.9 483.5 298.5 474.3 312.8 532.5 301.2 474.8 290.9 518.3 295.3 581.2 320.1 557.5 325.5 483.6 290.3 544.8 347.5 562.8 336.8 590.9 303.5 492.4 290.4 571.7 309.0"/><path stroke="none" marker-start="url(#k10)" marker-mid="url(#k10)" marker-end="url(#k10)" d="M541.9 331.9 514.8 304.0 539.6 274.3 532.8 347.4 543.4 323.6 615.6 276.1 582.1 297.6 481.0 298.9 562.3 274.2 597.2 291.7 507.1 301.1"/><path stroke="none" marker-start="url(#k11)" marker-mid="url(#k11)" marker-end="url(#k11)" d="M552.1 331.1 573.1 293.1 543.1 280.8 566.2 349.2 589.8 293.8 619.0 272.5 606.2 290.5 484.6 297.6 559.9 338.6 580.3 312.8"/><path stroke="none" marker-start="url(#k12)" marker-mid="url(#k12)" marker-end="url(#k12)" d="M516.7 368.6 516.8 361.9 576.4 282.0 562.0 312.8 523.8 276.3 552.8 307.2 532.2 313.3 497.6 335.2"/><path stroke="none" marker-start="url(#k13)" marker-mid="url(#k13)" marker-end="url(#k13)" d="M550.2 310.9 596.6 245.7 504.9 301.0 547.2 278.3 464.2 303.8 556.4 296.2"/><path stroke="none" marker-start="url(#k14)" marker-mid="url(#k14)" marker-end="url(#k14)" d="M600.0 289.6 527.4 373.0 552.9 261.9 565.2 335.9 509.7 284.3 466.8 279.2"/><path stroke="none" marker-start="url(#k15)" marker-mid="url(#k15)" marker-end="url(#k15)" d="M634.1 281.9 576.0 301.3 542.9 297.7 609.4 290.0 594.0 291.6 605.2 250.9 598.9 284.5 578.3 282.6 569.9 323.4 587.9 279.8 550.7 321.6 575.6 298.3 563.9 303.9 566.1 289.2 507.0 283.6 605.3 280.1 623.6 276.2 589.5 287.8 592.0 299.1 570.8 265.3 582.5 272.0 564.1 342.8 606.0 260.2 619.6 275.8"/><path stroke="none" marker-start="url(#k16)" marker-mid="url(#k16)" marker-end="url(#k16)" d="M602.8 276.0 546.2 293.8 585.8 285.7 493.6 283.0 561.5 350.4 586.4 304.9 600.3 261.0 556.8 280.2 572.9 329.1 559.1 297.4 562.3 329.2 610.4 253.1 565.6 296.4 594.1 289.8 553.8 332.0 571.9 297.0 597.3 279.9 569.8 276.3 567.7 287.1 603.8 284.0 616.5 316.3 564.2 311.3 585.3 254.8 597.2 283.9 596.2 279.7 608.3 259.7 560.0 266.2 572.3 318.4 554.4 311.1 569.1 283.1 556.4 292.9 599.7 290.5 574.8 281.6 600.2 284.9 589.0 331.1 564.2 301.8 553.8 327.2 586.5 258.1 561.5 336.7 595.4 259.0 612.2 288.0 621.9 302.8 595.6 286.5 566.8 270.6 606.3 277.5 534.9 299.0 634.9 251.9 557.9 301.4 573.1 261.2 605.2 281.2 601.8 279.7 554.9 322.6 592.3 271.4 567.6 327.1 588.2 273.4 601.1 271.2 582.2 294.6 532.8 329.6"/><path stroke="none" marker-start="url(#k17)" marker-mid="url(#k17)" marker-end="url(#k17)" d="M553.6 284.8 532.5 349.7 590.3 292.6 581.9 277.9 582.6 336.0 574.1 285.6 561.0 337.7 537.6 354.9 578.7 320.8 582.1 298.7 590.1 279.6 565.2 324.0 553.7 348.8 544.0 287.0 590.1 279.7 572.6 272.2 582.4 343.9 568.0 313.8 546.7 314.9 532.9 384.8 586.9 272.7 566.5 287.9 574.2 308.8 555.1 346.2 569.8 245.1 592.5 350.1 587.6 303.8 603.6 264.5 584.1 329.7 566.4 281.2 586.1 277.4 595.6 291.5 598.2 271.0 582.5 356.7 536.0 337.6 514.9 291.9 611.8 276.2 562.3 344.2 551.8 279.1 600.4 284.5 579.3 316.3 580.0 241.9 589.1 271.9 539.6 381.5"/><path stroke="none" marker-start="url(#k18)" marker-mid="url(#k18)" marker-end="url(#k18)" d="M533.2 304.4 568.2 281.0 567.7 271.8 536.0 351.5 590.8 273.7 579.0 383.0 586.0 344.1 580.1 342.8 550.0 337.6 563.0 324.9 575.2 361.1 545.3 328.1 533.8 279.5 579.4 321.2 565.9 355.0 575.8 297.2 595.0 328.0 537.5 272.1 591.0 301.1 598.2 295.1 519.1 339.4 623.6 305.7"/><path stroke="none" marker-start="url(#k19)" marker-mid="url(#k19)" marker-end="url(#k19)" d="M544.6 325.7 586.6 342.3 579.4 278.1 537.5 367.6 546.1 256.4 535.7 374.9 612.5 308.8 548.1 312.3 557.0 315.6 616.0 305.1 606.4 289.8 583.4 324.1 538.9 254.1 525.4 369.5 574.6 300.6 587.4 397.6 544.8 243.1 574.4 280.1 581.3 295.0 535.5 315.5 587.5 393.0 593.7 345.8 561.0 365.1 576.5 282.4 554.5 322.4 583.6 305.2 588.5 299.2 589.3 305.6 644.5 346.0 573.2 308.0 577.5 300.1 566.8 348.1 542.0 333.1 460.0 362.9 536.8 376.4 575.5 277.6 542.5 353.6 560.4 347.8 547.8 344.9 583.1 301.2 531.9 306.0"/><path stroke="none" marker-start="url(#k20)" marker-mid="url(#k20)" marker-end="url(#k20)" d="M578.9 281.0 553.8 314.9 475.8 363.3 573.4 276.8 642.2 357.0 513.8 338.5 537.7 335.5 561.7 351.6 599.6 301.5 536.7 321.8 512.1 273.2 564.6 254.5 559.3 301.5 534.4 336.1 598.6 329.4 592.0 278.6 620.9 299.1 601.5 318.7 587.4 277.6 554.2 265.6 539.0 350.2 570.0 337.5 538.7 363.2 585.9 328.3 617.0 272.1 540.1 367.7 539.3 352.6 537.3 299.7 600.5 245.3 577.8 279.0 576.4 257.7 561.2 337.8 566.6 289.0 559.7 339.3 544.7 287.6 625.0 313.3 565.7 297.3 536.9 340.9 627.4 306.7 535.0 400.1 560.6 294.8 534.4 357.2 631.9 307.5 593.3 322.9 596.9 263.7 587.0 336.8 533.5 336.9 625.8 363.0 617.1 286.3 597.9 318.2 481.8 391.6 548.0 332.2 541.1 288.3 587.2 283.4 536.5 270.8 548.3 348.1 539.6 341.6 593.4 281.1 574.1 332.5 520.1 336.2"/><path stroke="none" marker-start="url(#k21)" marker-mid="url(#k21)" marker-end="url(#k21)" d="M604.0 329.3 536.0 353.4 631.6 277.6 538.6 317.2 612.0 305.2 495.2 363.2 540.2 282.4 602.6 321.8 540.9 333.7 575.3 351.3 589.7 273.2 542.8 375.7 532.6 291.5 638.0 356.4 536.5 299.6 565.4 330.1 576.5 300.4 538.4 353.1 570.2 316.6 538.8 276.5 590.7 333.8 516.1 261.8 637.7 303.1 541.5 308.7 588.1 272.7 532.8 375.9 543.4 293.9 646.7 397.0 604.2 284.0 542.3 373.2 590.0 278.8 516.6 369.1 536.4 363.0 531.6 372.1 566.0 329.9 659.7 347.6"/><path stroke="none" marker-start="url(#k22)" marker-mid="url(#k22)" marker-end="url(#k22)" d="M521.3 384.4 565.2 330.2 634.5 289.7 541.1 334.5 601.0 329.0 535.3 308.1 581.7 274.7 541.1 344.5 588.3 286.9 573.9 267.2 557.2 337.3 592.8 329.4 600.0 313.9 560.9 275.8 585.5 254.0 570.8 259.0 569.5 274.0 577.7 260.4 584.1 284.9 541.7 312.4 597.4 309.1 557.9 309.5 565.3 275.6 627.3 314.6 538.8 374.6 570.1 303.0 600.2 266.4 610.2 296.5 655.2 314.6 645.5 289.9 533.6 380.2 607.3 279.5 532.6 282.1 548.4 307.7 594.3 261.0 567.9 332.5 584.0 260.2 566.8 339.0 529.5 323.7 626.6 282.1 576.9 268.5 566.1 335.3 532.5 300.7 532.2 343.2 584.1 272.1 581.6 271.4 604.1 306.8 608.1 297.4 618.4 237.1 564.3 322.5 568.4 325.7 533.0 371.4 535.9 371.9 595.9 317.4 551.1 302.4 594.4 285.9 622.5 284.1 608.8 249.5"/><path stroke="none" marker-start="url(#k23)" marker-mid="url(#k23)" marker-end="url(#k23)" d="M595.9 295.1 571.0 280.9 616.2 305.3 604.6 283.0 517.3 370.9 571.0 319.2 568.3 273.7 594.7 286.9 606.4 298.6 566.0 354.9 654.6 329.0 600.3 285.9 574.9 326.2 577.9 293.6 521.8 357.8 561.6 304.5 602.1 255.3 572.2 305.5 593.0 264.8 581.7 287.5 566.9 299.8 566.0 342.8 561.7 321.9 597.0 265.8 642.9 251.6 563.0 316.5 626.2 325.1 622.0 300.7 615.4 266.1 568.0 287.2 581.1 335.2 537.3 352.3 600.1 334.4 622.7 329.0 581.1 316.8 611.4 304.7 608.3 296.1 588.3 272.8 601.8 377.0 592.3 284.7 582.4 301.5 565.7 292.5 576.1 302.9"/><path stroke="none" marker-start="url(#k0)" marker-mid="url(#k0)" marker-end="url(#k0)" d="M477.1 327.2 427.2 341.9 443.1 317.1 458.9 337.5 485.1 346.3 495.3 323.4 500.7 336.0 542.6 305.1 460.7 324.6 496.2 320.7 528.5 323.7 462.7 341.3 506.8 334.3 467.3 322.0 504.6 332.9 485.8 349.4 496.3 337.6 505.9 320.6 492.9 335.6 496.5 345.9 503.4 315.5 451.0 337.9 465.7 343.0 498.9 308.8 456.3 323.7 441.7 328.8 518.7 314.6 434.4 366.8 470.9 368.1 486.6 317.4 476.8 320.6 492.7 327.4 469.9 341.8 473.4 348.4 481.6 360.1 476.2 338.1 452.8 343.7 453.8 328.5 440.0 314.2 471.8 327.6 451.4 357.1 472.4 344.4 475.3 322.3 484.9 329.0 491.2 334.5 512.3 307.6 503.5 324.0 505.0 318.1 479.7 316.4 470.4 326.7 485.4 310.9 508.8 330.2 492.6 322.0 456.6 330.5"/><path stroke="none" marker-start="url(#k1)" marker-mid="url(#k1)" marker-end="url(#k1)" d="M449.6 317.7 471.7 332.4 465.9 326.6 483.7 330.7 506.4 296.0 444.1 342.8 445.5 330.0 502.7 292.1 487.7 331.0 435.7 334.8 471.9 337.3 460.4 322.7 467.9 327.3 473.9 324.0 474.8 341.2 459.8 340.0 505.2 322.4 489.6 332.7 585.6 323.4 477.5 332.9 466.8 316.4 544.5 342.3 513.2 341.5 509.9 289.3 525.2 338.4 469.4 333.1 487.4 358.0 470.3 337.2 446.8 350.0 498.3 329.7 505.1 302.8 490.6 325.1 450.3 333.4 463.2 327.7 484.8 319.3 524.4 346.4 478.4 342.9 470.1 350.3 467.5 344.3 540.7 309.0 473.8 293.7 461.4 344.0 522.7 340.7 446.9 343.7 454.1 321.5 527.3 346.4"/><path stroke="none" marker-start="url(#k2)" marker-mid="url(#k2)" marker-end="url(#k2)" d="M464.1 343.8 444.1 340.1 562.0 355.7 474.4 344.1 457.4 347.8 483.3 331.9 444.7 288.2 454.3 332.0 471.6 319.5 488.0 345.7 502.4 312.5 559.3 323.6 503.6 301.0"/><path stroke="none" marker-start="url(#k3)" marker-mid="url(#k3)" marker-end="url(#k3)" d="M490.2 338.4 496.6 357.7 533.2 345.3 554.4 347.1 492.5 331.6"/><path stroke="none" marker-start="url(#k4)" marker-mid="url(#k4)" marker-end="url(#k4)" d="M527.4 306.7 525.8 324.3 491.7 344.6 469.2 289.0 527.4 294.0 589.0 290.9 572.2 293.2"/><path stroke="none" marker-start="url(#k5)" marker-mid="url(#k5)" marker-end="url(#k5)" d="M499.8 322.9 464.0 341.1 540.9 300.9"/><path stroke="none" marker-start="url(#k6)" marker-mid="url(#k6)" marker-end="url(#k6)" d="M557.9 317.8 485.1 317.4 572.4 296.2 567.5 281.6 585.7 352.8 558.9 347.4 602.0 297.5 473.4 292.6 574.6 326.2 452.5 306.4 558.3 324.9 504.7 297.6 493.6 311.4"/><path stroke="none" marker-start="url(#k7)" marker-mid="url(#k7)" marker-end="url(#k7)" d="M568.6 366.7 561.4 333.2 494.9 270.2 473.1 283.8 489.4 292.0 491.0 298.6 514.5 273.3 481.8 299.0 488.9 312.4 494.0 336.5 567.9 286.3 489.8 318.0 445.7 300.9 463.8 334.7 568.8 337.2 469.2 304.2 485.3 292.3 465.6 325.3 574.0 334.5"/><path stroke="none" marker-start="url(#k8)" marker-mid="url(#k8)" marker-end="url(#k8)" d="M502.5 304.6 518.7 302.2 490.9 299.8 554.4 280.2 506.0 288.2 533.5 300.3 507.2 300.5 514.2 307.2 482.9 296.3 542.7 296.9 466.6 332.0 511.6 332.9 480.6 318.1 509.8 297.3 486.4 297.2 540.8 334.9 513.0 285.2 593.0 263.1 514.2 276.2 498.0 301.3 532.3 333.8 574.1 331.6 592.1 338.7 578.4 358.7 533.2 329.6 450.6 323.6 514.6 293.2 560.1 293.0 481.0 333.6 507.8 270.4"/><path stroke="none" marker-start="url(#k9)" marker-mid="url(#k9)" marker-end="url(#k9)" d="M459.2 308.5 477.1 294.4 588.5 293.5 555.0 346.1 495.9 283.7 526.0 348.9 573.2 276.2 528.7 289.5 487.4 289.6 479.0 292.0 505.3 301.1 486.6 364.4 465.3 294.3 533.0 292.8 602.5 274.2 484.1 289.7"/><path stroke="none" marker-start="url(#k10)" marker-mid="url(#k10)" marker-end="url(#k10)" d="M585.2 309.5 511.1 299.8 577.9 291.6 486.2 293.8 477.3 303.2 575.7 284.6 466.4 319.4 600.8 282.6 560.5 266.3 563.4 318.3 566.5 290.1 457.8 305.1 504.8 372.6 516.5 332.6 508.3 284.2 585.4 247.8 516.1 312.5 467.4 290.6 552.8 335.7"/><path stroke="none" marker-start="url(#k11)" marker-mid="url(#k11)" marker-end="url(#k11)" d="M572.8 247.2 575.3 283.2 591.6 309.1 504.2 266.0 578.6 276.6 571.1 355.0 557.7 243.4 557.7 288.0 600.4 306.4"/><path stroke="none" marker-start="url(#k12)" marker-mid="url(#k12)" marker-end="url(#k12)" d="M578.7 275.5 557.2 269.4 608.4 240.4 593.9 270.8 576.4 275.8 568.6 326.0 533.4 253.2 567.1 250.8 465.9 385.0"/><path stroke="none" marker-start="url(#k13)" marker-mid="url(#k13)" marker-end="url(#k13)" d="M581.3 321.7 542.2 308.8 560.0 314.8 477.8 308.5 547.7 354.2 476.1 289.4 607.2 291.3"/><path stroke="none" marker-start="url(#k14)" marker-mid="url(#k14)" marker-end="url(#k14)" d="M448.5 283.0 591.4 297.9 508.1 276.4 600.7 258.5 549.7 347.6 551.6 395.6"/><path stroke="none" marker-start="url(#k15)" marker-mid="url(#k15)" marker-end="url(#k15)" d="M598.4 332.3 577.5 272.8 569.7 380.9 584.6 267.7 562.9 302.1 603.2 291.0 569.6 262.4 565.9 292.2 594.4 276.3 578.1 269.0 549.7 320.0 575.4 288.0 585.4 324.4 536.2 329.6 591.5 359.3 607.6 237.3 583.0 343.5"/><path stroke="none" marker-start="url(#k16)" marker-mid="url(#k16)" marker-end="url(#k16)" d="M572.5 291.9 595.3 313.5 597.1 314.1 553.4 348.2 568.4 322.2 581.3 268.9 580.6 306.5 571.7 335.0 614.7 301.1 547.3 316.5 598.9 287.0 589.8 293.7 553.9 312.1 611.2 295.7 476.7 356.8 545.4 337.5 561.1 274.7 578.0 316.7 553.8 286.1 584.5 258.2 592.0 258.3 555.7 290.0 593.5 263.2 574.7 267.1 560.6 267.5 579.2 342.3 576.2 334.6 590.9 287.6 545.8 333.1 542.5 312.4 596.8 260.6 554.1 292.3 587.8 310.7 587.1 268.7 593.6 254.5 551.3 292.1 578.6 275.6 568.7 293.2 599.4 314.7 612.6 294.9 570.7 314.9 561.0 345.8 623.8 273.7 580.0 270.0 573.8 336.5 586.1 310.9 568.6 291.7 576.3 307.2 544.1 321.3 545.5 320.8 562.0 326.9 615.9 280.9 556.7 351.7 574.5 299.2 593.7 308.1 583.5 273.0 515.7 363.4 600.6 322.2 562.2 336.4 570.0 300.4 589.6 251.9 595.4 311.5 561.3 282.7 487.0 365.2 566.4 280.7 605.1 300.4 550.2 271.0 566.1 269.9 579.2 281.7"/><path stroke="none" marker-start="url(#k17)" marker-mid="url(#k17)" marker-end="url(#k17)" d="M572.5 326.4 568.0 286.9 598.8 289.6 585.2 322.0 601.4 279.9 575.6 320.4 563.5 283.2 579.8 342.3 566.9 307.7 592.2 245.4 580.3 277.0 595.4 298.3 555.7 273.7 574.9 271.7 604.7 268.8 557.0 320.3 575.3 340.4 542.5 320.6 546.1 304.1 601.7 278.1 569.6 255.6 564.8 329.6 591.0 272.9 601.6 320.7 581.7 275.7 568.4 317.0 488.0 289.1 567.0 264.6 546.4 337.8 587.2 301.0 452.5 383.1 528.1 330.7 611.3 276.7 580.4 357.3 544.5 367.5 600.2 290.0 582.6 281.9"/><path stroke="none" marker-start="url(#k18)" marker-mid="url(#k18)" marker-end="url(#k18)" d="M588.1 330.9 555.7 340.4 543.0 322.1 539.1 366.6 590.2 275.8 564.4 340.1 534.3 338.2 566.0 311.9 545.1 292.2 547.9 360.3 568.3 270.5 603.2 284.4 553.1 338.0 571.2 338.4 465.0 354.8 562.7 246.1 475.6 368.5 557.9 288.2 574.6 330.0 553.8 341.7 533.9 377.3 587.3 307.6 581.9 288.0 584.6 334.5 537.2 330.7 615.4 343.0"/><path stroke="none" marker-start="url(#k19)" marker-mid="url(#k19)" marker-end="url(#k19)" d="M578.6 267.0 542.1 344.1 586.0 340.5 570.7 308.8 576.9 286.6 570.2 347.1 563.2 352.0 618.7 274.9 589.6 348.7 526.6 325.4 534.8 361.5 600.2 311.1 530.9 324.0 570.7 292.4 559.0 351.9 572.6 297.2 556.3 348.8 524.6 338.6 539.5 304.3 543.9 342.8 565.1 333.9 558.3 389.0 559.2 369.7 639.6 309.1 584.7 303.0 575.5 340.3 531.8 367.6 570.0 321.5 600.1 336.0 612.1 285.8 593.4 271.6 587.4 259.7 556.2 357.9 539.3 306.7 535.4 348.9 553.8 358.2 567.6 348.8 557.6 324.1 533.7 259.2 562.5 336.1 533.9 371.7 489.9 393.6 550.6 338.8 559.5 349.5"/><path stroke="none" marker-start="url(#k20)" marker-mid="url(#k20)" marker-end="url(#k20)" d="M577.6 254.9 605.0 285.8 531.9 297.1 536.9 306.7 551.4 336.1 597.6 299.8 590.8 325.9 530.6 356.4 579.0 299.4 566.4 323.8 600.7 288.7 537.8 332.4 582.5 306.8 580.3 289.3 572.5 269.6 587.5 361.3 538.6 383.3 533.6 359.8 540.1 297.7 539.9 267.1 511.4 379.9 608.2 255.1 521.1 263.8 600.0 291.5 562.4 333.1 541.1 299.1 629.6 283.8 533.2 294.7 587.9 265.9 628.3 280.0 485.2 381.1 596.5 270.6 578.1 305.2 569.7 336.5 537.1 340.7 600.4 315.3 573.1 336.9 562.8 344.6 542.1 351.3 542.5 331.9 539.7 345.4 540.3 283.5 562.5 351.1 544.4 360.3 576.8 309.3 570.0 307.1 546.3 355.5 578.6 319.7 653.5 258.4 555.4 372.8 588.2 312.0"/><path stroke="none" marker-start="url(#k21)" marker-mid="url(#k21)" marker-end="url(#k21)" d="M538.0 294.3 535.7 256.1 529.7 330.5 534.7 382.2 568.6 360.3 543.0 286.8 558.0 341.7 532.9 332.1 582.5 312.5 569.6 276.4 616.4 277.7 538.4 337.4 531.3 287.4 531.7 256.5 593.8 295.0 560.9 353.6 533.9 354.5 566.6 348.7 537.4 320.1 538.6 314.8 601.0 264.5 612.1 277.9 620.7 239.5 612.6 303.5 538.6 311.9 538.8 369.4 535.6 338.9 541.6 307.2 571.7 314.6 572.5 337.3 571.8 354.5 542.0 357.7 572.0 266.8 570.1 347.9 598.5 287.2 580.8 277.9 533.6 338.6 537.3 363.6 574.7 336.6 532.3 353.8 578.1 278.2 538.7 302.6 611.1 320.6 532.3 339.7 533.0 278.6 599.1 268.6 537.0 285.5 569.2 273.7 534.8 307.9 553.6 348.9 545.6 339.5"/><path stroke="none" marker-start="url(#k22)" marker-mid="url(#k22)" marker-end="url(#k22)" d="M575.2 286.9 608.9 287.3 539.2 330.8 590.2 295.4 551.1 261.4 585.4 245.2 568.9 285.8 595.2 266.0 590.9 281.4 536.7 251.6 556.5 327.4 577.8 305.9 575.7 298.9 549.9 341.1 544.9 310.3 606.1 318.9 603.1 257.4 555.2 342.7 560.7 313.2 589.1 289.8 604.1 285.5 535.6 331.1 579.7 307.6 573.9 350.5 602.4 294.0 536.0 303.0 583.9 267.6 536.8 264.7 535.3 342.0 548.6 285.2 575.0 332.5 585.8 284.7 609.9 265.8 564.9 310.4 532.9 317.5 536.0 321.6 569.4 337.8 590.3 297.1 579.0 265.4 647.9 273.4 591.4 270.7 570.6 302.3 581.0 291.2 630.6 283.9 546.4 323.3 622.1 270.4"/><path stroke="none" marker-start="url(#k23)" marker-mid="url(#k23)" marker-end="url(#k23)" d="M566.0 295.0 577.3 330.2 580.2 265.5 586.4 312.1 538.3 273.3 584.1 298.2 568.5 346.6 540.1 258.3 656.6 258.0 592.9 290.9 594.3 272.0 611.4 261.7 588.5 258.3 593.6 260.0 655.6 288.8 626.4 318.2 560.2 358.8 587.8 292.5 614.6 236.7 570.1 356.5 604.2 312.2 579.4 305.3 608.7 267.3 592.1 282.8 604.4 296.8 561.7 272.0 594.6 270.3 628.5 299.9 593.1 280.0 555.3 316.0 615.8 300.0 554.5 325.6 552.2 291.3 600.7 339.0 589.1 266.1 536.4 291.1 631.4 297.7 587.2 258.8 564.1 308.8 580.8 307.3 542.2 310.7 578.9 304.2 564.0 316.6 581.8 357.7"/><path stroke="none" marker-start="url(#k0)" marker-mid="url(#k0)" marker-end="url(#k0)" d="M442.0 336.9 473.6 344.5 457.1 352.4 501.5 313.3 471.5 337.2 497.2 357.8 481.3 328.4 489.3 333.6 506.2 337.7 541.4 339.5 502.0 303.3 484.7 355.4 466.6 307.2 484.0 317.8 540.9 309.0 487.0 319.4 472.0 286.9 482.1 343.2 477.9 335.6 454.4 337.0 477.8 334.6 493.6 315.0 477.6 338.5 487.5 310.1 484.6 330.0 449.8 333.5 490.4 304.5 487.1 331.2 497.8 347.1 465.0 343.9 524.7 287.8 450.0 352.6 478.7 331.6 471.9 329.9 492.7 318.3 484.0 317.8 506.7 326.9 540.3 329.6 458.9 313.8 475.1 333.8 484.4 328.9 487.5 337.1 474.5 318.6 485.5 317.9 540.4 338.9 493.0 339.7 496.6 341.5 505.8 362.7 456.4 320.4 492.2 303.2 493.6 329.3 471.5 340.4 475.1 325.2 495.5 335.9 494.0 323.7 482.7 302.8 479.3 321.7 489.9 328.9 453.1 322.6 488.0 320.8 507.9 336.2"/><path stroke="none" marker-start="url(#k1)" marker-mid="url(#k1)" marker-end="url(#k1)" d="M518.2 324.5 459.5 345.4 475.4 318.3 487.4 346.3 479.2 357.1 445.7 346.2 468.2 324.9 585.5 353.0 469.9 326.2 441.6 337.4 488.6 314.4 467.2 335.3 534.4 340.9 461.2 344.8 480.2 327.0 472.5 347.2 493.9 320.3 473.2 335.4 464.2 326.2 487.9 305.3 477.3 309.1 472.4 360.5 473.0 341.9 495.5 296.4 484.7 325.1 492.9 324.2 472.7 350.2 454.3 326.9 498.5 309.1 463.1 329.1 506.4 292.8 467.4 337.4 490.4 306.9 481.5 333.2 456.6 309.9 498.5 312.4 471.9 329.2 457.7 338.9 441.4 310.9 463.1 329.5 581.0 314.8"/><path stroke="none" marker-start="url(#k2)" marker-mid="url(#k2)" marker-end="url(#k2)" d="M556.2 323.6 568.4 352.5 504.2 326.9 494.3 332.9 568.0 318.9 546.2 326.3 564.0 322.0 486.4 330.3 577.6 311.2 495.2 339.8 561.4 344.2 554.3 284.5 473.9 327.5 464.0 338.2"/><path stroke="none" marker-start="url(#k3)" marker-mid="url(#k3)" marker-end="url(#k3)" d="M584.2 352.6 486.1 313.7 453.8 357.4 429.9 351.6 566.7 338.5 466.9 320.4 486.4 291.6"/><path stroke="none" marker-start="url(#k4)" marker-mid="url(#k4)" marker-end="url(#k4)" d="M497.6 323.1 503.7 337.6 455.0 311.4 584.9 349.3 575.7 327.7 540.5 335.5 546.7 321.8 487.3 339.5 559.7 320.7"/><path stroke="none" marker-start="url(#k5)" marker-mid="url(#k5)" marker-end="url(#k5)" d="M503.7 310.9 481.7 334.8 548.3 352.2 470.7 312.0 501.1 283.6 481.6 328.7 555.3 327.6"/><path stroke="none" marker-start="url(#k6)" marker-mid="url(#k6)" marker-end="url(#k6)" d="M568.7 307.3 509.9 284.8 475.8 274.7 484.8 333.4 533.6 316.7 596.6 256.1 492.1 299.4 469.4 293.3"/><path stroke="none" marker-start="url(#k7)" marker-mid="url(#k7)" marker-end="url(#k7)" d="M608.6 288.8 462.6 314.2 492.7 293.6 501.4 278.5 468.5 300.8 601.4 280.0 605.0 271.2 520.9 316.4 564.3 339.1 467.1 340.2 468.5 321.8 588.7 328.0 492.5 323.8 488.1 327.8 487.8 273.2 588.9 313.5 487.3 291.6"/><path stroke="none" marker-start="url(#k8)" marker-mid="url(#k8)" marker-end="url(#k8)" d="M490.8 313.0 521.6 307.5 454.2 326.8 508.5 324.0 487.0 329.5 540.2 309.9 497.4 330.0 480.4 301.3 530.8 281.4 551.4 328.1 558.4 333.8 493.1 290.2"/><path stroke="none" marker-start="url(#k9)" marker-mid="url(#k9)" marker-end="url(#k9)" d="M503.4 307.5 576.8 289.1 556.5 289.7 496.1 323.0 493.1 286.4 602.8 270.8 499.8 296.4 519.3 310.8 564.6 341.1 486.9 305.1 476.1 293.7 612.8 282.8 478.9 293.8"/><path stroke="none" marker-start="url(#k10)" marker-mid="url(#k10)" marker-end="url(#k10)" d="M528.3 296.9 533.6 329.6 601.7 294.7 572.8 247.0 580.3 303.5 580.5 289.8 614.6 321.8 632.7 334.3 579.9 299.2 489.7 299.2 459.1 300.0 491.5 293.5 627.8 280.0 460.8 275.6 489.9 296.6"/><path stroke="none" marker-start="url(#k11)" marker-mid="url(#k11)" marker-end="url(#k11)" d="M574.1 287.2 502.2 268.4 573.7 308.3 494.5 311.5 621.2 271.2 532.2 294.7 569.2 283.1 552.3 338.7 565.8 324.8 566.9 269.4 481.0 302.1 609.7 307.3 498.0 283.4 591.1 284.3 486.7 284.6 471.5 296.7"/><path stroke="none" marker-start="url(#k12)" marker-mid="url(#k12)" marker-end="url(#k12)" d="M548.9 351.8 597.0 310.4 483.3 297.0 573.1 338.0 500.0 314.7 520.8 296.1 579.8 270.2 556.6 260.9 514.7 295.7 502.0 298.2"/><path stroke="none" marker-start="url(#k13)" marker-mid="url(#k13)" marker-end="url(#k13)" d="M605.0 263.3 598.7 291.2 556.9 292.5 615.1 306.9 592.4 293.1"/><path stroke="none" marker-start="url(#k14)" marker-mid="url(#k14)" marker-end="url(#k14)" d="M506.2 310.9 474.2 296.3 532.8 273.0 497.1 293.9 567.3 314.5 560.3 320.2"/><path stroke="none" marker-start="url(#k15)" marker-mid="url(#k15)" marker-end="url(#k15)" d="M616.6 295.2 461.4 387.1 585.2 269.0 556.0 278.0 600.4 304.8 582.5 263.6 564.6 343.6 559.3 278.6 538.5 337.4 556.5 271.8 477.3 369.8 589.5 269.6 585.2 280.5 582.1 241.6 587.6 278.5 573.3 310.5 607.8 289.5 588.4 263.3 583.5 293.8"/><path stroke="none" marker-start="url(#k16)" marker-mid="url(#k16)" marker-end="url(#k16)" d="M589.2 278.4 608.0 260.4 594.6 319.7 579.1 292.5 582.0 277.8 580.4 327.2 572.1 282.9 601.4 273.5 560.2 274.9 627.9 278.6 474.0 287.4 532.9 289.5 604.7 304.6 584.3 330.4 573.5 303.5 575.0 302.6 566.0 268.4 599.3 271.9 577.0 282.0 562.6 338.5 472.9 294.4 588.3 304.0 622.2 269.1 540.4 303.5 616.6 288.4 566.6 309.1 583.7 287.6 574.3 345.1 555.5 338.1 536.7 325.9 582.9 262.1 544.5 377.3 588.0 297.5 584.4 285.1 596.4 269.9 618.8 252.1 593.7 279.7 614.1 305.1 597.6 293.0 614.0 250.1 532.9 332.9 579.0 272.9 566.1 274.8 599.8 293.9 532.8 369.9 548.5 330.5 574.1 311.4 638.3 263.1 624.1 263.2 594.8 272.6 567.3 281.0 600.9 285.2 561.9 318.5"/><path stroke="none" marker-start="url(#k17)" marker-mid="url(#k17)" marker-end="url(#k17)" d="M601.5 319.2 582.4 328.8 600.6 354.3 543.1 320.0 560.9 291.5 603.2 294.2 565.5 325.1 599.1 374.0 579.5 282.7 536.5 365.7 558.7 279.9 570.1 332.1 582.7 357.2 596.2 309.0 545.6 308.1 605.2 294.1 576.6 277.7 600.7 287.3 599.6 279.2 559.0 347.3 582.5 260.3 543.8 335.9 484.9 372.8 577.2 309.5 552.9 315.7 628.8 279.2 553.0 301.1 544.8 304.8 585.3 320.2 605.8 247.1 604.8 318.5 571.0 361.3 579.4 314.6 553.0 305.0 574.3 311.0 598.0 281.7 564.4 331.5 546.9 351.9 553.5 326.0 598.6 278.1 584.3 287.6 582.6 293.9 550.7 297.1 587.3 273.1 542.1 334.5 569.1 289.5 555.5 335.1 562.2 354.1 588.7 284.7 460.3 346.5 556.2 333.1"/><path stroke="none" marker-start="url(#k18)" marker-mid="url(#k18)" marker-end="url(#k18)" d="M582.7 255.0 539.4 281.8 581.3 337.3 538.6 286.3 512.4 257.1 537.1 342.7 632.0 339.4 530.4 259.9 593.6 329.7 540.6 352.9 563.6 339.1 572.6 289.2 562.8 332.6 538.6 270.3 555.4 332.3 551.0 349.3 605.5 318.0 561.9 341.5 600.9 263.1 587.0 362.9 532.9 295.1 587.6 309.0 539.6 303.2 525.9 350.5 518.3 354.4 583.9 270.6 477.7 361.9 534.3 259.3 517.1 313.2 560.2 350.6 548.9 332.7"/><path stroke="none" marker-start="url(#k19)" marker-mid="url(#k19)" marker-end="url(#k19)" d="M591.5 264.1 537.2 350.5 544.5 337.7 563.7 314.9 631.1 308.3 539.7 296.7 569.0 355.0 574.6 339.8 539.7 313.1 537.0 250.2 500.4 351.2 536.9 279.7 583.6 292.9 562.0 330.2 593.8 288.2 461.9 369.0 555.8 318.1 537.2 301.9 595.3 336.4 538.5 378.9 565.4 250.5 541.4 303.1 599.1 281.1 561.0 324.7 594.5 317.4 559.6 354.6 562.8 313.7 552.4 332.3 534.0 339.2 545.4 362.8 574.3 343.8 590.5 276.6 532.5 330.2 614.9 273.1 533.8 314.8 557.6 348.8 548.4 339.1 534.9 317.7 577.9 295.8 580.2 295.7 539.4 347.4 571.1 291.2 578.9 326.1 563.8 315.0"/><path stroke="none" marker-start="url(#k20)" marker-mid="url(#k20)" marker-end="url(#k20)" d="M555.8 318.0 536.3 299.8 581.7 291.4 594.8 309.3 531.5 362.5 530.8 297.9 642.8 316.8 578.8 351.3 530.0 316.0 578.5 357.9 656.3 331.5 543.0 382.6 531.3 341.4 567.9 252.6 537.9 310.4 569.1 354.4 536.9 308.8 541.8 337.0 554.3 340.2 577.1 269.6 592.5 286.2 545.6 334.1 571.5 259.8 531.4 309.6 614.4 285.5 539.7 273.6 563.7 341.0 574.2 246.8 538.0 296.6 528.9 316.6 550.3 256.9 528.6 292.2 539.1 303.7 587.5 300.6 508.8 388.1 587.1 295.7 530.6 347.3 584.3 259.1 562.3 330.8 581.3 307.4 546.0 336.9 574.0 267.5 545.9 334.0 558.1 336.5 578.3 306.2 538.7 376.3 614.2 290.0 558.9 333.3 567.4 364.2 556.7 345.1 607.8 301.2 484.0 331.6 618.5 368.4 537.7 366.0 542.5 342.2 537.4 352.7 572.2 303.0 568.9 362.3 618.2 280.2"/><path stroke="none" marker-start="url(#k21)" marker-mid="url(#k21)" marker-end="url(#k21)" d="M581.3 317.7 541.0 358.8 532.3 337.4 556.5 310.1 645.9 260.9 548.4 323.6 596.8 331.8 545.7 303.8 541.3 301.4 539.0 306.0 602.7 259.3 537.1 278.7 544.6 330.7 619.0 279.5 536.4 343.4 571.2 333.4 534.4 263.2 561.9 340.6 635.9 298.7 624.6 315.3 609.2 264.6 561.8 349.6 537.1 273.3 566.4 349.4 535.7 263.4 608.2 255.0 630.6 295.1 538.1 274.1 537.8 339.4 536.4 273.1 622.0 308.6 589.5 329.0 545.5 340.6 539.4 375.3 537.4 279.4 576.3 350.2 594.9 299.0 537.2 328.5 530.9 273.3 634.1 275.2 535.7 355.0 532.8 368.6 537.3 314.1"/><path stroke="none" marker-start="url(#k22)" marker-mid="url(#k22)" marker-end="url(#k22)" d="M572.2 274.3 563.8 298.9 592.2 256.8 558.7 358.6 613.2 247.8 616.6 279.0 621.0 274.2 571.0 331.1 587.4 275.6 574.0 271.1 550.9 296.7 563.8 290.4 579.5 286.4 578.2 336.5 577.1 304.4 556.2 336.9 583.4 276.4 572.0 274.1 540.3 359.8 544.7 295.0 572.7 306.1 545.6 273.8 581.2 305.0 588.9 321.9 629.3 322.2 615.1 307.9 535.8 303.9 572.1 307.6 579.5 327.0 580.8 300.7 649.7 301.1 610.0 270.3 582.9 283.7 590.2 268.4 542.9 317.2 593.3 292.5 614.1 304.1 538.9 282.9 622.3 280.8 587.0 321.7 583.4 326.2 539.2 361.4 583.5 302.5 589.4 268.1 582.4 296.2 609.6 262.7 535.8 379.3 592.3 276.0 608.7 301.6 535.0 340.1 547.2 279.2 625.7 303.8 536.1 252.5 534.5 260.6 598.8 325.9 511.4 392.0 626.0 301.8 653.7 213.0 636.6 312.9 564.7 324.6 601.0 292.4"/><path stroke="none" marker-start="url(#k23)" marker-mid="url(#k23)" marker-end="url(#k23)" d="M593.1 265.3 629.9 297.2 654.9 309.8 599.6 265.2 564.8 338.0 616.9 339.0 589.6 273.3 592.8 294.4 597.5 310.9 582.9 252.5 602.9 323.8 576.5 260.6 587.6 264.7 544.8 265.2 567.6 289.4 633.1 308.2 583.3 257.6 556.9 339.7 620.6 285.8 591.9 280.1 544.6 304.4 550.1 328.3 575.7 346.2 551.5 272.4 615.8 301.8 610.5 255.2 564.2 331.2 570.9 273.1 583.9 283.8 617.7 319.4 601.1 262.2 610.1 315.5 589.7 267.5 570.9 300.0 590.8 291.3 561.3 350.6 616.1 283.4 550.2 324.6 581.7 275.7"/><path stroke="none" marker-start="url(#k0)" marker-mid="url(#k0)" marker-end="url(#k0)" d="M495.0 300.5 543.3 307.5 458.2 333.0 476.9 326.4 479.3 325.8 459.5 324.5 493.0 354.2 471.7 356.7 455.8 331.3 486.0 325.7 446.7 342.2 504.7 325.2 491.7 308.4 481.8 343.8 474.5 331.3 461.9 325.8 480.9 309.4 483.1 317.2 488.4 320.0 490.7 344.5 499.1 340.7 489.4 319.6 477.4 319.7 478.9 305.0 461.8 302.1 468.5 364.2 459.8 341.6 469.0 339.8 569.9 324.0 489.1 340.6 447.7 348.7 456.4 328.0 471.2 333.7 482.3 341.2 478.7 341.3 519.4 326.5 445.9 344.9 481.8 336.8 561.5 344.0 449.2 328.7 512.3 336.5 465.9 340.1 467.2 346.8 447.4 349.2 465.7 352.4 440.4 322.9 444.4 320.7 487.9 324.2 438.7 335.6 398.8 344.3 487.0 336.8 481.6 315.3 476.2 316.4 462.3 321.0 452.5 321.7 484.4 332.3 452.8 334.9 507.0 303.3 464.9 319.7 462.4 354.2 469.3 334.9 497.7 303.2 453.3 335.0 458.5 345.4"/><path stroke="none" marker-start="url(#k1)" marker-mid="url(#k1)" marker-end="url(#k1)" d="M549.9 313.6 465.8 360.2 465.4 324.9 481.2 306.1 465.0 331.4 494.8 303.6 468.2 342.2 448.5 341.7 571.8 338.5 487.5 327.8 556.1 322.4 492.5 320.3 511.3 333.6 491.4 356.4 509.3 328.7 525.3 289.1 489.8 285.8 517.6 310.4 475.7 291.8 545.0 306.1 459.6 342.1 467.8 355.0 495.4 302.8 476.6 327.1 462.1 321.2 505.2 333.7 451.8 359.0 487.1 357.2 476.6 316.2 422.6 324.2 477.4 325.9 436.6 361.7 487.7 324.0 499.3 335.4 478.8 326.1 557.9 306.3 472.6 349.4 499.4 329.3 452.9 334.2 461.0 324.4 459.4 324.7 556.3 357.5 485.8 329.9 474.7 339.6"/><path stroke="none" marker-start="url(#k2)" marker-mid="url(#k2)" marker-end="url(#k2)" d="M546.4 320.5 581.0 336.3 516.0 322.5 478.5 295.0 581.6 345.3 465.5 340.2 511.5 341.9 574.3 335.3 473.0 338.6 428.9 310.0 530.8 312.9"/><path stroke="none" marker-start="url(#k3)" marker-mid="url(#k3)" marker-end="url(#k3)" d="M575.4 375.5 497.7 331.1 532.0 337.3 452.0 305.1 479.2 342.3 564.7 326.4 485.3 336.0 498.8 319.3"/><path stroke="none" marker-start="url(#k4)" marker-mid="url(#k4)" marker-end="url(#k4)" d="M442.2 339.9 511.6 314.9 577.3 294.3 485.0 306.4 560.7 336.0 536.3 343.1 579.4 307.3 553.6 310.1 482.4 343.5 566.7 330.5 451.5 325.9 466.5 320.4"/><path stroke="none" marker-start="url(#k5)" marker-mid="url(#k5)" marker-end="url(#k5)" d="M582.5 331.9 448.1 329.8 463.3 333.6 568.3 305.7 537.1 340.8 553.8 309.3 563.6 333.3 490.9 333.8 535.6 345.5"/><path stroke="none" marker-start="url(#k6)" marker-mid="url(#k6)" marker-end="url(#k6)" d="M530.5 330.7 506.5 293.4 625.9 263.8 573.5 277.9 449.7 327.5 578.2 261.0 595.7 286.1 487.5 322.2 477.9 344.8 576.3 336.1"/><path stroke="none" marker-start="url(#k7)" marker-mid="url(#k7)" marker-end="url(#k7)" d="M519.1 302.0 458.0 333.6 511.9 301.7 513.8 309.0 568.8 340.6 468.3 335.5 511.7 287.3 440.7 353.9 514.3 292.0 477.9 330.9 514.8 301.5 502.2 313.7 584.1 296.5 449.9 347.3 502.9 302.7 569.1 281.1 577.3 308.9 463.5 298.5"/><path stroke="none" marker-start="url(#k8)" marker-mid="url(#k8)" marker-end="url(#k8)" d="M479.4 332.3 519.9 286.2 458.1 321.2 453.7 295.9 563.4 325.5 604.9 287.1 467.2 326.8 457.7 323.4 453.8 293.2 525.4 304.9 515.7 345.0 440.2 331.5 554.5 352.9"/><path stroke="none" marker-start="url(#k9)" marker-mid="url(#k9)" marker-end="url(#k9)" d="M589.1 326.6 566.4 245.6 481.9 287.3 472.1 273.9 557.3 320.3 461.5 341.8 469.7 303.7 504.2 299.1 498.4 312.4 569.0 277.9 496.2 308.8 463.3 355.4 487.5 291.0 521.3 359.8 514.1 299.2 463.3 339.3"/><path stroke="none" marker-start="url(#k10)" marker-mid="url(#k10)" marker-end="url(#k10)" d="M605.0 281.8 466.0 286.6 489.0 303.5 586.7 313.4 558.8 271.5 574.5 344.7 511.7 295.5 594.4 275.8 560.5 325.3 527.5 265.6 602.6 316.8 553.5 335.6 596.0 275.9"/><path stroke="none" marker-start="url(#k11)" marker-mid="url(#k11)" marker-end="url(#k11)" d="M503.5 299.3 583.5 296.9 571.0 278.9 483.9 294.2 537.5 279.5 563.4 345.8 491.5 341.7 580.1 279.7 579.1 290.3 602.7 340.5 510.4 281.3 572.8 317.1 584.8 294.5 589.4 277.9 602.1 297.7"/><path stroke="none" marker-start="url(#k12)" marker-mid="url(#k12)" marker-end="url(#k12)" d="M591.7 276.6 582.5 284.3 471.1 302.2 563.8 293.0 555.1 329.4 601.2 250.5 582.1 311.0 573.0 294.9 616.7 293.0 545.6 328.4 591.1 334.2 560.9 322.9 631.0 333.2 511.8 340.2 597.6 268.9 567.5 307.5"/><path stroke="none" marker-start="url(#k13)" marker-mid="url(#k13)" marker-end="url(#k13)" d="M581.3 325.3 581.1 316.5 499.2 306.8 469.2 298.9 570.2 271.6 547.1 283.2"/><path stroke="none" marker-start="url(#k14)" marker-mid="url(#k14)" marker-end="url(#k14)" d="M582.1 273.6 656.4 404.9 579.3 328.4 546.3 326.0"/><path stroke="none" marker-start="url(#k15)" marker-mid="url(#k15)" marker-end="url(#k15)" d="M563.3 311.5 585.5 279.6 626.9 289.9 532.9 385.5 570.7 292.9 612.4 268.4 588.9 268.2 562.8 328.6 569.7 304.3 538.6 279.1 571.5 256.2 571.0 319.0 582.6 293.4 652.9 355.0 560.4 309.1 592.2 278.1 618.6 275.6 580.3 295.9 475.0 371.2 582.9 282.5"/><path stroke="none" marker-start="url(#k16)" marker-mid="url(#k16)" marker-end="url(#k16)" d="M608.6 300.5 582.2 325.5 577.4 278.5 567.1 361.7 606.4 311.2 592.3 282.5 578.6 263.8 569.3 357.7 591.9 309.0 597.1 326.5 586.2 295.9 574.3 286.9 552.6 281.9 620.1 297.0 570.3 308.8 532.0 349.4 533.4 259.3 575.7 300.1 592.9 291.5 532.2 284.8 569.4 296.3 595.5 287.2 610.4 248.1 578.3 269.0 572.3 345.2 591.9 279.5 512.9 309.7 618.0 258.9 597.1 270.4 518.6 366.0 581.8 257.0 585.8 283.3 604.0 328.0 591.0 309.3 596.1 288.0 601.1 270.6 556.2 266.7 542.6 307.2 557.4 281.7 610.6 284.7 570.3 262.4 575.2 296.4 562.8 259.8 588.2 294.6 582.9 322.5 587.9 284.0"/><path stroke="none" marker-start="url(#k17)" marker-mid="url(#k17)" marker-end="url(#k17)" d="M547.3 324.5 624.1 279.2 578.4 291.6 584.6 277.5 561.9 265.1 572.2 315.1 642.3 341.5 606.3 277.6 574.0 274.9 559.4 331.8 562.6 316.9 581.1 262.4 555.2 326.0 589.0 266.4 558.0 359.1 566.7 293.2 565.1 289.1 537.5 309.1 553.5 257.3 514.9 271.8 522.3 340.2 592.0 287.6 460.1 357.6 597.6 339.4 555.8 347.9 599.9 279.0 589.5 305.0 528.7 335.9 534.7 295.3 578.5 298.9 554.3 290.6 575.1 286.3 607.1 279.7 567.6 332.8 565.1 272.0 637.6 336.4 574.5 313.7 574.4 364.9 577.2 342.6 570.5 317.8 594.7 278.7 586.0 260.3 577.8 341.9 509.8 385.5 595.9 272.6 562.5 278.5 580.4 304.7 565.9 276.8 630.8 278.6 582.8 281.2"/><path stroke="none" marker-start="url(#k18)" marker-mid="url(#k18)" marker-end="url(#k18)" d="M598.5 273.7 532.2 271.1 561.3 312.1 547.5 283.5 567.5 284.9 576.9 320.2 532.9 301.3 563.4 335.1 483.7 341.8 565.6 281.6 463.5 343.3 541.9 334.9 535.5 265.7 586.9 347.0 536.5 372.6 601.6 296.3 568.3 337.4 544.5 317.5 509.6 379.5 554.7 341.8 532.1 298.2 615.5 403.0 537.5 298.1 549.8 360.5 588.4 311.6 549.1 356.3 535.4 374.3 536.6 265.0 612.0 298.1 539.7 296.9"/><path stroke="none" marker-start="url(#k19)" marker-mid="url(#k19)" marker-end="url(#k19)" d="M529.1 343.6 559.3 270.2 532.9 268.4 583.7 283.4 561.7 327.1 546.3 301.4 562.1 331.9 558.0 335.4 535.7 309.5 556.1 346.5 606.2 281.0 549.7 350.6 556.6 351.0 602.4 285.4 541.4 343.9 558.0 325.4 550.5 355.7 558.1 323.5 561.1 313.6 536.4 373.4 536.3 316.0 569.3 298.2 599.9 281.3 544.9 335.2 536.3 259.0 552.2 309.4 594.5 269.7 564.1 348.3 590.2 298.0 568.4 288.2 610.5 374.3 519.1 393.0 593.5 282.2 552.4 344.3 579.0 320.8 599.7 300.3 566.0 318.3 568.6 291.2 597.8 267.5 571.8 312.9"/><path stroke="none" marker-start="url(#k20)" marker-mid="url(#k20)" marker-end="url(#k20)" d="M570.7 323.5 561.6 258.2 574.0 305.4 541.2 283.9 587.9 276.9 537.6 273.9 565.5 320.2 554.8 358.5 539.5 283.9 533.3 374.7 564.5 330.4 609.9 275.5 541.6 296.2 536.0 326.5 594.1 290.2 632.5 294.4 584.6 295.6 579.7 338.4 537.7 325.6 633.3 366.6 569.5 327.4 542.7 362.9 576.6 317.3 536.1 357.1 589.0 379.1 561.4 330.8 530.9 355.1 541.4 306.6 542.3 290.1 577.1 333.1 554.6 332.0 563.1 359.2 570.0 284.4 536.5 374.2 526.3 352.1 539.3 331.9 571.8 399.8 573.4 328.6 540.2 268.5 534.5 347.6 550.8 333.4 551.6 300.1 596.7 282.5 581.5 295.8 531.2 262.9 584.6 309.4 535.8 313.0 536.6 293.1 528.6 366.9 589.6 295.4 603.6 325.2 572.4 336.4 492.3 348.2 568.2 335.1 535.8 268.9 536.7 264.5 539.9 257.8 597.5 254.2 556.2 351.8 567.3 327.8"/><path stroke="none" marker-start="url(#k21)" marker-mid="url(#k21)" marker-end="url(#k21)" d="M593.0 259.6 540.6 318.3 605.2 280.8 539.8 365.6 574.7 296.5 573.0 316.7 547.4 324.1 533.2 305.6 532.9 292.3 578.1 352.2 600.1 283.7 596.9 302.4 642.8 343.8 629.9 277.6 548.4 338.1 538.9 372.2 531.4 323.1 542.9 343.8 531.0 331.1 591.9 300.0 535.5 313.3 534.0 362.4 615.0 256.8 617.4 278.4 563.7 302.4 584.7 289.8 584.8 281.6 586.7 252.3 534.1 331.1 575.4 301.2 537.2 316.2 560.3 321.9 565.0 277.9 492.7 379.7 599.0 279.7 532.5 325.2 561.2 339.0 533.5 379.6 567.9 335.0 583.5 297.2 605.3 351.1 643.1 246.5"/><path stroke="none" marker-start="url(#k22)" marker-mid="url(#k22)" marker-end="url(#k22)" d="M626.0 303.9 603.5 372.0 572.5 269.0 539.9 308.2 533.4 283.7 593.9 336.8 598.0 282.5 582.3 273.6 540.0 301.5 602.5 245.5 539.1 322.4 537.5 294.8 585.0 259.4 597.2 294.8 573.9 288.3 573.7 276.0 589.1 289.7 611.6 263.0 566.3 303.7 631.2 244.6 577.8 348.3 557.0 315.4 602.1 300.0 530.7 301.8 563.0 346.2 592.2 280.6 636.7 285.6 604.8 246.7 532.4 328.3 582.5 315.1 600.6 292.2 534.2 314.4 543.4 348.9 591.2 330.9 608.9 317.4 563.1 338.3 532.7 341.1 607.9 236.6 549.0 278.9 570.8 304.6 588.1 305.4 594.4 269.5"/><path stroke="none" marker-start="url(#k23)" marker-mid="url(#k23)" marker-end="url(#k23)" d="M573.3 287.9 557.7 323.0 636.9 283.2 596.4 264.0 620.6 324.6 580.3 289.4 576.0 350.1 630.2 272.0 623.8 311.3 569.6 309.7 564.7 288.3 558.9 349.6 552.2 312.2 576.6 283.2 534.8 304.1 596.6 299.7 563.0 300.9 531.8 301.5 540.5 286.9 573.1 273.7 566.1 323.7 594.1 266.8 598.2 275.4 552.9 337.7 604.4 273.3 582.4 284.0 637.3 336.9 588.2 243.3 626.4 277.0 579.5 277.6 540.7 369.7 586.7 269.8 500.2 358.5 571.4 319.2 633.4 290.6 577.5 279.0 605.8 301.4 593.2 391.8 569.1 317.2 569.0 260.6 599.3 323.2 603.2 313.9 602.8 268.4 613.4 327.3 596.4 284.0 607.7 297.7 554.6 293.9 581.1 310.9 650.7 335.6 587.7 315.2 630.7 296.2"/>
</g>
<rect x="42.50" y="0.90" width="310.80" height="178.80" fill="none" stroke="#808080" stroke-width="0.9"/>
<line x1="40.70" y1="30.50" x2="43.00" y2="30.50" stroke="#444" stroke-width="1"/>
<text x="37.0" y="34.6" font-size="11.5" text-anchor="end" >3.0</text>
<line x1="40.70" y1="67.75" x2="43.00" y2="67.75" stroke="#444" stroke-width="1"/>
<text x="37.0" y="71.8" font-size="11.5" text-anchor="end" >3.5</text>
<line x1="40.70" y1="105.00" x2="43.00" y2="105.00" stroke="#444" stroke-width="1"/>
<text x="37.0" y="109.1" font-size="11.5" text-anchor="end" >4.0</text>
<line x1="40.70" y1="142.25" x2="43.00" y2="142.25" stroke="#444" stroke-width="1"/>
<text x="37.0" y="146.3" font-size="11.5" text-anchor="end" >4.5</text>
<line x1="40.70" y1="179.50" x2="43.00" y2="179.50" stroke="#444" stroke-width="1"/>
<text x="37.0" y="183.6" font-size="11.5" text-anchor="end" >5.0</text>
<line x1="42.00" y1="8.15" x2="43.70" y2="8.15" stroke="#555" stroke-width="1"/>
<line x1="42.00" y1="15.60" x2="43.70" y2="15.60" stroke="#555" stroke-width="1"/>
<line x1="42.00" y1="23.05" x2="43.70" y2="23.05" stroke="#555" stroke-width="1"/>
<line x1="42.00" y1="37.95" x2="43.70" y2="37.95" stroke="#555" stroke-width="1"/>
<line x1="42.00" y1="45.40" x2="43.70" y2="45.40" stroke="#555" stroke-width="1"/>
<line x1="42.00" y1="52.85" x2="43.70" y2="52.85" stroke="#555" stroke-width="1"/>
<line x1="42.00" y1="60.30" x2="43.70" y2="60.30" stroke="#555" stroke-width="1"/>
<line x1="42.00" y1="75.20" x2="43.70" y2="75.20" stroke="#555" stroke-width="1"/>
<line x1="42.00" y1="82.65" x2="43.70" y2="82.65" stroke="#555" stroke-width="1"/>
<line x1="42.00" y1="90.10" x2="43.70" y2="90.10" stroke="#555" stroke-width="1"/>
<line x1="42.00" y1="97.55" x2="43.70" y2="97.55" stroke="#555" stroke-width="1"/>
<line x1="42.00" y1="112.45" x2="43.70" y2="112.45" stroke="#555" stroke-width="1"/>
<line x1="42.00" y1="119.90" x2="43.70" y2="119.90" stroke="#555" stroke-width="1"/>
<line x1="42.00" y1="127.35" x2="43.70" y2="127.35" stroke="#555" stroke-width="1"/>
<line x1="42.00" y1="134.80" x2="43.70" y2="134.80" stroke="#555" stroke-width="1"/>
<line x1="42.00" y1="149.70" x2="43.70" y2="149.70" stroke="#555" stroke-width="1"/>
<line x1="42.00" y1="157.15" x2="43.70" y2="157.15" stroke="#555" stroke-width="1"/>
<line x1="42.00" y1="164.60" x2="43.70" y2="164.60" stroke="#555" stroke-width="1"/>
<line x1="42.00" y1="172.05" x2="43.70" y2="172.05" stroke="#555" stroke-width="1"/>
<line x1="95.39" y1="179.20" x2="95.39" y2="181.50" stroke="#444" stroke-width="1"/>
<line x1="186.30" y1="179.20" x2="186.30" y2="181.50" stroke="#444" stroke-width="1"/>
<line x1="277.21" y1="179.20" x2="277.21" y2="181.50" stroke="#444" stroke-width="1"/>
<line x1="66.12" y1="180.20" x2="66.12" y2="178.50" stroke="#555" stroke-width="1"/>
<line x1="133.12" y1="180.20" x2="133.12" y2="178.50" stroke="#555" stroke-width="1"/>
<line x1="142.17" y1="180.20" x2="142.17" y2="178.50" stroke="#555" stroke-width="1"/>
<line x1="151.89" y1="180.20" x2="151.89" y2="178.50" stroke="#555" stroke-width="1"/>
<line x1="162.39" y1="180.20" x2="162.39" y2="178.50" stroke="#555" stroke-width="1"/>
<line x1="173.80" y1="180.20" x2="173.80" y2="178.50" stroke="#555" stroke-width="1"/>
<line x1="200.12" y1="180.20" x2="200.12" y2="178.50" stroke="#555" stroke-width="1"/>
<line x1="215.57" y1="180.20" x2="215.57" y2="178.50" stroke="#555" stroke-width="1"/>
<line x1="233.08" y1="180.20" x2="233.08" y2="178.50" stroke="#555" stroke-width="1"/>
<line x1="253.30" y1="180.20" x2="253.30" y2="178.50" stroke="#555" stroke-width="1"/>
<line x1="306.48" y1="180.20" x2="306.48" y2="178.50" stroke="#555" stroke-width="1"/>
<line x1="344.21" y1="180.20" x2="344.21" y2="178.50" stroke="#555" stroke-width="1"/>
<text x="95.9" y="197.1" font-size="11.5" text-anchor="middle" >2<tspan dx="2.5">×</tspan><tspan dx="2.5">10</tspan><tspan font-size="8" dy="-4.5">4</tspan></text>
<text x="186.8" y="197.1" font-size="11.5" text-anchor="middle" >10<tspan font-size="8" dy="-4.5">4</tspan></text>
<text x="277.2" y="195.5" font-size="11.5" text-anchor="middle" >5000</text>
<text x="198.0" y="213.7" font-size="12" text-anchor="middle" >APOGEE T<tspan font-size="8" dy="2.5">eff</tspan><tspan dy="-2.5"> (K)</tspan></text>
<text x="0" y="0" font-size="11.7" text-anchor="middle" transform="translate(11.8 90.3) rotate(-90)">APOGEE log g</text>
<rect x="39.20" y="223.70" width="311.10" height="178.80" fill="none" stroke="#808080" stroke-width="0.9"/>
<line x1="37.40" y1="253.70" x2="39.70" y2="253.70" stroke="#444" stroke-width="1"/>
<text x="33.7" y="257.8" font-size="11.5" text-anchor="end" >3.0</text>
<line x1="37.40" y1="290.90" x2="39.70" y2="290.90" stroke="#444" stroke-width="1"/>
<text x="33.7" y="295.0" font-size="11.5" text-anchor="end" >3.5</text>
<line x1="37.40" y1="328.10" x2="39.70" y2="328.10" stroke="#444" stroke-width="1"/>
<text x="33.7" y="332.2" font-size="11.5" text-anchor="end" >4.0</text>
<line x1="37.40" y1="365.30" x2="39.70" y2="365.30" stroke="#444" stroke-width="1"/>
<text x="33.7" y="369.4" font-size="11.5" text-anchor="end" >4.5</text>
<line x1="37.40" y1="402.50" x2="39.70" y2="402.50" stroke="#444" stroke-width="1"/>
<text x="33.7" y="406.6" font-size="11.5" text-anchor="end" >5.0</text>
<line x1="38.70" y1="231.38" x2="40.40" y2="231.38" stroke="#555" stroke-width="1"/>
<line x1="38.70" y1="238.82" x2="40.40" y2="238.82" stroke="#555" stroke-width="1"/>
<line x1="38.70" y1="246.26" x2="40.40" y2="246.26" stroke="#555" stroke-width="1"/>
<line x1="38.70" y1="261.14" x2="40.40" y2="261.14" stroke="#555" stroke-width="1"/>
<line x1="38.70" y1="268.58" x2="40.40" y2="268.58" stroke="#555" stroke-width="1"/>
<line x1="38.70" y1="276.02" x2="40.40" y2="276.02" stroke="#555" stroke-width="1"/>
<line x1="38.70" y1="283.46" x2="40.40" y2="283.46" stroke="#555" stroke-width="1"/>
<line x1="38.70" y1="298.34" x2="40.40" y2="298.34" stroke="#555" stroke-width="1"/>
<line x1="38.70" y1="305.78" x2="40.40" y2="305.78" stroke="#555" stroke-width="1"/>
<line x1="38.70" y1="313.22" x2="40.40" y2="313.22" stroke="#555" stroke-width="1"/>
<line x1="38.70" y1="320.66" x2="40.40" y2="320.66" stroke="#555" stroke-width="1"/>
<line x1="38.70" y1="335.54" x2="40.40" y2="335.54" stroke="#555" stroke-width="1"/>
<line x1="38.70" y1="342.98" x2="40.40" y2="342.98" stroke="#555" stroke-width="1"/>
<line x1="38.70" y1="350.42" x2="40.40" y2="350.42" stroke="#555" stroke-width="1"/>
<line x1="38.70" y1="357.86" x2="40.40" y2="357.86" stroke="#555" stroke-width="1"/>
<line x1="38.70" y1="372.74" x2="40.40" y2="372.74" stroke="#555" stroke-width="1"/>
<line x1="38.70" y1="380.18" x2="40.40" y2="380.18" stroke="#555" stroke-width="1"/>
<line x1="38.70" y1="387.62" x2="40.40" y2="387.62" stroke="#555" stroke-width="1"/>
<line x1="38.70" y1="395.06" x2="40.40" y2="395.06" stroke="#555" stroke-width="1"/>
<line x1="92.41" y1="402.00" x2="92.41" y2="404.30" stroke="#444" stroke-width="1"/>
<line x1="183.20" y1="402.00" x2="183.20" y2="404.30" stroke="#444" stroke-width="1"/>
<line x1="273.99" y1="402.00" x2="273.99" y2="404.30" stroke="#444" stroke-width="1"/>
<line x1="63.18" y1="403.00" x2="63.18" y2="401.30" stroke="#555" stroke-width="1"/>
<line x1="130.09" y1="403.00" x2="130.09" y2="401.30" stroke="#555" stroke-width="1"/>
<line x1="139.13" y1="403.00" x2="139.13" y2="401.30" stroke="#555" stroke-width="1"/>
<line x1="148.83" y1="403.00" x2="148.83" y2="401.30" stroke="#555" stroke-width="1"/>
<line x1="159.32" y1="403.00" x2="159.32" y2="401.30" stroke="#555" stroke-width="1"/>
<line x1="170.72" y1="403.00" x2="170.72" y2="401.30" stroke="#555" stroke-width="1"/>
<line x1="197.00" y1="403.00" x2="197.00" y2="401.30" stroke="#555" stroke-width="1"/>
<line x1="212.43" y1="403.00" x2="212.43" y2="401.30" stroke="#555" stroke-width="1"/>
<line x1="229.92" y1="403.00" x2="229.92" y2="401.30" stroke="#555" stroke-width="1"/>
<line x1="250.11" y1="403.00" x2="250.11" y2="401.30" stroke="#555" stroke-width="1"/>
<line x1="303.22" y1="403.00" x2="303.22" y2="401.30" stroke="#555" stroke-width="1"/>
<line x1="340.90" y1="403.00" x2="340.90" y2="401.30" stroke="#555" stroke-width="1"/>
<text x="92.9" y="419.9" font-size="11.5" text-anchor="middle" >2<tspan dx="2.5">×</tspan><tspan dx="2.5">10</tspan><tspan font-size="8" dy="-4.5">4</tspan></text>
<text x="183.7" y="419.9" font-size="11.5" text-anchor="middle" >10<tspan font-size="8" dy="-4.5">4</tspan></text>
<text x="274.0" y="418.3" font-size="11.5" text-anchor="middle" >5000</text>
<text x="195.0" y="436.5" font-size="12" text-anchor="middle" letter-spacing="0.35">Gaia T<tspan font-size="8" dy="2.5">eff</tspan><tspan dy="-2.5"> (K)</tspan></text>
<text x="0" y="0" font-size="11.7" text-anchor="middle" transform="translate(8.6 313.1) rotate(-90)">Gaia log g</text>
<rect x="422.50" y="0.90" width="252.20" height="182.10" fill="none" stroke="#808080" stroke-width="0.9"/>
<line x1="422.5" y1="183.0" x2="674.7" y2="0.9" stroke="#000" stroke-width="2"/>
<line x1="420.70" y1="172.32" x2="423.00" y2="172.32" stroke="#444" stroke-width="1"/>
<text x="416.2" y="176.4" font-size="11.5" text-anchor="end" >3000</text>
<line x1="420.70" y1="131.23" x2="423.00" y2="131.23" stroke="#444" stroke-width="1"/>
<text x="416.2" y="135.3" font-size="11.5" text-anchor="end" >4000</text>
<line x1="420.70" y1="99.36" x2="423.00" y2="99.36" stroke="#444" stroke-width="1"/>
<text x="416.2" y="103.5" font-size="11.5" text-anchor="end" >5000</text>
<line x1="420.70" y1="73.32" x2="423.00" y2="73.32" stroke="#444" stroke-width="1"/>
<text x="416.2" y="77.4" font-size="11.5" text-anchor="end" >6000</text>
<line x1="420.70" y1="51.30" x2="423.00" y2="51.30" stroke="#444" stroke-width="1"/>
<text x="416.2" y="55.4" font-size="11.5" text-anchor="end" >7000</text>
<line x1="420.70" y1="32.22" x2="423.00" y2="32.22" stroke="#444" stroke-width="1"/>
<text x="416.2" y="36.3" font-size="11.5" text-anchor="end" >8000</text>
<line x1="420.70" y1="15.40" x2="423.00" y2="15.40" stroke="#444" stroke-width="1"/>
<text x="416.2" y="19.5" font-size="11.5" text-anchor="end" >9000</text>
<line x1="493.90" y1="182.50" x2="493.90" y2="184.80" stroke="#444" stroke-width="1"/>
<text x="493.9" y="198.2" font-size="11.5" text-anchor="middle" >4000</text>
<line x1="574.00" y1="182.50" x2="574.00" y2="184.80" stroke="#444" stroke-width="1"/>
<text x="574.0" y="198.2" font-size="11.5" text-anchor="middle" >6000</text>
<line x1="630.83" y1="182.50" x2="630.83" y2="184.80" stroke="#444" stroke-width="1"/>
<text x="630.8" y="198.2" font-size="11.5" text-anchor="middle" >8000</text>
<line x1="437.06" y1="183.50" x2="437.06" y2="181.80" stroke="#555" stroke-width="1"/>
<line x1="452.88" y1="183.50" x2="452.88" y2="181.80" stroke="#555" stroke-width="1"/>
<line x1="467.52" y1="183.50" x2="467.52" y2="181.80" stroke="#555" stroke-width="1"/>
<line x1="481.15" y1="183.50" x2="481.15" y2="181.80" stroke="#555" stroke-width="1"/>
<line x1="505.87" y1="183.50" x2="505.87" y2="181.80" stroke="#555" stroke-width="1"/>
<line x1="517.17" y1="183.50" x2="517.17" y2="181.80" stroke="#555" stroke-width="1"/>
<line x1="527.85" y1="183.50" x2="527.85" y2="181.80" stroke="#555" stroke-width="1"/>
<line x1="537.98" y1="183.50" x2="537.98" y2="181.80" stroke="#555" stroke-width="1"/>
<line x1="547.62" y1="183.50" x2="547.62" y2="181.80" stroke="#555" stroke-width="1"/>
<line x1="556.81" y1="183.50" x2="556.81" y2="181.80" stroke="#555" stroke-width="1"/>
<line x1="565.59" y1="183.50" x2="565.59" y2="181.80" stroke="#555" stroke-width="1"/>
<line x1="582.06" y1="183.50" x2="582.06" y2="181.80" stroke="#555" stroke-width="1"/>
<line x1="589.81" y1="183.50" x2="589.81" y2="181.80" stroke="#555" stroke-width="1"/>
<line x1="597.27" y1="183.50" x2="597.27" y2="181.80" stroke="#555" stroke-width="1"/>
<line x1="604.45" y1="183.50" x2="604.45" y2="181.80" stroke="#555" stroke-width="1"/>
<line x1="611.39" y1="183.50" x2="611.39" y2="181.80" stroke="#555" stroke-width="1"/>
<line x1="618.08" y1="183.50" x2="618.08" y2="181.80" stroke="#555" stroke-width="1"/>
<line x1="624.56" y1="183.50" x2="624.56" y2="181.80" stroke="#555" stroke-width="1"/>
<line x1="636.91" y1="183.50" x2="636.91" y2="181.80" stroke="#555" stroke-width="1"/>
<line x1="642.81" y1="183.50" x2="642.81" y2="181.80" stroke="#555" stroke-width="1"/>
<line x1="648.54" y1="183.50" x2="648.54" y2="181.80" stroke="#555" stroke-width="1"/>
<line x1="654.10" y1="183.50" x2="654.10" y2="181.80" stroke="#555" stroke-width="1"/>
<line x1="659.52" y1="183.50" x2="659.52" y2="181.80" stroke="#555" stroke-width="1"/>
<line x1="664.78" y1="183.50" x2="664.78" y2="181.80" stroke="#555" stroke-width="1"/>
<line x1="669.92" y1="183.50" x2="669.92" y2="181.80" stroke="#555" stroke-width="1"/>
<line x1="422.00" y1="182.18" x2="423.70" y2="182.18" stroke="#555" stroke-width="1"/>
<line x1="422.00" y1="163.11" x2="423.70" y2="163.11" stroke="#555" stroke-width="1"/>
<line x1="422.00" y1="154.45" x2="423.70" y2="154.45" stroke="#555" stroke-width="1"/>
<line x1="422.00" y1="146.28" x2="423.70" y2="146.28" stroke="#555" stroke-width="1"/>
<line x1="422.00" y1="138.56" x2="423.70" y2="138.56" stroke="#555" stroke-width="1"/>
<line x1="422.00" y1="124.26" x2="423.70" y2="124.26" stroke="#555" stroke-width="1"/>
<line x1="422.00" y1="117.62" x2="423.70" y2="117.62" stroke="#555" stroke-width="1"/>
<line x1="422.00" y1="111.27" x2="423.70" y2="111.27" stroke="#555" stroke-width="1"/>
<line x1="422.00" y1="105.19" x2="423.70" y2="105.19" stroke="#555" stroke-width="1"/>
<line x1="422.00" y1="93.76" x2="423.70" y2="93.76" stroke="#555" stroke-width="1"/>
<line x1="422.00" y1="88.37" x2="423.70" y2="88.37" stroke="#555" stroke-width="1"/>
<line x1="422.00" y1="83.17" x2="423.70" y2="83.17" stroke="#555" stroke-width="1"/>
<line x1="422.00" y1="78.16" x2="423.70" y2="78.16" stroke="#555" stroke-width="1"/>
<line x1="422.00" y1="68.63" x2="423.70" y2="68.63" stroke="#555" stroke-width="1"/>
<line x1="422.00" y1="64.10" x2="423.70" y2="64.10" stroke="#555" stroke-width="1"/>
<line x1="422.00" y1="59.70" x2="423.70" y2="59.70" stroke="#555" stroke-width="1"/>
<line x1="422.00" y1="55.44" x2="423.70" y2="55.44" stroke="#555" stroke-width="1"/>
<line x1="422.00" y1="47.27" x2="423.70" y2="47.27" stroke="#555" stroke-width="1"/>
<line x1="422.00" y1="43.36" x2="423.70" y2="43.36" stroke="#555" stroke-width="1"/>
<line x1="422.00" y1="39.55" x2="423.70" y2="39.55" stroke="#555" stroke-width="1"/>
<line x1="422.00" y1="35.84" x2="423.70" y2="35.84" stroke="#555" stroke-width="1"/>
<line x1="422.00" y1="28.70" x2="423.70" y2="28.70" stroke="#555" stroke-width="1"/>
<line x1="422.00" y1="25.25" x2="423.70" y2="25.25" stroke="#555" stroke-width="1"/>
<line x1="422.00" y1="21.89" x2="423.70" y2="21.89" stroke="#555" stroke-width="1"/>
<line x1="422.00" y1="18.61" x2="423.70" y2="18.61" stroke="#555" stroke-width="1"/>
<line x1="422.00" y1="12.26" x2="423.70" y2="12.26" stroke="#555" stroke-width="1"/>
<line x1="422.00" y1="9.19" x2="423.70" y2="9.19" stroke="#555" stroke-width="1"/>
<line x1="422.00" y1="6.18" x2="423.70" y2="6.18" stroke="#555" stroke-width="1"/>
<line x1="422.00" y1="3.24" x2="423.70" y2="3.24" stroke="#555" stroke-width="1"/>
<text x="548.0" y="213.5" font-size="12" text-anchor="middle" letter-spacing="0.35">Gaia T<tspan font-size="8" dy="2.5">eff</tspan><tspan dy="-2.5"> (K)</tspan></text>
<text font-size="12" text-anchor="middle" transform="translate(383 91.3) rotate(-90)">APOGEE T<tspan font-size="8" dy="2.5">eff</tspan><tspan dy="-2.5"> (K)</tspan></text>
<rect x="679.0" y="1.5" width="7.2000000000000455" height="182.0" fill="url(#cbTR)" stroke="#777" stroke-width="0.7"/>
<line x1="686.20" y1="165.12" x2="688.20" y2="165.12" stroke="#444" stroke-width="0.8"/>
<text x="692.0" y="169.2" font-size="11.5" text-anchor="start" >3.6</text>
<line x1="686.20" y1="128.35" x2="688.20" y2="128.35" stroke="#444" stroke-width="0.8"/>
<text x="692.0" y="132.4" font-size="11.5" text-anchor="start" >3.8</text>
<line x1="686.20" y1="91.58" x2="688.20" y2="91.58" stroke="#444" stroke-width="0.8"/>
<text x="692.0" y="95.7" font-size="11.5" text-anchor="start" >4.0</text>
<line x1="686.20" y1="54.81" x2="688.20" y2="54.81" stroke="#444" stroke-width="0.8"/>
<text x="692.0" y="58.9" font-size="11.5" text-anchor="start" >4.2</text>
<line x1="686.20" y1="18.05" x2="688.20" y2="18.05" stroke="#444" stroke-width="0.8"/>
<text x="692.0" y="22.1" font-size="11.5" text-anchor="start" >4.4</text>
<text font-size="12" text-anchor="middle" transform="translate(721.7 90.7) rotate(-90)">APOGEE log g</text>
<rect x="410.30" y="223.70" width="252.00" height="183.60" fill="none" stroke="#808080" stroke-width="0.9"/>
<line x1="410.3" y1="407.3" x2="662.3" y2="223.7" stroke="#000" stroke-width="2"/>
<line x1="408.50" y1="407.30" x2="410.80" y2="407.30" stroke="#444" stroke-width="1"/>
<text x="404.8" y="411.4" font-size="11.5" text-anchor="end" >3.0</text>
<line x1="410.30" y1="406.80" x2="410.30" y2="409.10" stroke="#444" stroke-width="1"/>
<text x="410.3" y="422.3" font-size="11.5" text-anchor="middle" >3.0</text>
<line x1="408.50" y1="361.40" x2="410.80" y2="361.40" stroke="#444" stroke-width="1"/>
<text x="404.8" y="365.5" font-size="11.5" text-anchor="end" >3.5</text>
<line x1="473.30" y1="406.80" x2="473.30" y2="409.10" stroke="#444" stroke-width="1"/>
<text x="473.3" y="422.3" font-size="11.5" text-anchor="middle" >3.5</text>
<line x1="408.50" y1="315.50" x2="410.80" y2="315.50" stroke="#444" stroke-width="1"/>
<text x="404.8" y="319.6" font-size="11.5" text-anchor="end" >4.0</text>
<line x1="536.30" y1="406.80" x2="536.30" y2="409.10" stroke="#444" stroke-width="1"/>
<text x="536.3" y="422.3" font-size="11.5" text-anchor="middle" >4.0</text>
<line x1="408.50" y1="269.60" x2="410.80" y2="269.60" stroke="#444" stroke-width="1"/>
<text x="404.8" y="273.7" font-size="11.5" text-anchor="end" >4.5</text>
<line x1="599.30" y1="406.80" x2="599.30" y2="409.10" stroke="#444" stroke-width="1"/>
<text x="599.3" y="422.3" font-size="11.5" text-anchor="middle" >4.5</text>
<line x1="408.50" y1="223.70" x2="410.80" y2="223.70" stroke="#444" stroke-width="1"/>
<text x="404.8" y="227.8" font-size="11.5" text-anchor="end" >5.0</text>
<line x1="662.30" y1="406.80" x2="662.30" y2="409.10" stroke="#444" stroke-width="1"/>
<text x="662.3" y="422.3" font-size="11.5" text-anchor="middle" >5.0</text>
<line x1="409.80" y1="398.12" x2="411.50" y2="398.12" stroke="#555" stroke-width="1"/>
<line x1="422.90" y1="407.80" x2="422.90" y2="406.10" stroke="#555" stroke-width="1"/>
<line x1="409.80" y1="388.94" x2="411.50" y2="388.94" stroke="#555" stroke-width="1"/>
<line x1="435.50" y1="407.80" x2="435.50" y2="406.10" stroke="#555" stroke-width="1"/>
<line x1="409.80" y1="379.76" x2="411.50" y2="379.76" stroke="#555" stroke-width="1"/>
<line x1="448.10" y1="407.80" x2="448.10" y2="406.10" stroke="#555" stroke-width="1"/>
<line x1="409.80" y1="370.58" x2="411.50" y2="370.58" stroke="#555" stroke-width="1"/>
<line x1="460.70" y1="407.80" x2="460.70" y2="406.10" stroke="#555" stroke-width="1"/>
<line x1="409.80" y1="352.22" x2="411.50" y2="352.22" stroke="#555" stroke-width="1"/>
<line x1="485.90" y1="407.80" x2="485.90" y2="406.10" stroke="#555" stroke-width="1"/>
<line x1="409.80" y1="343.04" x2="411.50" y2="343.04" stroke="#555" stroke-width="1"/>
<line x1="498.50" y1="407.80" x2="498.50" y2="406.10" stroke="#555" stroke-width="1"/>
<line x1="409.80" y1="333.86" x2="411.50" y2="333.86" stroke="#555" stroke-width="1"/>
<line x1="511.10" y1="407.80" x2="511.10" y2="406.10" stroke="#555" stroke-width="1"/>
<line x1="409.80" y1="324.68" x2="411.50" y2="324.68" stroke="#555" stroke-width="1"/>
<line x1="523.70" y1="407.80" x2="523.70" y2="406.10" stroke="#555" stroke-width="1"/>
<line x1="409.80" y1="306.32" x2="411.50" y2="306.32" stroke="#555" stroke-width="1"/>
<line x1="548.90" y1="407.80" x2="548.90" y2="406.10" stroke="#555" stroke-width="1"/>
<line x1="409.80" y1="297.14" x2="411.50" y2="297.14" stroke="#555" stroke-width="1"/>
<line x1="561.50" y1="407.80" x2="561.50" y2="406.10" stroke="#555" stroke-width="1"/>
<line x1="409.80" y1="287.96" x2="411.50" y2="287.96" stroke="#555" stroke-width="1"/>
<line x1="574.10" y1="407.80" x2="574.10" y2="406.10" stroke="#555" stroke-width="1"/>
<line x1="409.80" y1="278.78" x2="411.50" y2="278.78" stroke="#555" stroke-width="1"/>
<line x1="586.70" y1="407.80" x2="586.70" y2="406.10" stroke="#555" stroke-width="1"/>
<line x1="409.80" y1="260.42" x2="411.50" y2="260.42" stroke="#555" stroke-width="1"/>
<line x1="611.90" y1="407.80" x2="611.90" y2="406.10" stroke="#555" stroke-width="1"/>
<line x1="409.80" y1="251.24" x2="411.50" y2="251.24" stroke="#555" stroke-width="1"/>
<line x1="624.50" y1="407.80" x2="624.50" y2="406.10" stroke="#555" stroke-width="1"/>
<line x1="409.80" y1="242.06" x2="411.50" y2="242.06" stroke="#555" stroke-width="1"/>
<line x1="637.10" y1="407.80" x2="637.10" y2="406.10" stroke="#555" stroke-width="1"/>
<line x1="409.80" y1="232.88" x2="411.50" y2="232.88" stroke="#555" stroke-width="1"/>
<line x1="649.70" y1="407.80" x2="649.70" y2="406.10" stroke="#555" stroke-width="1"/>
<text x="536.0" y="437.3" font-size="12" text-anchor="middle" >Gaia log g</text>
<text font-size="12" text-anchor="middle" transform="translate(380.5 315.2) rotate(-90)">APOGEE log g</text>
<rect x="667.2" y="224.7" width="6.2999999999999545" height="182.60000000000002" fill="url(#cbBR)" stroke="#777" stroke-width="0.7"/>
<line x1="673.50" y1="407.23" x2="675.50" y2="407.23" stroke="#444" stroke-width="0.8"/>
<text x="680.0" y="411.3" font-size="11.5" text-anchor="start" >3000</text>
<line x1="673.50" y1="363.42" x2="675.50" y2="363.42" stroke="#444" stroke-width="0.8"/>
<text x="680.0" y="367.5" font-size="11.5" text-anchor="start" >4000</text>
<line x1="673.50" y1="329.44" x2="675.50" y2="329.44" stroke="#444" stroke-width="0.8"/>
<text x="680.0" y="333.5" font-size="11.5" text-anchor="start" >5000</text>
<line x1="673.50" y1="301.67" x2="675.50" y2="301.67" stroke="#444" stroke-width="0.8"/>
<text x="680.0" y="305.8" font-size="11.5" text-anchor="start" >6000</text>
<line x1="673.50" y1="278.20" x2="675.50" y2="278.20" stroke="#444" stroke-width="0.8"/>
<text x="680.0" y="282.3" font-size="11.5" text-anchor="start" >7000</text>
<line x1="673.50" y1="257.86" x2="675.50" y2="257.86" stroke="#444" stroke-width="0.8"/>
<text x="680.0" y="262.0" font-size="11.5" text-anchor="start" >8000</text>
<line x1="673.50" y1="239.92" x2="675.50" y2="239.92" stroke="#444" stroke-width="0.8"/>
<text x="680.0" y="244.0" font-size="11.5" text-anchor="start" >9000</text>
<text font-size="12" text-anchor="middle" transform="translate(721 314.5) rotate(-90)">APOGEE T<tspan font-size="8" dy="2.5">eff</tspan><tspan dy="-2.5"> (K)</tspan></text>
</svg></body></html>
